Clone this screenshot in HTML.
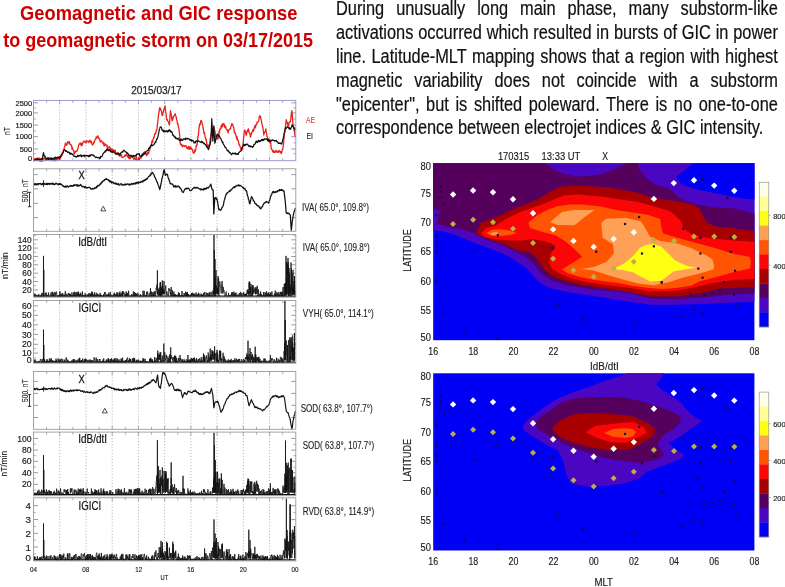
<!DOCTYPE html>
<html><head><meta charset="utf-8"><title>Geomagnetic and GIC response</title>
<style>
html,body{margin:0;padding:0;background:#fff;}
body{width:785px;height:587px;position:relative;overflow:hidden;}
.ttl{position:absolute;left:-100px;width:517px;text-align:center;font-family:"Liberation Sans",Arial,sans-serif;font-weight:bold;font-size:20.8px;color:#cc0000;white-space:nowrap;line-height:24px;}
.ttl span{display:inline-block;transform:scaleX(0.9);transform-origin:center;}
.par{position:absolute;left:335.8px;font-family:"Liberation Sans",Arial,sans-serif;font-size:19.4px;color:#111;line-height:22px;white-space:nowrap;transform-origin:0 0;-webkit-text-stroke:0.2px #111;}
.j{text-align:justify;text-align-last:justify;}
svg{position:absolute;left:0;top:0;}
</style></head><body>
<div class="ttl" style="top:0.9px"><span style="transform:scaleX(0.879)">Geomagnetic and GIC response</span></div>
<div class="ttl" style="top:27.5px"><span style="transform:scaleX(0.865)">to geomagnetic storm on 03/17/2015</span></div>
<div class="par j" style="top:-3.2px;width:523.5px;transform:scaleX(0.844)">During unusually long main phase, many substorm-like</div>
<div class="par j" style="top:21.2px;width:523.5px;transform:scaleX(0.844)">activations occurred which resulted in bursts of GIC in power</div>
<div class="par j" style="top:45.1px;width:523.5px;transform:scaleX(0.844)">line. Latitude-MLT mapping shows that a region with highest</div>
<div class="par j" style="top:68.8px;width:523.5px;transform:scaleX(0.844)">magnetic variability does not coincide with a substorm</div>
<div class="par j" style="top:92.6px;width:523.5px;transform:scaleX(0.844)">"epicenter", but is shifted poleward. There is no one-to-one</div>
<div class="par" style="top:116.1px;width:523.5px;transform:scaleX(0.844)">correspondence between electrojet indices &amp; GIC intensity.</div>
<svg width="785" height="587" viewBox="0 0 785 587">
<g font-family="Liberation Sans, Arial, sans-serif" fill="#222">
<text x="131.2" y="94.3" font-size="11.8" stroke="#222" stroke-width="0.25" textLength="50.4" lengthAdjust="spacingAndGlyphs">2015/03/17</text>
<line x1="59.7" y1="100.4" x2="59.7" y2="160.7" stroke="#8a8a8a" stroke-width="0.7" stroke-dasharray="1 2"/>
<line x1="86" y1="100.4" x2="86" y2="160.7" stroke="#8a8a8a" stroke-width="0.7" stroke-dasharray="1 2"/>
<line x1="112.2" y1="100.4" x2="112.2" y2="160.7" stroke="#8a8a8a" stroke-width="0.7" stroke-dasharray="1 2"/>
<line x1="138.4" y1="100.4" x2="138.4" y2="160.7" stroke="#8a8a8a" stroke-width="0.7" stroke-dasharray="1 2"/>
<line x1="164.7" y1="100.4" x2="164.7" y2="160.7" stroke="#8a8a8a" stroke-width="0.7" stroke-dasharray="1 2"/>
<line x1="190.9" y1="100.4" x2="190.9" y2="160.7" stroke="#8a8a8a" stroke-width="0.7" stroke-dasharray="1 2"/>
<line x1="217.1" y1="100.4" x2="217.1" y2="160.7" stroke="#8a8a8a" stroke-width="0.7" stroke-dasharray="1 2"/>
<line x1="243.3" y1="100.4" x2="243.3" y2="160.7" stroke="#8a8a8a" stroke-width="0.7" stroke-dasharray="1 2"/>
<line x1="269.6" y1="100.4" x2="269.6" y2="160.7" stroke="#8a8a8a" stroke-width="0.7" stroke-dasharray="1 2"/>
<line x1="46.6" y1="160.7" x2="46.6" y2="158.2" stroke="#777" stroke-width="0.6"/>
<line x1="46.6" y1="100.4" x2="46.6" y2="102.9" stroke="#777" stroke-width="0.6"/>
<line x1="59.7" y1="160.7" x2="59.7" y2="157.2" stroke="#777" stroke-width="0.6"/>
<line x1="59.7" y1="100.4" x2="59.7" y2="103.9" stroke="#777" stroke-width="0.6"/>
<line x1="72.8" y1="160.7" x2="72.8" y2="158.2" stroke="#777" stroke-width="0.6"/>
<line x1="72.8" y1="100.4" x2="72.8" y2="102.9" stroke="#777" stroke-width="0.6"/>
<line x1="86" y1="160.7" x2="86" y2="157.2" stroke="#777" stroke-width="0.6"/>
<line x1="86" y1="100.4" x2="86" y2="103.9" stroke="#777" stroke-width="0.6"/>
<line x1="99.1" y1="160.7" x2="99.1" y2="158.2" stroke="#777" stroke-width="0.6"/>
<line x1="99.1" y1="100.4" x2="99.1" y2="102.9" stroke="#777" stroke-width="0.6"/>
<line x1="112.2" y1="160.7" x2="112.2" y2="157.2" stroke="#777" stroke-width="0.6"/>
<line x1="112.2" y1="100.4" x2="112.2" y2="103.9" stroke="#777" stroke-width="0.6"/>
<line x1="125.3" y1="160.7" x2="125.3" y2="158.2" stroke="#777" stroke-width="0.6"/>
<line x1="125.3" y1="100.4" x2="125.3" y2="102.9" stroke="#777" stroke-width="0.6"/>
<line x1="138.4" y1="160.7" x2="138.4" y2="157.2" stroke="#777" stroke-width="0.6"/>
<line x1="138.4" y1="100.4" x2="138.4" y2="103.9" stroke="#777" stroke-width="0.6"/>
<line x1="151.5" y1="160.7" x2="151.5" y2="158.2" stroke="#777" stroke-width="0.6"/>
<line x1="151.5" y1="100.4" x2="151.5" y2="102.9" stroke="#777" stroke-width="0.6"/>
<line x1="164.7" y1="160.7" x2="164.7" y2="157.2" stroke="#777" stroke-width="0.6"/>
<line x1="164.7" y1="100.4" x2="164.7" y2="103.9" stroke="#777" stroke-width="0.6"/>
<line x1="177.8" y1="160.7" x2="177.8" y2="158.2" stroke="#777" stroke-width="0.6"/>
<line x1="177.8" y1="100.4" x2="177.8" y2="102.9" stroke="#777" stroke-width="0.6"/>
<line x1="190.9" y1="160.7" x2="190.9" y2="157.2" stroke="#777" stroke-width="0.6"/>
<line x1="190.9" y1="100.4" x2="190.9" y2="103.9" stroke="#777" stroke-width="0.6"/>
<line x1="204" y1="160.7" x2="204" y2="158.2" stroke="#777" stroke-width="0.6"/>
<line x1="204" y1="100.4" x2="204" y2="102.9" stroke="#777" stroke-width="0.6"/>
<line x1="217.1" y1="160.7" x2="217.1" y2="157.2" stroke="#777" stroke-width="0.6"/>
<line x1="217.1" y1="100.4" x2="217.1" y2="103.9" stroke="#777" stroke-width="0.6"/>
<line x1="230.2" y1="160.7" x2="230.2" y2="158.2" stroke="#777" stroke-width="0.6"/>
<line x1="230.2" y1="100.4" x2="230.2" y2="102.9" stroke="#777" stroke-width="0.6"/>
<line x1="243.3" y1="160.7" x2="243.3" y2="157.2" stroke="#777" stroke-width="0.6"/>
<line x1="243.3" y1="100.4" x2="243.3" y2="103.9" stroke="#777" stroke-width="0.6"/>
<line x1="256.5" y1="160.7" x2="256.5" y2="158.2" stroke="#777" stroke-width="0.6"/>
<line x1="256.5" y1="100.4" x2="256.5" y2="102.9" stroke="#777" stroke-width="0.6"/>
<line x1="269.6" y1="160.7" x2="269.6" y2="157.2" stroke="#777" stroke-width="0.6"/>
<line x1="269.6" y1="100.4" x2="269.6" y2="103.9" stroke="#777" stroke-width="0.6"/>
<line x1="282.7" y1="160.7" x2="282.7" y2="158.2" stroke="#777" stroke-width="0.6"/>
<line x1="282.7" y1="100.4" x2="282.7" y2="102.9" stroke="#777" stroke-width="0.6"/>
<line x1="59.7" y1="168.8" x2="59.7" y2="231.3" stroke="#8a8a8a" stroke-width="0.7" stroke-dasharray="1 2"/>
<line x1="86" y1="168.8" x2="86" y2="231.3" stroke="#8a8a8a" stroke-width="0.7" stroke-dasharray="1 2"/>
<line x1="112.2" y1="168.8" x2="112.2" y2="231.3" stroke="#8a8a8a" stroke-width="0.7" stroke-dasharray="1 2"/>
<line x1="138.4" y1="168.8" x2="138.4" y2="231.3" stroke="#8a8a8a" stroke-width="0.7" stroke-dasharray="1 2"/>
<line x1="164.7" y1="168.8" x2="164.7" y2="231.3" stroke="#8a8a8a" stroke-width="0.7" stroke-dasharray="1 2"/>
<line x1="190.9" y1="168.8" x2="190.9" y2="231.3" stroke="#8a8a8a" stroke-width="0.7" stroke-dasharray="1 2"/>
<line x1="217.1" y1="168.8" x2="217.1" y2="231.3" stroke="#8a8a8a" stroke-width="0.7" stroke-dasharray="1 2"/>
<line x1="243.3" y1="168.8" x2="243.3" y2="231.3" stroke="#8a8a8a" stroke-width="0.7" stroke-dasharray="1 2"/>
<line x1="269.6" y1="168.8" x2="269.6" y2="231.3" stroke="#8a8a8a" stroke-width="0.7" stroke-dasharray="1 2"/>
<line x1="46.6" y1="231.3" x2="46.6" y2="228.8" stroke="#777" stroke-width="0.6"/>
<line x1="46.6" y1="168.8" x2="46.6" y2="171.3" stroke="#777" stroke-width="0.6"/>
<line x1="59.7" y1="231.3" x2="59.7" y2="227.8" stroke="#777" stroke-width="0.6"/>
<line x1="59.7" y1="168.8" x2="59.7" y2="172.3" stroke="#777" stroke-width="0.6"/>
<line x1="72.8" y1="231.3" x2="72.8" y2="228.8" stroke="#777" stroke-width="0.6"/>
<line x1="72.8" y1="168.8" x2="72.8" y2="171.3" stroke="#777" stroke-width="0.6"/>
<line x1="86" y1="231.3" x2="86" y2="227.8" stroke="#777" stroke-width="0.6"/>
<line x1="86" y1="168.8" x2="86" y2="172.3" stroke="#777" stroke-width="0.6"/>
<line x1="99.1" y1="231.3" x2="99.1" y2="228.8" stroke="#777" stroke-width="0.6"/>
<line x1="99.1" y1="168.8" x2="99.1" y2="171.3" stroke="#777" stroke-width="0.6"/>
<line x1="112.2" y1="231.3" x2="112.2" y2="227.8" stroke="#777" stroke-width="0.6"/>
<line x1="112.2" y1="168.8" x2="112.2" y2="172.3" stroke="#777" stroke-width="0.6"/>
<line x1="125.3" y1="231.3" x2="125.3" y2="228.8" stroke="#777" stroke-width="0.6"/>
<line x1="125.3" y1="168.8" x2="125.3" y2="171.3" stroke="#777" stroke-width="0.6"/>
<line x1="138.4" y1="231.3" x2="138.4" y2="227.8" stroke="#777" stroke-width="0.6"/>
<line x1="138.4" y1="168.8" x2="138.4" y2="172.3" stroke="#777" stroke-width="0.6"/>
<line x1="151.5" y1="231.3" x2="151.5" y2="228.8" stroke="#777" stroke-width="0.6"/>
<line x1="151.5" y1="168.8" x2="151.5" y2="171.3" stroke="#777" stroke-width="0.6"/>
<line x1="164.7" y1="231.3" x2="164.7" y2="227.8" stroke="#777" stroke-width="0.6"/>
<line x1="164.7" y1="168.8" x2="164.7" y2="172.3" stroke="#777" stroke-width="0.6"/>
<line x1="177.8" y1="231.3" x2="177.8" y2="228.8" stroke="#777" stroke-width="0.6"/>
<line x1="177.8" y1="168.8" x2="177.8" y2="171.3" stroke="#777" stroke-width="0.6"/>
<line x1="190.9" y1="231.3" x2="190.9" y2="227.8" stroke="#777" stroke-width="0.6"/>
<line x1="190.9" y1="168.8" x2="190.9" y2="172.3" stroke="#777" stroke-width="0.6"/>
<line x1="204" y1="231.3" x2="204" y2="228.8" stroke="#777" stroke-width="0.6"/>
<line x1="204" y1="168.8" x2="204" y2="171.3" stroke="#777" stroke-width="0.6"/>
<line x1="217.1" y1="231.3" x2="217.1" y2="227.8" stroke="#777" stroke-width="0.6"/>
<line x1="217.1" y1="168.8" x2="217.1" y2="172.3" stroke="#777" stroke-width="0.6"/>
<line x1="230.2" y1="231.3" x2="230.2" y2="228.8" stroke="#777" stroke-width="0.6"/>
<line x1="230.2" y1="168.8" x2="230.2" y2="171.3" stroke="#777" stroke-width="0.6"/>
<line x1="243.3" y1="231.3" x2="243.3" y2="227.8" stroke="#777" stroke-width="0.6"/>
<line x1="243.3" y1="168.8" x2="243.3" y2="172.3" stroke="#777" stroke-width="0.6"/>
<line x1="256.5" y1="231.3" x2="256.5" y2="228.8" stroke="#777" stroke-width="0.6"/>
<line x1="256.5" y1="168.8" x2="256.5" y2="171.3" stroke="#777" stroke-width="0.6"/>
<line x1="269.6" y1="231.3" x2="269.6" y2="227.8" stroke="#777" stroke-width="0.6"/>
<line x1="269.6" y1="168.8" x2="269.6" y2="172.3" stroke="#777" stroke-width="0.6"/>
<line x1="282.7" y1="231.3" x2="282.7" y2="228.8" stroke="#777" stroke-width="0.6"/>
<line x1="282.7" y1="168.8" x2="282.7" y2="171.3" stroke="#777" stroke-width="0.6"/>
<line x1="59.7" y1="234.5" x2="59.7" y2="297.2" stroke="#8a8a8a" stroke-width="0.7" stroke-dasharray="1 2"/>
<line x1="86" y1="234.5" x2="86" y2="297.2" stroke="#8a8a8a" stroke-width="0.7" stroke-dasharray="1 2"/>
<line x1="112.2" y1="234.5" x2="112.2" y2="297.2" stroke="#8a8a8a" stroke-width="0.7" stroke-dasharray="1 2"/>
<line x1="138.4" y1="234.5" x2="138.4" y2="297.2" stroke="#8a8a8a" stroke-width="0.7" stroke-dasharray="1 2"/>
<line x1="164.7" y1="234.5" x2="164.7" y2="297.2" stroke="#8a8a8a" stroke-width="0.7" stroke-dasharray="1 2"/>
<line x1="190.9" y1="234.5" x2="190.9" y2="297.2" stroke="#8a8a8a" stroke-width="0.7" stroke-dasharray="1 2"/>
<line x1="217.1" y1="234.5" x2="217.1" y2="297.2" stroke="#8a8a8a" stroke-width="0.7" stroke-dasharray="1 2"/>
<line x1="243.3" y1="234.5" x2="243.3" y2="297.2" stroke="#8a8a8a" stroke-width="0.7" stroke-dasharray="1 2"/>
<line x1="269.6" y1="234.5" x2="269.6" y2="297.2" stroke="#8a8a8a" stroke-width="0.7" stroke-dasharray="1 2"/>
<line x1="46.6" y1="297.2" x2="46.6" y2="294.7" stroke="#777" stroke-width="0.6"/>
<line x1="46.6" y1="234.5" x2="46.6" y2="237" stroke="#777" stroke-width="0.6"/>
<line x1="59.7" y1="297.2" x2="59.7" y2="293.7" stroke="#777" stroke-width="0.6"/>
<line x1="59.7" y1="234.5" x2="59.7" y2="238" stroke="#777" stroke-width="0.6"/>
<line x1="72.8" y1="297.2" x2="72.8" y2="294.7" stroke="#777" stroke-width="0.6"/>
<line x1="72.8" y1="234.5" x2="72.8" y2="237" stroke="#777" stroke-width="0.6"/>
<line x1="86" y1="297.2" x2="86" y2="293.7" stroke="#777" stroke-width="0.6"/>
<line x1="86" y1="234.5" x2="86" y2="238" stroke="#777" stroke-width="0.6"/>
<line x1="99.1" y1="297.2" x2="99.1" y2="294.7" stroke="#777" stroke-width="0.6"/>
<line x1="99.1" y1="234.5" x2="99.1" y2="237" stroke="#777" stroke-width="0.6"/>
<line x1="112.2" y1="297.2" x2="112.2" y2="293.7" stroke="#777" stroke-width="0.6"/>
<line x1="112.2" y1="234.5" x2="112.2" y2="238" stroke="#777" stroke-width="0.6"/>
<line x1="125.3" y1="297.2" x2="125.3" y2="294.7" stroke="#777" stroke-width="0.6"/>
<line x1="125.3" y1="234.5" x2="125.3" y2="237" stroke="#777" stroke-width="0.6"/>
<line x1="138.4" y1="297.2" x2="138.4" y2="293.7" stroke="#777" stroke-width="0.6"/>
<line x1="138.4" y1="234.5" x2="138.4" y2="238" stroke="#777" stroke-width="0.6"/>
<line x1="151.5" y1="297.2" x2="151.5" y2="294.7" stroke="#777" stroke-width="0.6"/>
<line x1="151.5" y1="234.5" x2="151.5" y2="237" stroke="#777" stroke-width="0.6"/>
<line x1="164.7" y1="297.2" x2="164.7" y2="293.7" stroke="#777" stroke-width="0.6"/>
<line x1="164.7" y1="234.5" x2="164.7" y2="238" stroke="#777" stroke-width="0.6"/>
<line x1="177.8" y1="297.2" x2="177.8" y2="294.7" stroke="#777" stroke-width="0.6"/>
<line x1="177.8" y1="234.5" x2="177.8" y2="237" stroke="#777" stroke-width="0.6"/>
<line x1="190.9" y1="297.2" x2="190.9" y2="293.7" stroke="#777" stroke-width="0.6"/>
<line x1="190.9" y1="234.5" x2="190.9" y2="238" stroke="#777" stroke-width="0.6"/>
<line x1="204" y1="297.2" x2="204" y2="294.7" stroke="#777" stroke-width="0.6"/>
<line x1="204" y1="234.5" x2="204" y2="237" stroke="#777" stroke-width="0.6"/>
<line x1="217.1" y1="297.2" x2="217.1" y2="293.7" stroke="#777" stroke-width="0.6"/>
<line x1="217.1" y1="234.5" x2="217.1" y2="238" stroke="#777" stroke-width="0.6"/>
<line x1="230.2" y1="297.2" x2="230.2" y2="294.7" stroke="#777" stroke-width="0.6"/>
<line x1="230.2" y1="234.5" x2="230.2" y2="237" stroke="#777" stroke-width="0.6"/>
<line x1="243.3" y1="297.2" x2="243.3" y2="293.7" stroke="#777" stroke-width="0.6"/>
<line x1="243.3" y1="234.5" x2="243.3" y2="238" stroke="#777" stroke-width="0.6"/>
<line x1="256.5" y1="297.2" x2="256.5" y2="294.7" stroke="#777" stroke-width="0.6"/>
<line x1="256.5" y1="234.5" x2="256.5" y2="237" stroke="#777" stroke-width="0.6"/>
<line x1="269.6" y1="297.2" x2="269.6" y2="293.7" stroke="#777" stroke-width="0.6"/>
<line x1="269.6" y1="234.5" x2="269.6" y2="238" stroke="#777" stroke-width="0.6"/>
<line x1="282.7" y1="297.2" x2="282.7" y2="294.7" stroke="#777" stroke-width="0.6"/>
<line x1="282.7" y1="234.5" x2="282.7" y2="237" stroke="#777" stroke-width="0.6"/>
<line x1="59.7" y1="300.5" x2="59.7" y2="363.2" stroke="#8a8a8a" stroke-width="0.7" stroke-dasharray="1 2"/>
<line x1="86" y1="300.5" x2="86" y2="363.2" stroke="#8a8a8a" stroke-width="0.7" stroke-dasharray="1 2"/>
<line x1="112.2" y1="300.5" x2="112.2" y2="363.2" stroke="#8a8a8a" stroke-width="0.7" stroke-dasharray="1 2"/>
<line x1="138.4" y1="300.5" x2="138.4" y2="363.2" stroke="#8a8a8a" stroke-width="0.7" stroke-dasharray="1 2"/>
<line x1="164.7" y1="300.5" x2="164.7" y2="363.2" stroke="#8a8a8a" stroke-width="0.7" stroke-dasharray="1 2"/>
<line x1="190.9" y1="300.5" x2="190.9" y2="363.2" stroke="#8a8a8a" stroke-width="0.7" stroke-dasharray="1 2"/>
<line x1="217.1" y1="300.5" x2="217.1" y2="363.2" stroke="#8a8a8a" stroke-width="0.7" stroke-dasharray="1 2"/>
<line x1="243.3" y1="300.5" x2="243.3" y2="363.2" stroke="#8a8a8a" stroke-width="0.7" stroke-dasharray="1 2"/>
<line x1="269.6" y1="300.5" x2="269.6" y2="363.2" stroke="#8a8a8a" stroke-width="0.7" stroke-dasharray="1 2"/>
<line x1="46.6" y1="363.2" x2="46.6" y2="360.7" stroke="#777" stroke-width="0.6"/>
<line x1="46.6" y1="300.5" x2="46.6" y2="303" stroke="#777" stroke-width="0.6"/>
<line x1="59.7" y1="363.2" x2="59.7" y2="359.7" stroke="#777" stroke-width="0.6"/>
<line x1="59.7" y1="300.5" x2="59.7" y2="304" stroke="#777" stroke-width="0.6"/>
<line x1="72.8" y1="363.2" x2="72.8" y2="360.7" stroke="#777" stroke-width="0.6"/>
<line x1="72.8" y1="300.5" x2="72.8" y2="303" stroke="#777" stroke-width="0.6"/>
<line x1="86" y1="363.2" x2="86" y2="359.7" stroke="#777" stroke-width="0.6"/>
<line x1="86" y1="300.5" x2="86" y2="304" stroke="#777" stroke-width="0.6"/>
<line x1="99.1" y1="363.2" x2="99.1" y2="360.7" stroke="#777" stroke-width="0.6"/>
<line x1="99.1" y1="300.5" x2="99.1" y2="303" stroke="#777" stroke-width="0.6"/>
<line x1="112.2" y1="363.2" x2="112.2" y2="359.7" stroke="#777" stroke-width="0.6"/>
<line x1="112.2" y1="300.5" x2="112.2" y2="304" stroke="#777" stroke-width="0.6"/>
<line x1="125.3" y1="363.2" x2="125.3" y2="360.7" stroke="#777" stroke-width="0.6"/>
<line x1="125.3" y1="300.5" x2="125.3" y2="303" stroke="#777" stroke-width="0.6"/>
<line x1="138.4" y1="363.2" x2="138.4" y2="359.7" stroke="#777" stroke-width="0.6"/>
<line x1="138.4" y1="300.5" x2="138.4" y2="304" stroke="#777" stroke-width="0.6"/>
<line x1="151.5" y1="363.2" x2="151.5" y2="360.7" stroke="#777" stroke-width="0.6"/>
<line x1="151.5" y1="300.5" x2="151.5" y2="303" stroke="#777" stroke-width="0.6"/>
<line x1="164.7" y1="363.2" x2="164.7" y2="359.7" stroke="#777" stroke-width="0.6"/>
<line x1="164.7" y1="300.5" x2="164.7" y2="304" stroke="#777" stroke-width="0.6"/>
<line x1="177.8" y1="363.2" x2="177.8" y2="360.7" stroke="#777" stroke-width="0.6"/>
<line x1="177.8" y1="300.5" x2="177.8" y2="303" stroke="#777" stroke-width="0.6"/>
<line x1="190.9" y1="363.2" x2="190.9" y2="359.7" stroke="#777" stroke-width="0.6"/>
<line x1="190.9" y1="300.5" x2="190.9" y2="304" stroke="#777" stroke-width="0.6"/>
<line x1="204" y1="363.2" x2="204" y2="360.7" stroke="#777" stroke-width="0.6"/>
<line x1="204" y1="300.5" x2="204" y2="303" stroke="#777" stroke-width="0.6"/>
<line x1="217.1" y1="363.2" x2="217.1" y2="359.7" stroke="#777" stroke-width="0.6"/>
<line x1="217.1" y1="300.5" x2="217.1" y2="304" stroke="#777" stroke-width="0.6"/>
<line x1="230.2" y1="363.2" x2="230.2" y2="360.7" stroke="#777" stroke-width="0.6"/>
<line x1="230.2" y1="300.5" x2="230.2" y2="303" stroke="#777" stroke-width="0.6"/>
<line x1="243.3" y1="363.2" x2="243.3" y2="359.7" stroke="#777" stroke-width="0.6"/>
<line x1="243.3" y1="300.5" x2="243.3" y2="304" stroke="#777" stroke-width="0.6"/>
<line x1="256.5" y1="363.2" x2="256.5" y2="360.7" stroke="#777" stroke-width="0.6"/>
<line x1="256.5" y1="300.5" x2="256.5" y2="303" stroke="#777" stroke-width="0.6"/>
<line x1="269.6" y1="363.2" x2="269.6" y2="359.7" stroke="#777" stroke-width="0.6"/>
<line x1="269.6" y1="300.5" x2="269.6" y2="304" stroke="#777" stroke-width="0.6"/>
<line x1="282.7" y1="363.2" x2="282.7" y2="360.7" stroke="#777" stroke-width="0.6"/>
<line x1="282.7" y1="300.5" x2="282.7" y2="303" stroke="#777" stroke-width="0.6"/>
<line x1="59.7" y1="371.5" x2="59.7" y2="429.3" stroke="#8a8a8a" stroke-width="0.7" stroke-dasharray="1 2"/>
<line x1="86" y1="371.5" x2="86" y2="429.3" stroke="#8a8a8a" stroke-width="0.7" stroke-dasharray="1 2"/>
<line x1="112.2" y1="371.5" x2="112.2" y2="429.3" stroke="#8a8a8a" stroke-width="0.7" stroke-dasharray="1 2"/>
<line x1="138.4" y1="371.5" x2="138.4" y2="429.3" stroke="#8a8a8a" stroke-width="0.7" stroke-dasharray="1 2"/>
<line x1="164.7" y1="371.5" x2="164.7" y2="429.3" stroke="#8a8a8a" stroke-width="0.7" stroke-dasharray="1 2"/>
<line x1="190.9" y1="371.5" x2="190.9" y2="429.3" stroke="#8a8a8a" stroke-width="0.7" stroke-dasharray="1 2"/>
<line x1="217.1" y1="371.5" x2="217.1" y2="429.3" stroke="#8a8a8a" stroke-width="0.7" stroke-dasharray="1 2"/>
<line x1="243.3" y1="371.5" x2="243.3" y2="429.3" stroke="#8a8a8a" stroke-width="0.7" stroke-dasharray="1 2"/>
<line x1="269.6" y1="371.5" x2="269.6" y2="429.3" stroke="#8a8a8a" stroke-width="0.7" stroke-dasharray="1 2"/>
<line x1="46.6" y1="429.3" x2="46.6" y2="426.8" stroke="#777" stroke-width="0.6"/>
<line x1="46.6" y1="371.5" x2="46.6" y2="374" stroke="#777" stroke-width="0.6"/>
<line x1="59.7" y1="429.3" x2="59.7" y2="425.8" stroke="#777" stroke-width="0.6"/>
<line x1="59.7" y1="371.5" x2="59.7" y2="375" stroke="#777" stroke-width="0.6"/>
<line x1="72.8" y1="429.3" x2="72.8" y2="426.8" stroke="#777" stroke-width="0.6"/>
<line x1="72.8" y1="371.5" x2="72.8" y2="374" stroke="#777" stroke-width="0.6"/>
<line x1="86" y1="429.3" x2="86" y2="425.8" stroke="#777" stroke-width="0.6"/>
<line x1="86" y1="371.5" x2="86" y2="375" stroke="#777" stroke-width="0.6"/>
<line x1="99.1" y1="429.3" x2="99.1" y2="426.8" stroke="#777" stroke-width="0.6"/>
<line x1="99.1" y1="371.5" x2="99.1" y2="374" stroke="#777" stroke-width="0.6"/>
<line x1="112.2" y1="429.3" x2="112.2" y2="425.8" stroke="#777" stroke-width="0.6"/>
<line x1="112.2" y1="371.5" x2="112.2" y2="375" stroke="#777" stroke-width="0.6"/>
<line x1="125.3" y1="429.3" x2="125.3" y2="426.8" stroke="#777" stroke-width="0.6"/>
<line x1="125.3" y1="371.5" x2="125.3" y2="374" stroke="#777" stroke-width="0.6"/>
<line x1="138.4" y1="429.3" x2="138.4" y2="425.8" stroke="#777" stroke-width="0.6"/>
<line x1="138.4" y1="371.5" x2="138.4" y2="375" stroke="#777" stroke-width="0.6"/>
<line x1="151.5" y1="429.3" x2="151.5" y2="426.8" stroke="#777" stroke-width="0.6"/>
<line x1="151.5" y1="371.5" x2="151.5" y2="374" stroke="#777" stroke-width="0.6"/>
<line x1="164.7" y1="429.3" x2="164.7" y2="425.8" stroke="#777" stroke-width="0.6"/>
<line x1="164.7" y1="371.5" x2="164.7" y2="375" stroke="#777" stroke-width="0.6"/>
<line x1="177.8" y1="429.3" x2="177.8" y2="426.8" stroke="#777" stroke-width="0.6"/>
<line x1="177.8" y1="371.5" x2="177.8" y2="374" stroke="#777" stroke-width="0.6"/>
<line x1="190.9" y1="429.3" x2="190.9" y2="425.8" stroke="#777" stroke-width="0.6"/>
<line x1="190.9" y1="371.5" x2="190.9" y2="375" stroke="#777" stroke-width="0.6"/>
<line x1="204" y1="429.3" x2="204" y2="426.8" stroke="#777" stroke-width="0.6"/>
<line x1="204" y1="371.5" x2="204" y2="374" stroke="#777" stroke-width="0.6"/>
<line x1="217.1" y1="429.3" x2="217.1" y2="425.8" stroke="#777" stroke-width="0.6"/>
<line x1="217.1" y1="371.5" x2="217.1" y2="375" stroke="#777" stroke-width="0.6"/>
<line x1="230.2" y1="429.3" x2="230.2" y2="426.8" stroke="#777" stroke-width="0.6"/>
<line x1="230.2" y1="371.5" x2="230.2" y2="374" stroke="#777" stroke-width="0.6"/>
<line x1="243.3" y1="429.3" x2="243.3" y2="425.8" stroke="#777" stroke-width="0.6"/>
<line x1="243.3" y1="371.5" x2="243.3" y2="375" stroke="#777" stroke-width="0.6"/>
<line x1="256.5" y1="429.3" x2="256.5" y2="426.8" stroke="#777" stroke-width="0.6"/>
<line x1="256.5" y1="371.5" x2="256.5" y2="374" stroke="#777" stroke-width="0.6"/>
<line x1="269.6" y1="429.3" x2="269.6" y2="425.8" stroke="#777" stroke-width="0.6"/>
<line x1="269.6" y1="371.5" x2="269.6" y2="375" stroke="#777" stroke-width="0.6"/>
<line x1="282.7" y1="429.3" x2="282.7" y2="426.8" stroke="#777" stroke-width="0.6"/>
<line x1="282.7" y1="371.5" x2="282.7" y2="374" stroke="#777" stroke-width="0.6"/>
<line x1="59.7" y1="432.1" x2="59.7" y2="495.7" stroke="#8a8a8a" stroke-width="0.7" stroke-dasharray="1 2"/>
<line x1="86" y1="432.1" x2="86" y2="495.7" stroke="#8a8a8a" stroke-width="0.7" stroke-dasharray="1 2"/>
<line x1="112.2" y1="432.1" x2="112.2" y2="495.7" stroke="#8a8a8a" stroke-width="0.7" stroke-dasharray="1 2"/>
<line x1="138.4" y1="432.1" x2="138.4" y2="495.7" stroke="#8a8a8a" stroke-width="0.7" stroke-dasharray="1 2"/>
<line x1="164.7" y1="432.1" x2="164.7" y2="495.7" stroke="#8a8a8a" stroke-width="0.7" stroke-dasharray="1 2"/>
<line x1="190.9" y1="432.1" x2="190.9" y2="495.7" stroke="#8a8a8a" stroke-width="0.7" stroke-dasharray="1 2"/>
<line x1="217.1" y1="432.1" x2="217.1" y2="495.7" stroke="#8a8a8a" stroke-width="0.7" stroke-dasharray="1 2"/>
<line x1="243.3" y1="432.1" x2="243.3" y2="495.7" stroke="#8a8a8a" stroke-width="0.7" stroke-dasharray="1 2"/>
<line x1="269.6" y1="432.1" x2="269.6" y2="495.7" stroke="#8a8a8a" stroke-width="0.7" stroke-dasharray="1 2"/>
<line x1="46.6" y1="495.7" x2="46.6" y2="493.2" stroke="#777" stroke-width="0.6"/>
<line x1="46.6" y1="432.1" x2="46.6" y2="434.6" stroke="#777" stroke-width="0.6"/>
<line x1="59.7" y1="495.7" x2="59.7" y2="492.2" stroke="#777" stroke-width="0.6"/>
<line x1="59.7" y1="432.1" x2="59.7" y2="435.6" stroke="#777" stroke-width="0.6"/>
<line x1="72.8" y1="495.7" x2="72.8" y2="493.2" stroke="#777" stroke-width="0.6"/>
<line x1="72.8" y1="432.1" x2="72.8" y2="434.6" stroke="#777" stroke-width="0.6"/>
<line x1="86" y1="495.7" x2="86" y2="492.2" stroke="#777" stroke-width="0.6"/>
<line x1="86" y1="432.1" x2="86" y2="435.6" stroke="#777" stroke-width="0.6"/>
<line x1="99.1" y1="495.7" x2="99.1" y2="493.2" stroke="#777" stroke-width="0.6"/>
<line x1="99.1" y1="432.1" x2="99.1" y2="434.6" stroke="#777" stroke-width="0.6"/>
<line x1="112.2" y1="495.7" x2="112.2" y2="492.2" stroke="#777" stroke-width="0.6"/>
<line x1="112.2" y1="432.1" x2="112.2" y2="435.6" stroke="#777" stroke-width="0.6"/>
<line x1="125.3" y1="495.7" x2="125.3" y2="493.2" stroke="#777" stroke-width="0.6"/>
<line x1="125.3" y1="432.1" x2="125.3" y2="434.6" stroke="#777" stroke-width="0.6"/>
<line x1="138.4" y1="495.7" x2="138.4" y2="492.2" stroke="#777" stroke-width="0.6"/>
<line x1="138.4" y1="432.1" x2="138.4" y2="435.6" stroke="#777" stroke-width="0.6"/>
<line x1="151.5" y1="495.7" x2="151.5" y2="493.2" stroke="#777" stroke-width="0.6"/>
<line x1="151.5" y1="432.1" x2="151.5" y2="434.6" stroke="#777" stroke-width="0.6"/>
<line x1="164.7" y1="495.7" x2="164.7" y2="492.2" stroke="#777" stroke-width="0.6"/>
<line x1="164.7" y1="432.1" x2="164.7" y2="435.6" stroke="#777" stroke-width="0.6"/>
<line x1="177.8" y1="495.7" x2="177.8" y2="493.2" stroke="#777" stroke-width="0.6"/>
<line x1="177.8" y1="432.1" x2="177.8" y2="434.6" stroke="#777" stroke-width="0.6"/>
<line x1="190.9" y1="495.7" x2="190.9" y2="492.2" stroke="#777" stroke-width="0.6"/>
<line x1="190.9" y1="432.1" x2="190.9" y2="435.6" stroke="#777" stroke-width="0.6"/>
<line x1="204" y1="495.7" x2="204" y2="493.2" stroke="#777" stroke-width="0.6"/>
<line x1="204" y1="432.1" x2="204" y2="434.6" stroke="#777" stroke-width="0.6"/>
<line x1="217.1" y1="495.7" x2="217.1" y2="492.2" stroke="#777" stroke-width="0.6"/>
<line x1="217.1" y1="432.1" x2="217.1" y2="435.6" stroke="#777" stroke-width="0.6"/>
<line x1="230.2" y1="495.7" x2="230.2" y2="493.2" stroke="#777" stroke-width="0.6"/>
<line x1="230.2" y1="432.1" x2="230.2" y2="434.6" stroke="#777" stroke-width="0.6"/>
<line x1="243.3" y1="495.7" x2="243.3" y2="492.2" stroke="#777" stroke-width="0.6"/>
<line x1="243.3" y1="432.1" x2="243.3" y2="435.6" stroke="#777" stroke-width="0.6"/>
<line x1="256.5" y1="495.7" x2="256.5" y2="493.2" stroke="#777" stroke-width="0.6"/>
<line x1="256.5" y1="432.1" x2="256.5" y2="434.6" stroke="#777" stroke-width="0.6"/>
<line x1="269.6" y1="495.7" x2="269.6" y2="492.2" stroke="#777" stroke-width="0.6"/>
<line x1="269.6" y1="432.1" x2="269.6" y2="435.6" stroke="#777" stroke-width="0.6"/>
<line x1="282.7" y1="495.7" x2="282.7" y2="493.2" stroke="#777" stroke-width="0.6"/>
<line x1="282.7" y1="432.1" x2="282.7" y2="434.6" stroke="#777" stroke-width="0.6"/>
<line x1="59.7" y1="497.8" x2="59.7" y2="560.9" stroke="#8a8a8a" stroke-width="0.7" stroke-dasharray="1 2"/>
<line x1="86" y1="497.8" x2="86" y2="560.9" stroke="#8a8a8a" stroke-width="0.7" stroke-dasharray="1 2"/>
<line x1="112.2" y1="497.8" x2="112.2" y2="560.9" stroke="#8a8a8a" stroke-width="0.7" stroke-dasharray="1 2"/>
<line x1="138.4" y1="497.8" x2="138.4" y2="560.9" stroke="#8a8a8a" stroke-width="0.7" stroke-dasharray="1 2"/>
<line x1="164.7" y1="497.8" x2="164.7" y2="560.9" stroke="#8a8a8a" stroke-width="0.7" stroke-dasharray="1 2"/>
<line x1="190.9" y1="497.8" x2="190.9" y2="560.9" stroke="#8a8a8a" stroke-width="0.7" stroke-dasharray="1 2"/>
<line x1="217.1" y1="497.8" x2="217.1" y2="560.9" stroke="#8a8a8a" stroke-width="0.7" stroke-dasharray="1 2"/>
<line x1="243.3" y1="497.8" x2="243.3" y2="560.9" stroke="#8a8a8a" stroke-width="0.7" stroke-dasharray="1 2"/>
<line x1="269.6" y1="497.8" x2="269.6" y2="560.9" stroke="#8a8a8a" stroke-width="0.7" stroke-dasharray="1 2"/>
<line x1="46.6" y1="560.9" x2="46.6" y2="558.4" stroke="#777" stroke-width="0.6"/>
<line x1="46.6" y1="497.8" x2="46.6" y2="500.3" stroke="#777" stroke-width="0.6"/>
<line x1="59.7" y1="560.9" x2="59.7" y2="557.4" stroke="#777" stroke-width="0.6"/>
<line x1="59.7" y1="497.8" x2="59.7" y2="501.3" stroke="#777" stroke-width="0.6"/>
<line x1="72.8" y1="560.9" x2="72.8" y2="558.4" stroke="#777" stroke-width="0.6"/>
<line x1="72.8" y1="497.8" x2="72.8" y2="500.3" stroke="#777" stroke-width="0.6"/>
<line x1="86" y1="560.9" x2="86" y2="557.4" stroke="#777" stroke-width="0.6"/>
<line x1="86" y1="497.8" x2="86" y2="501.3" stroke="#777" stroke-width="0.6"/>
<line x1="99.1" y1="560.9" x2="99.1" y2="558.4" stroke="#777" stroke-width="0.6"/>
<line x1="99.1" y1="497.8" x2="99.1" y2="500.3" stroke="#777" stroke-width="0.6"/>
<line x1="112.2" y1="560.9" x2="112.2" y2="557.4" stroke="#777" stroke-width="0.6"/>
<line x1="112.2" y1="497.8" x2="112.2" y2="501.3" stroke="#777" stroke-width="0.6"/>
<line x1="125.3" y1="560.9" x2="125.3" y2="558.4" stroke="#777" stroke-width="0.6"/>
<line x1="125.3" y1="497.8" x2="125.3" y2="500.3" stroke="#777" stroke-width="0.6"/>
<line x1="138.4" y1="560.9" x2="138.4" y2="557.4" stroke="#777" stroke-width="0.6"/>
<line x1="138.4" y1="497.8" x2="138.4" y2="501.3" stroke="#777" stroke-width="0.6"/>
<line x1="151.5" y1="560.9" x2="151.5" y2="558.4" stroke="#777" stroke-width="0.6"/>
<line x1="151.5" y1="497.8" x2="151.5" y2="500.3" stroke="#777" stroke-width="0.6"/>
<line x1="164.7" y1="560.9" x2="164.7" y2="557.4" stroke="#777" stroke-width="0.6"/>
<line x1="164.7" y1="497.8" x2="164.7" y2="501.3" stroke="#777" stroke-width="0.6"/>
<line x1="177.8" y1="560.9" x2="177.8" y2="558.4" stroke="#777" stroke-width="0.6"/>
<line x1="177.8" y1="497.8" x2="177.8" y2="500.3" stroke="#777" stroke-width="0.6"/>
<line x1="190.9" y1="560.9" x2="190.9" y2="557.4" stroke="#777" stroke-width="0.6"/>
<line x1="190.9" y1="497.8" x2="190.9" y2="501.3" stroke="#777" stroke-width="0.6"/>
<line x1="204" y1="560.9" x2="204" y2="558.4" stroke="#777" stroke-width="0.6"/>
<line x1="204" y1="497.8" x2="204" y2="500.3" stroke="#777" stroke-width="0.6"/>
<line x1="217.1" y1="560.9" x2="217.1" y2="557.4" stroke="#777" stroke-width="0.6"/>
<line x1="217.1" y1="497.8" x2="217.1" y2="501.3" stroke="#777" stroke-width="0.6"/>
<line x1="230.2" y1="560.9" x2="230.2" y2="558.4" stroke="#777" stroke-width="0.6"/>
<line x1="230.2" y1="497.8" x2="230.2" y2="500.3" stroke="#777" stroke-width="0.6"/>
<line x1="243.3" y1="560.9" x2="243.3" y2="557.4" stroke="#777" stroke-width="0.6"/>
<line x1="243.3" y1="497.8" x2="243.3" y2="501.3" stroke="#777" stroke-width="0.6"/>
<line x1="256.5" y1="560.9" x2="256.5" y2="558.4" stroke="#777" stroke-width="0.6"/>
<line x1="256.5" y1="497.8" x2="256.5" y2="500.3" stroke="#777" stroke-width="0.6"/>
<line x1="269.6" y1="560.9" x2="269.6" y2="557.4" stroke="#777" stroke-width="0.6"/>
<line x1="269.6" y1="497.8" x2="269.6" y2="501.3" stroke="#777" stroke-width="0.6"/>
<line x1="282.7" y1="560.9" x2="282.7" y2="558.4" stroke="#777" stroke-width="0.6"/>
<line x1="282.7" y1="497.8" x2="282.7" y2="500.3" stroke="#777" stroke-width="0.6"/>
</g>
<line x1="33.5" y1="102.8" x2="38.0" y2="102.8" stroke="#555" stroke-width="0.6"/>
<line x1="295.8" y1="102.8" x2="291.3" y2="102.8" stroke="#555" stroke-width="0.6"/>
<line x1="33.5" y1="112.9" x2="38.0" y2="112.9" stroke="#555" stroke-width="0.6"/>
<line x1="295.8" y1="112.9" x2="291.3" y2="112.9" stroke="#555" stroke-width="0.6"/>
<line x1="33.5" y1="125.1" x2="38.0" y2="125.1" stroke="#555" stroke-width="0.6"/>
<line x1="295.8" y1="125.1" x2="291.3" y2="125.1" stroke="#555" stroke-width="0.6"/>
<line x1="33.5" y1="136.7" x2="38.0" y2="136.7" stroke="#555" stroke-width="0.6"/>
<line x1="295.8" y1="136.7" x2="291.3" y2="136.7" stroke="#555" stroke-width="0.6"/>
<line x1="33.5" y1="149" x2="38.0" y2="149" stroke="#555" stroke-width="0.6"/>
<line x1="295.8" y1="149" x2="291.3" y2="149" stroke="#555" stroke-width="0.6"/>
<line x1="33.5" y1="107.9" x2="36.0" y2="107.9" stroke="#777" stroke-width="0.6"/>
<line x1="295.8" y1="107.9" x2="293.3" y2="107.9" stroke="#777" stroke-width="0.6"/>
<line x1="33.5" y1="119" x2="36.0" y2="119" stroke="#777" stroke-width="0.6"/>
<line x1="295.8" y1="119" x2="293.3" y2="119" stroke="#777" stroke-width="0.6"/>
<line x1="33.5" y1="130.9" x2="36.0" y2="130.9" stroke="#777" stroke-width="0.6"/>
<line x1="295.8" y1="130.9" x2="293.3" y2="130.9" stroke="#777" stroke-width="0.6"/>
<line x1="33.5" y1="142.9" x2="36.0" y2="142.9" stroke="#777" stroke-width="0.6"/>
<line x1="295.8" y1="142.9" x2="293.3" y2="142.9" stroke="#777" stroke-width="0.6"/>
<line x1="33.5" y1="153.7" x2="36.0" y2="153.7" stroke="#777" stroke-width="0.6"/>
<line x1="295.8" y1="153.7" x2="293.3" y2="153.7" stroke="#777" stroke-width="0.6"/>
<polyline points="33.6,160.3 34,159.6 34.4,158.9 34.8,160.7 35.2,158.5 35.6,160.2 36,159.5 36.4,158.3 36.8,160 37.2,158.2 37.6,159.6 38,158.2 38.4,158.2 38.8,159.5 39.2,161 39.6,158.2 40,158.6 40.4,160.1 40.8,161.3 41.2,159.8 41.6,159.1 42,161.2 42.4,157.7 42.8,160.7 43.2,159.3 43.6,158.5 44.1,158 44.5,157.9 44.9,158.6 45.3,160.6 45.8,158.2 46.2,159.7 46.6,159.9 47,158.9 47.5,159.6 47.9,157.8 48.3,157.8 48.7,158.3 49.1,160.2 49.6,159.2 50,159.5 50.4,158.8 50.8,159.8 51.2,159.2 51.7,158.6 52.1,160.5 52.5,160.1 52.9,158.4 53.3,159.6 53.8,159.4 54.2,160.7 54.6,160.1 55,159.2 55.4,158.3 55.8,160.9 56.2,157.5 56.7,158.6 57.1,159.8 57.5,157.4 57.9,158.6 58.3,156.8 58.8,159.2 59.2,159.5 59.6,158.7 60,158.3 60.4,158.8 60.8,155.7 61.2,156.2 61.6,154.9 62,153.9 62.4,152.4 62.8,152.9 63.2,150.7 63.7,151 64.2,147.8 64.6,147 65.1,145 65.5,142.9 65.9,144.9 66.3,144.3 66.8,145.2 67.2,144.2 67.6,141.7 68,142.1 68.5,142.1 69,143.7 69.4,141.7 69.9,144 70.3,144.7 70.7,144.4 71.1,145 71.6,145.6 72,149.1 72.4,147.5 72.8,149.7 73.3,149.7 73.8,151.2 74.2,154 74.7,153.6 75.2,151.3 75.7,152 76.1,151.6 76.6,150.7 77.1,151 77.5,149.5 78,148.5 78.5,145.9 79,144.3 79.5,144.1 79.9,143.2 80.4,143 80.9,145 81.3,145.7 81.8,143.2 82.3,145 82.8,142.8 83.2,142.1 83.7,141.1 84.2,141.2 84.7,141.6 85.2,142.4 85.6,141.6 86.1,143 86.6,140.7 87,141.8 87.5,141.2 88,141.2 88.4,141.3 88.8,142.5 89.2,141.3 89.6,140.5 90,140.2 90.5,141.6 91,142.8 91.4,141.4 91.9,144 92.4,145 92.8,144.1 93.3,144 93.8,142.1 94.3,142.5 94.8,140.2 95.2,139.5 95.7,139.2 96.2,137 96.7,138.2 97.2,137 97.7,135.8 98.1,136.2 98.6,138.3 99.1,138.1 99.5,138.9 100,140.5 100.5,142.1 101,140.7 101.4,140.8 101.9,141.7 102.4,141.9 102.8,143.2 103.3,144 103.7,142.5 104.1,146 104.5,145.2 105,143.8 105.4,144.4 105.8,145 106.2,145.9 106.6,145.7 107,145 107.4,148 107.9,148.9 108.3,147.1 108.7,147.5 109.1,147.8 109.5,146.6 109.9,147.1 110.3,148.4 110.8,148.6 111.2,151.1 111.6,149 112,150.7 112.5,149.1 112.9,152.7 113.4,151.3 113.9,150 114.3,151.7 114.8,151.7 115.2,150.2 115.6,152.3 116,154.3 116.5,154.2 116.9,153.8 117.3,152.4 117.7,153.6 118.2,153.4 118.6,153 119.1,155.6 119.6,155 120,156.2 120.5,155.5 120.9,154.9 121.4,154.6 121.8,156.9 122.2,157.6 122.7,157.2 123.1,157.1 123.5,157.2 124,156.9 124.4,156.1 124.8,155.1 125.2,156.2 125.7,155.7 126.1,154.4 126.5,154.5 126.9,155.5 127.4,155.4 127.8,157.1 128.2,156.4 128.6,158.2 129,156.4 129.5,158.4 129.9,158.7 130.3,158.7 130.7,156.6 131.2,156.1 131.6,156.3 132,157.4 132.4,156.3 132.8,156.5 133.3,158.2 133.7,159.3 134.1,159.2 134.5,157.9 135,158.7 135.4,159.3 135.8,158.3 136.2,156.8 136.7,159 137.1,160 137.5,159.6 138,159.5 138.4,158.5 138.8,157.4 139.3,159.8 139.7,158.7 140.2,157.3 140.6,158.2 141.1,158.1 141.6,155.5 142.1,154.4 142.6,153.7 143,155 143.5,152.6 144,153.7 144.4,151.8 144.9,151.9 145.4,153.6 145.9,152.5 146.4,155.6 146.8,155.4 147.3,154.5 147.8,152.2 148.2,153.8 148.7,153.5 149.2,150.7 149.7,150.1 150.1,147.7 150.6,147.3 151.1,145.9 151.6,142.8 152.1,140.7 152.5,142.7 153,139.2 153.4,138.6 153.8,137 154.2,137.4 154.6,134.4 155,133.5 155.5,134 155.9,132.8 156.4,129.6 156.9,129.7 157.4,124.7 157.9,120.8 158.3,116.5 158.8,113.4 159.2,110.9 159.7,107.7 160.1,107.8 160.6,109.3 161,110.6 161.5,110.8 162.1,115.4 162.6,115.4 163.1,112.6 163.6,110.8 164.1,108.7 164.6,107.6 165.1,105.8 165.5,111.2 166,113.2 166.4,117.3 166.9,120.1 167.4,119.7 167.8,120.9 168.3,122 168.9,123.6 169.5,125 170,116 170.5,110.6 171,113.8 171.5,116.2 172,120.8 172.4,117.9 172.8,119.9 173.3,116.5 173.7,116.6 174.1,115.7 174.6,115.5 175.1,113.6 175.5,115.3 175.9,115.8 176.3,118 176.7,119.6 177.1,120.8 177.5,123.9 177.9,123.4 178.4,127.1 178.8,128 179.2,131 179.7,136.3 180.2,143.2 180.6,144.6 181,144 181.4,144.6 181.8,145.8 182.2,145.2 182.6,146.9 183,145.2 183.4,145.9 183.8,145.6 184.2,145.7 184.7,146.5 185.1,145.7 185.5,146.1 185.9,146 186.3,146.2 186.7,148.1 187.1,147.4 187.5,148.3 187.9,148.7 188.4,146.3 188.8,147.7 189.2,149.4 189.6,149.2 190,146.7 190.4,148.3 190.8,147.4 191.3,149.3 191.7,148.4 192.1,149.7 192.5,149.6 193,152.5 193.4,152.4 193.8,153.1 194.2,153.1 194.7,149.8 195.1,151.5 195.5,150.3 195.9,149.1 196.3,145.3 196.7,146.2 197.1,144.7 197.5,141.1 197.9,136.6 198.3,135.9 198.8,130.3 199.2,127.2 199.6,123.8 200,125.1 200.4,123.9 200.8,120.7 201.2,121.1 201.6,120.8 202,122.9 202.4,124.3 202.8,125.8 203.2,128.3 203.6,131 204,133.5 204.4,132.4 204.9,136.1 205.3,137.3 205.7,139.1 206.1,138.9 206.5,141.7 206.9,144.5 207.3,145.7 207.7,147.3 208.1,144.8 208.5,147.5 208.9,145.9 209.3,145.8 209.7,143.2 210.1,139.3 210.5,137.4 211,134.1 211.4,134.5 211.8,131 212.2,129.3 212.6,128 213,128.2 213.4,129.3 213.8,126.9 214.2,130.2 214.6,130.1 215.1,131.7 215.5,136.7 215.9,137.1 216.3,137.8 216.7,138.7 217.1,136.7 217.5,137 217.9,139.1 218.3,137.8 218.7,134.7 219.1,131.4 219.5,132.6 219.9,128.9 220.3,128.8 220.7,128.8 221.2,125.5 221.6,127.9 222,125.9 222.4,123.8 222.8,126.4 223.2,124.5 223.6,123.6 224,123.8 224.4,125 224.8,127.5 225.3,126 225.7,126.5 226.1,128.9 226.5,129.8 226.9,129.5 227.3,129.9 227.7,130.9 228.1,133 228.5,130.5 228.9,130.2 229.3,129.8 229.7,129 230.1,128.9 230.5,128.9 230.9,126.1 231.4,125.8 231.8,123.6 232.2,123.8 232.6,124.7 233,124.8 233.4,127.2 233.8,127.7 234.2,131 234.6,132.9 235,133.2 235.4,132.9 235.8,135 236.2,136.1 236.6,138.8 237,136.6 237.5,140.3 237.9,139.8 238.3,141.1 238.7,142.3 239.1,144.9 239.5,144.4 239.9,146.1 240.3,147.3 240.7,148.4 241.1,149.9 241.6,147.9 242,150.2 242.4,149.3 242.8,146.4 243.2,142.5 243.6,138 244,134.1 244.4,131 244.8,130.1 245.2,131.2 245.6,131.8 246,135.1 246.4,135 246.8,132.9 247.2,131.3 247.7,129.8 248.1,131.4 248.5,128.9 248.9,131.9 249.3,132.8 249.7,133 250.1,134.5 250.5,137.1 250.9,135.1 251.3,134.5 251.8,132.1 252.2,132 252.6,131 253,129.3 253.4,131.1 253.8,130.3 254.2,127.9 254.6,126.9 255,125.5 255.4,127.8 255.8,124.9 256.2,124.7 256.6,124.8 257,122.1 257.4,122.8 257.9,122.3 258.3,121.6 258.7,120.8 259.2,117.1 259.7,115.7 260.1,117.1 260.5,116.7 260.9,119.1 261.3,119.8 261.7,122.8 262.1,124.9 262.5,125.9 263,128.3 263.4,131.8 263.8,135 264.2,132.8 264.6,132.9 265,131.5 265.4,131.1 265.8,128.9 266.2,131.5 266.6,133.8 267,136.5 267.4,136.6 267.8,139.1 268.2,138.8 268.6,141.7 269.1,139 269.5,141.6 269.9,141.1 270.3,143.3 270.7,142.6 271.1,147.3 271.5,149.1 271.9,149.3 272.3,150.4 272.7,151.4 273.2,152.3 273.6,150.4 274,152.4 274.4,152.1 274.8,151.6 275.2,152.4 275.6,151.9 276,150.3 276.4,151.7 276.8,151 277.2,152.4 277.6,151.8 278,151.3 278.4,152.3 278.9,150.9 279.3,150.4 279.8,151.1 280.2,152.3 280.7,151.6 281.1,153.4 281.5,153.5 281.9,151.2 282.3,150.2 282.7,149 283.1,147.3 283.5,144.1 283.9,139.5 284.4,133.8 284.8,132.9 285.2,127.9 285.7,124.7 286.2,119.7 286.6,121 287,122.3 287.4,124 287.8,123 288.2,125.9 288.6,126 289,123.3 289.5,121.8 289.9,121.7 290.3,121.8 290.8,118.9 291.4,113.2 291.9,110.6 292.4,116.6 292.8,122.6 293.3,125.9 293.7,128.1 294.1,129.9 294.6,132.5 295,135.6 295.4,137.1" fill="none" stroke="#e8231c" stroke-width="1.3" stroke-linejoin="round"/>
<polyline points="33.6,160.3 34,160.8 34.4,160.4 34.8,160.4 35.2,159.3 35.6,159.4 36.1,159.5 36.5,160.5 36.9,159.5 37.3,160 37.7,158.8 38.1,158.9 38.5,159.3 38.9,160 39.3,160 39.7,159.9 40.2,159.1 40.6,159.5 41,159.4 41.4,159.3 41.8,158.6 42.2,159.3 42.6,157.9 43.1,154.2 43.5,152.6 43.9,154.8 44.3,156 44.7,156.4 45.1,156.1 45.6,157.6 46,158.3 46.4,159 46.8,159.3 47.3,158.3 47.7,158 48.1,157.9 48.5,159.5 49,158 49.4,158.8 49.8,158.7 50.2,157.9 50.7,158.7 51.1,159.5 51.5,157.8 52,159.1 52.4,158.5 52.8,159.2 53.3,158.8 53.7,158.3 54.1,157.7 54.5,159 55,158.2 55.4,157.2 55.8,157.1 56.2,158.1 56.7,158 57.1,157.6 57.5,158 57.9,157.2 58.3,157.5 58.8,157.3 59.2,158.3 59.6,156.5 60,157.4 60.5,157.1 60.9,156.6 61.4,154.4 61.8,155.2 62.3,153.6 62.8,153.1 63.2,152.5 63.7,150.3 64.2,149.7 64.7,149.7 65.2,150 65.6,151.4 66.1,150.7 66.6,151.4 67,151.4 67.5,152 68,152.6 68.4,152.3 68.8,152 69.2,152.2 69.7,153.8 70.1,152.9 70.5,154.3 70.9,153.6 71.4,153.4 71.8,153.8 72.3,154.6 72.8,154.2 73.2,154.9 73.7,155.5 74.1,156.5 74.5,156.5 74.9,156.5 75.4,156.3 75.8,157 76.2,157.2 76.6,156.4 77,156.4 77.4,156.6 77.8,155.1 78.3,156.4 78.7,155.7 79.1,156.1 79.5,155.5 80,155.9 80.4,155.3 80.9,154.9 81.4,156.8 81.8,155.3 82.3,156.1 82.7,156 83.1,155.6 83.5,155.4 84,156.2 84.4,156.6 84.8,155.1 85.2,155.5 85.6,155.9 86,155.4 86.4,156 86.9,155.8 87.3,155.5 87.7,155.6 88.1,156.4 88.5,155.6 88.9,156.8 89.3,155.8 89.7,155 90.1,156.1 90.5,156.1 90.9,154.9 91.3,155 91.7,154.5 92.1,154.8 92.6,154.8 93,155.4 93.4,155.1 93.8,156.1 94.2,155.8 94.6,156 95,156.8 95.5,157.6 95.9,157.5 96.3,157 96.7,157.4 97.2,157.4 97.6,157.7 98.1,157.6 98.6,157.7 99,157.3 99.5,158.3 99.9,157.5 100.3,158.4 100.7,156.4 101.2,156.7 101.6,156.6 102,156.6 102.4,155.5 102.8,154.2 103.2,153.7 103.6,152.9 104.1,152.6 104.5,152 104.9,152.3 105.3,150.7 105.8,151.2 106.2,151.1 106.7,149.2 107.2,149.1 107.6,150.3 108.1,149.7 108.5,150.7 108.9,150 109.3,150.5 109.8,149.5 110.2,150.5 110.6,151.8 111,151.1 111.4,151.9 111.8,152.1 112.2,152.5 112.7,151.2 113.1,151.1 113.5,151.4 113.9,152.2 114.4,152.5 114.8,153 115.3,153.8 115.8,153.6 116.2,153.7 116.7,153.6 117.1,154.3 117.5,153.8 117.9,154.1 118.4,153.2 118.8,154.8 119.2,153.8 119.6,154.5 120,154.9 120.4,154 120.8,152.9 121.3,152.2 121.7,152 122.1,152.4 122.5,151.7 123,151.8 123.5,150.4 123.9,150.1 124.4,150.7 124.9,151.2 125.3,151.8 125.8,151.9 126.3,152.1 126.7,153.3 127.2,153.6 127.6,152.9 128,153.7 128.4,154.3 128.9,155.6 129.3,155.2 129.7,156 130.1,155.5 130.5,155.6 130.9,155.2 131.3,155.4 131.8,156.9 132.2,156.6 132.6,155.9 133,156.4 133.4,155.3 133.8,156.1 134.2,156.4 134.6,155.7 135,155.3 135.4,156 135.8,155.5 136.2,156.1 136.6,154.4 137,153.8 137.5,154.1 137.9,154 138.3,154.2 138.7,153.6 139.2,153.7 139.6,155.6 140.1,156.2 140.6,156.4 141,156.1 141.4,155.3 141.8,156.5 142.3,154.9 142.7,155.7 143.1,154.2 143.5,154.5 143.9,153.5 144.3,154.2 144.8,152.8 145.2,153.7 145.6,152.4 146,151.3 146.5,151 146.9,151 147.3,150.7 147.7,150.5 148.1,150.5 148.6,148.4 149,148.4 149.4,147.5 149.8,148.4 150.3,146.3 150.7,145.5 151.1,145.9 151.5,144.7 152,145 152.4,145.7 152.8,145.4 153.3,144.8 153.7,145 154.1,144.5 154.6,143 155,143 155.4,141.6 155.8,142.2 156.2,141 156.6,138.8 157,139.3 157.4,137.9 157.8,137.3 158.3,134.9 158.8,132.7 159.2,130.2 159.7,128.7 160.1,127.1 160.6,127 161,126.8 161.5,127.8 162.1,130.2 162.6,130.6 163,130 163.4,131.8 163.9,130.3 164.3,130.8 164.7,131.8 165.1,131.9 165.6,131.2 166,130.6 166.4,131.6 166.8,131.4 167.2,131.1 167.7,132 168.1,130.4 168.5,130.6 168.9,131.5 169.4,129.6 169.8,130.3 170.2,130.3 170.6,131.6 171,132.2 171.4,131.4 171.9,132.1 172.3,132.8 172.7,135.2 173.1,135 173.5,135 174,136.4 174.4,137.1 174.8,136.4 175.2,136.8 175.7,138.6 176.1,138.1 176.5,138.5 176.9,138 177.3,139.1 177.7,138.5 178.1,138.7 178.6,138.3 179,140 179.4,140.5 179.8,140.2 180.2,140.1 180.6,140.9 181,138.9 181.4,139.3 181.8,139.7 182.2,140.5 182.7,140.4 183.1,139.2 183.5,138.8 183.9,139.1 184.3,139.1 184.7,138.9 185.2,139.7 185.6,138 186,139.1 186.4,138.9 186.9,138.9 187.3,138.1 187.7,138.9 188.2,138.9 188.6,138.6 189.1,138.9 189.5,139.3 190,140.4 190.4,140.1 190.8,139.5 191.2,139.9 191.6,141.2 192,140.4 192.4,140.3 192.9,140.4 193.3,141.7 193.7,141.4 194.1,143 194.5,142.2 194.9,142.9 195.3,143 195.7,141.4 196.1,140.9 196.5,140.8 196.9,141.5 197.3,141.8 197.7,141.2 198.1,140.7 198.5,141.1 198.9,141 199.3,141.6 199.7,141.8 200.1,142 200.6,142.3 201,142.1 201.4,141.1 201.8,142.7 202.2,141.7 202.6,142.2 203,142.8 203.5,142.8 203.9,144 204.4,143.3 204.8,143.8 205.3,144.3 205.7,145.2 206.1,145.1 206.6,147.1 207,147.1 207.4,147.2 207.8,147.9 208.3,149.7 208.7,149.3 209.1,147.7 209.5,145.5 210,145 210.4,143 210.8,141.1 211.3,130.9 211.8,118.7 212.3,129.1 212.8,141.1 213.3,133.4 213.8,125.9 214.3,135.2 214.8,143.2 215.2,142.2 215.6,140.7 216.1,137.4 216.5,136.2 216.9,135 217.3,134.2 217.7,134.4 218.1,135.9 218.5,135.2 218.9,135 219.3,136.7 219.8,136.5 220.2,138.3 220.7,138.4 221.1,138.9 221.6,140.8 222,141.1 222.4,142.9 222.9,142.1 223.3,143.9 223.7,144.9 224.1,145 224.6,146.2 225,147.3 225.4,147.2 225.9,147.9 226.3,148.5 226.8,149.8 227.2,150.5 227.7,150.1 228.1,151.3 228.5,150.8 229,151.8 229.4,153 229.9,152.4 230.3,153.1 230.8,153.4 231.2,154.4 231.6,154.8 232.1,154.2 232.5,153.1 232.9,153 233.3,153.5 233.8,153.6 234.2,153.4 234.6,153.8 235.1,152.9 235.5,153.2 236,154.4 236.4,153.9 236.9,153.8 237.3,154.4 237.7,153.6 238.2,154.4 238.6,152.7 239,152.8 239.4,151.9 239.9,151.6 240.3,151.3 240.7,151.2 241.2,150.6 241.6,148.4 242.1,147.2 242.5,147.4 243,145.5 243.4,145.2 243.8,144.1 244.3,145.7 244.7,144.6 245.1,145.3 245.5,144.3 246,145.1 246.4,144.2 246.8,144.4 247.3,144.1 247.7,144.1 248.2,145.4 248.6,145.9 249.1,146.7 249.5,146.2 249.9,145.5 250.4,146.8 250.8,146.4 251.3,146.8 251.7,146.3 252.2,146.7 252.6,147.3 253,146.6 253.5,146.7 253.9,144.3 254.3,144.4 254.7,144.3 255.2,143.9 255.6,142.2 256,141.4 256.5,141.1 256.9,142.6 257.4,142.5 257.8,141.4 258.3,140.4 258.7,141.1 259.1,141.8 259.6,140.6 260,141.5 260.4,140.8 260.8,141 261.3,139.6 261.7,140.1 262.1,140.6 262.5,139.3 262.9,139.6 263.3,140.4 263.8,140.3 264.2,138.9 264.6,138.8 265,139.1 265.4,139.2 265.8,139.1 266.2,139.1 266.6,138.7 267,139.2 267.4,140.3 267.9,140.9 268.3,139.4 268.7,140.6 269.1,141.2 269.5,140 269.9,141.1 270.3,141.6 270.8,140 271.2,140.9 271.6,140.6 272,140.6 272.5,139.9 272.9,140.1 273.3,140.1 273.8,140.6 274.2,140.4 274.7,141 275.1,140.7 275.6,140.8 276,141.1 276.4,140.4 276.9,141.9 277.3,142 277.7,141.8 278.1,143.1 278.6,143.5 279,143.2 279.4,143.3 279.9,142.9 280.4,143.6 280.8,143.1 281.2,143.3 281.7,144.2 282.2,142.4 282.6,140 283.1,139.1 283.5,136.9 283.9,135 284.4,132.1 284.8,131.2 285.2,128.9 285.6,127.7 286,128.6 286.4,128.3 286.8,127.3 287.2,126.9 287.6,126.3 288.1,127.5 288.5,127.5 289,128.9 289.4,127.6 289.9,129.3 290.3,128.9 290.7,129.1 291.1,127.7 291.5,127.1 291.9,125 292.3,124.8 292.7,126.5 293.2,126.3 293.6,127.9 294.1,128.6 294.5,127.8 295,129.8 295.4,130" fill="none" stroke="#111" stroke-width="1.2" stroke-linejoin="round"/>
<line x1="33.5" y1="174.6" x2="38.0" y2="174.6" stroke="#555" stroke-width="0.6"/>
<line x1="295.8" y1="174.6" x2="291.3" y2="174.6" stroke="#555" stroke-width="0.6"/>
<line x1="33.5" y1="188.8" x2="38.0" y2="188.8" stroke="#555" stroke-width="0.6"/>
<line x1="295.8" y1="188.8" x2="291.3" y2="188.8" stroke="#555" stroke-width="0.6"/>
<line x1="33.5" y1="203.3" x2="38.0" y2="203.3" stroke="#555" stroke-width="0.6"/>
<line x1="295.8" y1="203.3" x2="291.3" y2="203.3" stroke="#555" stroke-width="0.6"/>
<line x1="33.5" y1="217.6" x2="38.0" y2="217.6" stroke="#555" stroke-width="0.6"/>
<line x1="295.8" y1="217.6" x2="291.3" y2="217.6" stroke="#555" stroke-width="0.6"/>
<polyline points="33.6,184.3 34,185 34.4,183.6 34.8,184 35.2,184.6 35.6,183.7 36,184.8 36.4,183.8 36.8,184.7 37.2,183.6 37.6,184.1 38,184.8 38.4,183.6 38.8,183.7 39.2,184.1 39.6,183.8 40,183.3 40.4,183.5 40.8,183.5 41.2,184.7 41.6,184.3 42,184.6 42.4,183.4 42.8,184.4 43.2,183.9 43.6,183.3 44,183.9 44.4,184.1 44.9,183.6 45.3,184.4 45.7,183.9 46.1,183.9 46.5,184.4 46.9,183.2 47.3,184.6 47.7,184 48.1,183.6 48.6,184.2 49,183.3 49.4,184.5 49.8,183.7 50.2,183.8 50.6,183.5 51,184.2 51.4,183.7 51.8,183.3 52.2,184.2 52.7,183.1 53.1,184.4 53.5,183.5 53.9,184.2 54.3,184.7 54.7,184.1 55.1,184.3 55.5,183.7 55.9,183.2 56.3,183.3 56.7,183.5 57.1,184.3 57.5,184 58,184.2 58.4,184.8 58.8,183.6 59.2,183.8 59.6,184.5 60,183.5 60.4,184.3 60.8,183.8 61.2,184.6 61.7,184.5 62.1,185.2 62.5,185.2 62.9,186.1 63.4,186.4 63.8,186 64.2,186.8 64.6,187 65.1,186.7 65.5,186.1 65.9,187.4 66.4,186.2 66.8,186 67.3,185.9 67.7,186.7 68.1,187.1 68.6,186.9 69,186.4 69.4,186.2 69.8,185.9 70.2,185.4 70.6,186.3 71,186.1 71.4,185.6 71.8,186 72.3,185.6 72.7,186.3 73.1,185.9 73.5,185.1 73.9,186 74.3,184.6 74.7,185.2 75.1,185.3 75.6,185.2 76,184.9 76.4,184.7 76.9,185.9 77.3,184.7 77.8,185.7 78.2,186.3 78.6,185.1 79.1,185.3 79.5,185.8 79.9,185.5 80.4,184.9 80.8,184.5 81.3,185.5 81.8,186.5 82.3,186.8 82.7,186.3 83.1,186.6 83.5,186.7 84,186.3 84.4,187.7 84.8,187.6 85.2,187.6 85.6,186.5 86,187.9 86.4,187.8 86.9,187.5 87.3,188 87.7,187.6 88.1,187.7 88.5,187.4 89,187.3 89.4,187.6 89.8,187.4 90.2,188 90.7,188.8 91.1,188.8 91.5,189.2 91.9,189.1 92.4,188.5 92.8,189 93.2,188.9 93.6,188.5 94,188.9 94.5,188.3 94.9,187.7 95.3,188.1 95.7,187.7 96.1,188.1 96.5,186.6 97,187.3 97.4,185.6 97.8,185.7 98.2,185.3 98.7,185.8 99.1,185.8 99.5,184.8 99.9,184.7 100.3,183.6 100.8,184 101.2,182.7 101.6,182 102,182.7 102.5,181.7 102.9,181.4 103.3,180.6 103.7,180.6 104.1,180.8 104.5,179.7 105,179.9 105.4,179.4 105.8,179.4 106.2,178.5 106.6,178.8 107,179.6 107.4,179.7 107.9,179.6 108.3,179.8 108.7,180.8 109.1,181 109.5,180.5 109.9,182.1 110.4,181.1 110.8,181.1 111.2,181.4 111.6,183 112.1,182.2 112.5,182.1 112.9,182.9 113.3,182.2 113.7,182.4 114.1,183.5 114.5,183.5 114.9,183.7 115.3,183.9 115.8,182.9 116.2,183.8 116.6,183.6 117,184.4 117.4,184.5 117.8,184.7 118.2,183.5 118.6,184.3 119,184.9 119.4,185 119.8,185.1 120.3,183.8 120.7,184 121.1,183.9 121.5,183.8 121.9,185.1 122.3,185.1 122.7,184.9 123.2,185.2 123.6,184.9 124,184.4 124.4,184.8 124.8,184.1 125.2,184.1 125.6,185.1 126,184.2 126.4,184.3 126.8,184.5 127.2,183.8 127.7,184.1 128.1,184.1 128.5,184.8 128.9,184.2 129.3,184.1 129.7,185.1 130.1,184.3 130.5,184.2 130.9,184.7 131.3,184.3 131.7,183.3 132.1,183.8 132.5,183.8 132.9,184.3 133.3,183.5 133.7,184 134.1,183.7 134.5,183.1 134.9,183.5 135.3,184 135.8,182.7 136.2,183.7 136.6,182.6 137.1,182.2 137.5,182.5 138,183.3 138.4,183.5 138.8,181.9 139.3,182.6 139.7,182.5 140.1,182.3 140.5,182.6 140.9,181.5 141.3,181.8 141.7,181.4 142.1,182 142.6,180.9 143,181.8 143.4,180.6 143.8,180.3 144.2,180.9 144.6,180.4 145,179.6 145.4,180.1 145.8,179.9 146.2,178.6 146.7,179.3 147.1,178.7 147.5,178.4 147.9,177.7 148.4,176.8 148.8,176.5 149.2,176.2 149.6,175.6 150.1,175.9 150.5,174.1 150.9,174.9 151.4,173.1 151.8,172.9 152.3,172.5 152.7,172.4 153.2,174 153.6,174.3 154.1,175.1 154.5,176.9 155,177.2 155.4,177.7 155.8,178.9 156.2,179.9 156.6,181.1 157,182 157.4,182.5 157.9,184.2 158.3,185.1 158.8,186.5 159.2,187.6 159.7,189.6 160.2,188 160.6,185.6 161.1,183.5 161.6,181 162,178.6 162.4,177.1 162.8,175.7 163.3,173.5 163.7,170.9 164.1,169.6 164.6,171.4 165,174 165.5,175.3 166,174.6 166.4,174.3 166.9,174.2 167.4,174.3 167.8,176.2 168.3,178 168.7,179.1 169.2,180.1 169.7,181.7 170.2,183.9 170.6,183.5 171.1,183.7 171.6,184.1 172,184.1 172.4,184 172.8,184.8 173.3,185 173.7,186.8 174.1,186.5 174.5,186.8 174.9,185.8 175.3,187.1 175.7,185.7 176.1,186.1 176.6,187 177,186.7 177.4,186.6 177.8,186 178.2,186.1 178.6,186.1 179.1,187.3 179.5,187 179.9,187.6 180.3,188.4 180.8,188.4 181.2,189.6 181.6,190 182,191.3 182.4,191.7 182.8,192 183.2,192.6 183.6,192 184,190.9 184.5,189.6 184.9,189.5 185.3,188.5 185.7,188.3 186.2,188.8 186.6,189 187,188.2 187.4,188.3 187.9,188.6 188.3,188.1 188.7,188.5 189.1,188.7 189.6,190 190,190.7 190.4,190.6 190.8,190.7 191.3,190.2 191.7,190.1 192.1,189.5 192.5,189 193,188.4 193.4,188.1 193.8,187.7 194.3,188.1 194.7,187.2 195.2,187.6 195.6,188.1 196.1,187.9 196.5,187.5 196.9,187.9 197.4,187.5 197.8,188 198.3,188.2 198.7,188.7 199.2,188.6 199.6,188.9 200,189.3 200.5,189.8 200.9,188.7 201.3,189.5 201.7,189.8 202.2,189.3 202.6,189.6 203,189.4 203.5,190 203.9,188.4 204.4,189 204.8,188.3 205.3,189.1 205.7,188.5 206.1,189.1 206.6,188.2 207,187.4 207.4,188 207.8,187.9 208.3,188 208.7,187.5 209.1,186.8 209.5,186.4 210,186 210.4,184.8 210.8,184.1 211.3,186.2 211.8,188.5 212.3,189.9 212.7,189.4 213.2,190.6 213.8,214 214.3,206.1 214.8,197.7 215.2,197.7 215.6,198.5 216.1,197.7 216.5,199.3 216.9,198.7 217.3,200.7 217.7,202.5 218.1,205.1 218.5,207.5 218.9,209.9 219.3,209.1 219.7,209.8 220.2,209.8 220.6,210.2 221,209.9 221.4,208.9 221.8,207.9 222.2,207.1 222.6,207.1 223,205.9 223.4,205 223.8,202.7 224.2,200.5 224.6,199.8 225,197.7 225.4,196.5 225.8,195.2 226.3,194 226.7,194.1 227.1,192.6 227.5,192.9 227.9,192.4 228.3,192 228.7,191.9 229.1,191.6 229.5,190.7 230,191.5 230.4,190 230.9,190.1 231.3,189.9 231.8,189.4 232.2,188.5 232.6,188.2 233.1,187.6 233.5,187.7 233.9,186.8 234.3,187.6 234.8,186.6 235.2,186.5 235.6,186.9 236.1,185.8 236.5,185.9 237,185.5 237.4,185.7 237.9,185.1 238.3,185.5 238.7,184.8 239.2,186 239.6,185.4 240,185.4 240.4,185.6 240.9,186 241.3,186.1 241.7,186.3 242.2,187 242.6,187.4 243.1,187.3 243.5,188.5 244,188.7 244.4,188.5 244.8,188.2 245.2,189.9 245.6,190.4 246,190.6 246.4,190.6 246.8,191.8 247.2,194.8 247.7,196.3 248.1,197.1 248.5,199.7 249,200.3 249.4,203.2 249.9,203.8 250.4,201.7 251,198.7 251.5,196.7 251.9,196.9 252.3,197.8 252.8,198.7 253.2,200.4 253.6,200.8 254,201.2 254.4,201.4 254.8,203.2 255.2,203.7 255.6,203.8 256,203.6 256.5,205 256.9,204.9 257.4,205.5 257.8,205.6 258.3,206.2 258.7,205.9 259.1,207 259.5,207.6 259.9,207.2 260.3,208.6 260.7,208.9 261.1,208.2 261.6,207.8 262,206.6 262.5,206.6 262.9,205.3 263.4,204.2 263.8,203.8 264.2,203.1 264.7,202.7 265.1,202.9 265.5,202 265.9,202.3 266.4,201.5 266.8,201.8 267.2,202 267.6,202.2 268.1,202.5 268.5,203.2 268.9,202.8 269.3,200.6 269.7,200.5 270.1,198.5 270.5,197.2 270.9,195.7 271.3,195.1 271.7,194.6 272.1,193 272.5,192.3 272.9,191.6 273.3,192.5 273.7,191.3 274.2,192.4 274.6,192.6 275,192.6 275.4,191.6 275.9,192.2 276.3,192 276.7,192.1 277.1,190.9 277.6,191.7 278,190.6 278.4,190.5 278.8,190.4 279.2,190.9 279.6,189.5 280.1,190.4 280.5,190.2 280.9,189.6 281.3,190.4 281.7,189.5 282.1,189.6 282.5,190 282.9,190.4 283.3,191.2 283.7,190.7 284.1,191.6 284.6,196.1 285.2,200.8 285.7,206.8 286.2,213 286.6,213.1 287,213.5 287.4,212.7 287.8,213.5 288.2,213 288.6,213.2 289,213.8 289.5,213.8 289.9,214.6 290.3,215 290.8,223.4 291.3,230.3 291.8,225.9 292.3,221.1 292.8,218.5 293.3,215 293.7,213.3 294.1,211.9 294.6,210.4 295,209.5 295.4,207.9" fill="none" stroke="#111" stroke-width="1.25" stroke-linejoin="round"/>
<line x1="43.6" y1="180.2" x2="43.6" y2="187" stroke="#111" stroke-width="0.9"/>
<line x1="33.5" y1="381.4" x2="38.0" y2="381.4" stroke="#555" stroke-width="0.6"/>
<line x1="295.8" y1="381.4" x2="291.3" y2="381.4" stroke="#555" stroke-width="0.6"/>
<line x1="33.5" y1="393.4" x2="38.0" y2="393.4" stroke="#555" stroke-width="0.6"/>
<line x1="295.8" y1="393.4" x2="291.3" y2="393.4" stroke="#555" stroke-width="0.6"/>
<line x1="33.5" y1="405.3" x2="38.0" y2="405.3" stroke="#555" stroke-width="0.6"/>
<line x1="295.8" y1="405.3" x2="291.3" y2="405.3" stroke="#555" stroke-width="0.6"/>
<line x1="33.5" y1="417.5" x2="38.0" y2="417.5" stroke="#555" stroke-width="0.6"/>
<line x1="295.8" y1="417.5" x2="291.3" y2="417.5" stroke="#555" stroke-width="0.6"/>
<polyline points="33.4,389.1 33.8,389.3 34.2,389.6 34.6,388.4 35,389.5 35.4,389.7 35.8,389.2 36.2,388.4 36.6,388.8 37,388.3 37.4,388.6 37.8,389.8 38.2,389.3 38.7,389.4 39.1,389.6 39.5,389.8 39.9,389.3 40.3,389.3 40.7,389.3 41.1,389.4 41.5,389.3 41.9,389.4 42.3,388.6 42.7,389.4 43.1,389 43.5,389.1 43.9,389.5 44.3,388.4 44.7,388.5 45.1,388.3 45.5,389.4 45.9,389.6 46.3,389.2 46.7,388.7 47.1,389.4 47.5,389.4 47.9,389 48.3,388.5 48.7,388.5 49.1,388.7 49.5,388.5 49.9,388.7 50.3,389 50.8,389.4 51.2,388 51.6,388.8 52,388 52.4,388.1 52.8,389.1 53.2,388.8 53.6,389.3 54,388.5 54.4,387.8 54.8,388.4 55.2,388.7 55.6,389.2 56,389.3 56.4,388.4 56.8,388.3 57.2,387.8 57.6,388.7 58,388.4 58.4,388.1 58.8,388.2 59.2,388.2 59.6,388.3 60.1,389.6 60.5,388.9 60.9,390.4 61.3,389.2 61.7,390.6 62.1,389.6 62.5,389.6 62.9,390.9 63.4,390.3 63.8,391.3 64.2,390.6 64.6,391.3 65,390.5 65.4,391.7 65.8,391.5 66.2,391.7 66.6,391.5 67.1,390.4 67.5,391.3 67.9,391.4 68.3,391 68.7,391.7 69.1,390.6 69.5,391.7 69.9,391.2 70.3,390.1 70.7,390 71.1,391 71.6,391.3 72,390.1 72.4,390.4 72.8,391 73.2,390.1 73.6,390.6 74,391.1 74.4,390.5 74.9,389.8 75.3,390.2 75.7,390.5 76.1,390.2 76.6,390.6 77,389.7 77.4,390.7 77.8,389.9 78.3,390.3 78.7,390.3 79.1,390 79.5,390 79.9,390.1 80.4,390.9 80.8,391.4 81.2,391.3 81.7,391.1 82.1,390.8 82.5,391.3 82.9,390.7 83.3,392.2 83.8,391.8 84.2,392 84.6,391.3 85,391.8 85.4,392.5 85.8,392.3 86.3,392 86.7,391.6 87.1,391.8 87.5,392.6 87.9,391.8 88.4,392.4 88.8,392.3 89.2,392.2 89.6,392.9 90.1,392.8 90.5,392.1 91,391.7 91.4,392.2 91.8,392.5 92.3,392.8 92.7,393.3 93.2,393.4 93.6,392.9 94,392 94.4,393.1 94.8,393 95.2,392.9 95.6,392.3 96.1,391.7 96.5,392.4 96.9,392.2 97.3,391.9 97.7,392.1 98.1,391.3 98.5,390.8 98.9,390.1 99.3,390.6 99.7,390.7 100.1,389.5 100.5,390.2 100.9,390.2 101.3,388.8 101.7,389.2 102.1,389 102.5,388.4 102.9,387.7 103.3,387.6 103.7,387.7 104.1,387.8 104.5,387.5 104.9,386.7 105.4,385.8 105.8,386.6 106.2,386.2 106.6,385.5 107,385.3 107.4,386.1 107.8,386.9 108.2,387.1 108.7,386.8 109.1,386.9 109.5,387.4 109.9,387 110.3,387.7 110.7,387.3 111.1,387.4 111.5,388.4 111.9,388 112.3,388.4 112.7,388.3 113.1,388.6 113.5,388.2 113.9,388.1 114.3,389.8 114.7,388.9 115.1,388.6 115.5,389.6 115.9,389.5 116.3,390 116.7,389 117.1,389.8 117.5,389.4 117.9,389.7 118.3,388.9 118.7,389 119.1,390.5 119.5,390.4 119.9,389.8 120.3,390 120.8,389.5 121.2,390.4 121.6,389.8 122,390.7 122.4,390.4 122.8,390.6 123.2,390.8 123.6,389.7 124,389.4 124.4,389.7 124.8,390.2 125.2,389.6 125.6,389.4 126,389.3 126.4,390.1 126.8,390.5 127.2,389.8 127.6,390.6 128,390.5 128.4,389.1 128.8,389.9 129.2,389.5 129.7,389 130.1,390.3 130.5,389.1 130.9,389.6 131.3,389.6 131.7,390.1 132.1,389.6 132.5,389.1 132.9,389.1 133.3,388.6 133.7,389.1 134.1,389.8 134.5,389.7 134.9,388.4 135.3,388 135.7,388.3 136.2,388.4 136.6,389.2 137,389.1 137.4,388.9 137.8,387.6 138.2,388.7 138.6,388.5 139,388.3 139.4,388.7 139.8,387.2 140.2,387.2 140.7,388.1 141.1,388.3 141.5,387.8 141.9,387.1 142.3,387.5 142.7,387.3 143.1,387.4 143.5,386.1 144,386.2 144.4,385.8 144.8,385.3 145.2,385.6 145.6,384.8 146.1,384.6 146.5,384.2 146.9,384.8 147.3,383.4 147.7,384.3 148.1,383.2 148.6,382.6 149,383.8 149.4,382.8 149.8,382 150.2,382.8 150.6,382.4 151,382.1 151.4,380.6 151.8,380.7 152.2,379.8 152.6,380.8 153,380.4 153.4,379.5 153.8,380.3 154.3,380.5 154.7,380.9 155.1,382.2 155.6,382.2 156,382.8 156.5,380.4 157.1,377 157.6,375 158.1,380.2 158.7,386.2 159.1,386 159.6,387.6 160.1,387.9 160.5,388.4 160.9,384.7 161.4,382.8 161.8,378.7 162.3,375.8 162.7,372.8 163.2,372.5 163.6,372.9 164.1,374 164.5,373.4 165,373.9 165.4,374.7 165.9,376.6 166.3,377.6 166.8,379.9 167.2,380.6 167.6,381.1 168.1,383.6 168.5,383.3 169,385.7 169.4,386.2 169.8,385.9 170.3,384.6 170.7,384.4 171.2,383.5 171.6,383.3 172.1,383.9 172.6,384.9 173.1,386.4 173.5,387 173.9,388.8 174.3,389.7 174.7,390.4 175.1,390.5 175.5,389.7 176,389.9 176.4,390.7 176.9,389.2 177.3,390.1 177.8,389.3 178.2,389.5 178.6,390.6 179.1,389.3 179.5,390.8 179.9,390.4 180.3,390.4 180.8,390.4 181.2,391.5 181.7,394.1 182.1,395.6 182.6,397.6 183,395.8 183.4,394.9 183.9,394.4 184.3,392.5 184.7,392.5 185.1,393.5 185.5,393.2 185.9,393.7 186.3,394.6 186.7,394.4 187.1,393.7 187.5,392.3 187.9,391.4 188.3,391.5 188.7,391 189.2,392 189.6,391.9 190.1,391.7 190.5,391.7 191,392.5 191.4,392.5 191.8,392.6 192.2,392.6 192.6,392 193,391.2 193.4,390.8 193.9,391.7 194.3,391 194.7,391.3 195.1,390 195.5,390.5 195.9,391.4 196.4,391.1 196.8,392.3 197.2,392.8 197.6,392.6 198.1,392.3 198.5,393.5 198.9,394.3 199.3,393.7 199.7,394.4 200.1,393.6 200.6,393.5 201,394.7 201.4,394.1 201.8,393.8 202.2,394.3 202.6,394.6 203,394.4 203.4,393.2 203.8,393.7 204.2,393.3 204.6,393.1 205.1,392.1 205.5,392.8 205.9,392.6 206.3,392.4 206.7,391.5 207.1,391.5 207.6,392.4 208,392.2 208.4,393 208.8,392.2 209.3,393.8 209.7,393.5 210.1,393 210.6,390.9 211,389.7 211.4,388.4 211.9,390.5 212.3,392.6 212.8,394.6 213.3,400.4 213.8,407.8 214.3,406 214.8,402.7 215.2,402.1 215.7,401.9 216.1,401.6 216.6,401.7 217,402.5 217.5,401.1 217.9,401.7 218.3,402.6 218.8,405 219.2,405.8 219.7,407 220.1,409.4 220.6,410.9 221,412.3 221.4,411.6 221.8,411.2 222.2,409.6 222.6,410.1 223,408.8 223.4,408 223.9,405.8 224.3,404.7 224.8,404.2 225.2,403 225.7,401.5 226.1,400.7 226.5,399.5 226.9,399.3 227.3,398.3 227.7,398.4 228.1,398.2 228.5,396.5 228.9,396.5 229.3,396.2 229.7,394.7 230.1,394.6 230.5,395 231,395 231.4,394 231.9,393.8 232.3,394.4 232.8,393.7 233.2,393.5 233.6,393.1 234,393.8 234.4,393.3 234.8,392.4 235.2,392.1 235.7,392 236.1,392 236.5,392.7 236.9,392.2 237.3,391.5 237.7,392 238.2,391.7 238.6,391.6 239,390.2 239.4,390.8 239.9,391.4 240.3,390.5 240.7,391.5 241.1,390.7 241.5,391.3 241.9,391.9 242.4,391.8 242.8,392.3 243.2,391.9 243.6,392.8 244,393.2 244.4,393.5 244.8,393.1 245.3,393.6 245.7,395.3 246.1,395.3 246.6,395.9 247,395.6 247.4,397.9 247.8,400.2 248.3,402.3 248.7,404.4 249.1,405.8 249.5,404 249.9,404 250.3,402.4 250.7,402 251.1,400.4 251.5,399.7 251.9,400.8 252.4,402.4 252.8,402.9 253.3,403.4 253.7,404.8 254.2,405.7 254.6,406.8 255,407.7 255.5,406.7 255.9,406.9 256.3,407.6 256.7,406.9 257.2,407.8 257.6,407.8 258,408.8 258.5,408.3 258.9,408.2 259.3,408.8 259.7,409.1 260.1,408.8 260.6,409 261,409.3 261.4,409.8 261.9,410.2 262.3,410.3 262.7,410.9 263.1,410 263.6,409.4 264,409.6 264.5,409.7 264.9,408.9 265.4,408.4 265.8,407.8 266.2,407.6 266.7,406.4 267.1,406.8 267.6,406 268,405.7 268.5,405.3 268.9,404.7 269.3,403.4 269.7,402 270.1,400.6 270.5,399.4 270.9,398.6 271.3,398.2 271.7,397.6 272.1,397.5 272.5,396.2 272.9,396.6 273.3,396.2 273.8,396.9 274.2,395.8 274.7,396.1 275.1,395.9 275.6,395.4 276,395.6 276.4,396.7 276.9,395.8 277.3,396.9 277.7,396.2 278.1,396.3 278.6,397.9 279,397.6 279.4,397.3 279.8,396.5 280.2,396.8 280.6,396.7 281.1,397 281.5,395.8 281.9,395.8 282.3,396.7 282.7,396.2 283.1,395.6 283.6,396 284.1,397.3 284.6,398.6 285.1,402.5 285.7,407.1 286.2,410.9 286.6,411.5 287,412.3 287.4,412.6 287.8,412.5 288.2,412.9 288.6,414.7 289,416.1 289.5,417.6 289.9,418.5 290.3,420 290.8,423.5 291.4,426.3 291.9,429 292.4,426.7 292.8,422.4 293.3,420 293.7,418.8 294.1,415.6 294.6,415 295,412.9 295.4,410.9" fill="none" stroke="#111" stroke-width="1.15" stroke-linejoin="round"/>
<line x1="43.6" y1="386.6" x2="43.6" y2="391.6" stroke="#111" stroke-width="0.9"/>
<line x1="33.5" y1="239.8" x2="38.0" y2="239.8" stroke="#555" stroke-width="0.6"/>
<line x1="295.8" y1="239.8" x2="291.3" y2="239.8" stroke="#555" stroke-width="0.6"/>
<line x1="33.5" y1="248.1" x2="38.0" y2="248.1" stroke="#555" stroke-width="0.6"/>
<line x1="295.8" y1="248.1" x2="291.3" y2="248.1" stroke="#555" stroke-width="0.6"/>
<line x1="33.5" y1="256.5" x2="38.0" y2="256.5" stroke="#555" stroke-width="0.6"/>
<line x1="295.8" y1="256.5" x2="291.3" y2="256.5" stroke="#555" stroke-width="0.6"/>
<line x1="33.5" y1="264.8" x2="38.0" y2="264.8" stroke="#555" stroke-width="0.6"/>
<line x1="295.8" y1="264.8" x2="291.3" y2="264.8" stroke="#555" stroke-width="0.6"/>
<line x1="33.5" y1="273.2" x2="38.0" y2="273.2" stroke="#555" stroke-width="0.6"/>
<line x1="295.8" y1="273.2" x2="291.3" y2="273.2" stroke="#555" stroke-width="0.6"/>
<line x1="33.5" y1="281.5" x2="38.0" y2="281.5" stroke="#555" stroke-width="0.6"/>
<line x1="295.8" y1="281.5" x2="291.3" y2="281.5" stroke="#555" stroke-width="0.6"/>
<line x1="33.5" y1="289.9" x2="38.0" y2="289.9" stroke="#555" stroke-width="0.6"/>
<line x1="295.8" y1="289.9" x2="291.3" y2="289.9" stroke="#555" stroke-width="0.6"/>
<line x1="33.5" y1="235.7" x2="36.0" y2="235.7" stroke="#777" stroke-width="0.6"/>
<line x1="295.8" y1="235.7" x2="293.3" y2="235.7" stroke="#777" stroke-width="0.6"/>
<line x1="33.5" y1="244" x2="36.0" y2="244" stroke="#777" stroke-width="0.6"/>
<line x1="295.8" y1="244" x2="293.3" y2="244" stroke="#777" stroke-width="0.6"/>
<line x1="33.5" y1="252.3" x2="36.0" y2="252.3" stroke="#777" stroke-width="0.6"/>
<line x1="295.8" y1="252.3" x2="293.3" y2="252.3" stroke="#777" stroke-width="0.6"/>
<line x1="33.5" y1="260.7" x2="36.0" y2="260.7" stroke="#777" stroke-width="0.6"/>
<line x1="295.8" y1="260.7" x2="293.3" y2="260.7" stroke="#777" stroke-width="0.6"/>
<line x1="33.5" y1="269" x2="36.0" y2="269" stroke="#777" stroke-width="0.6"/>
<line x1="295.8" y1="269" x2="293.3" y2="269" stroke="#777" stroke-width="0.6"/>
<line x1="33.5" y1="277.4" x2="36.0" y2="277.4" stroke="#777" stroke-width="0.6"/>
<line x1="295.8" y1="277.4" x2="293.3" y2="277.4" stroke="#777" stroke-width="0.6"/>
<line x1="33.5" y1="285.7" x2="36.0" y2="285.7" stroke="#777" stroke-width="0.6"/>
<line x1="295.8" y1="285.7" x2="293.3" y2="285.7" stroke="#777" stroke-width="0.6"/>
<line x1="33.5" y1="294" x2="36.0" y2="294" stroke="#777" stroke-width="0.6"/>
<line x1="295.8" y1="294" x2="293.3" y2="294" stroke="#777" stroke-width="0.6"/>
<polyline points="33.8,295.9 34.1,293.5 34.4,295.7 34.7,296.1 35,294.7 35.3,294.1 35.6,295.5 35.9,296.1 36.2,296 36.5,296 36.8,294.9 37.1,296.3 37.4,296.1 37.7,295.6 38,296.1 38.3,296.2 38.6,294.5 38.9,294.1 39.2,295.8 39.5,296 39.8,296.4 40.1,296.2 40.4,296.4 40.7,295.5 41,295.5 41.3,296.4 41.6,293.4 41.9,296.2 42.2,293.9 42.5,294 42.8,292.9 43.1,296.3 43.4,296 43.4,294.4 43.5,255.9 43.6,293.4 43.7,293.3 43.6,294.4 43.8,270 43.9,293.4 44,296.4 44.3,296.4 44.6,295.5 44.9,295.7 45.2,293.1 45.5,294.3 45.8,295.6 46.1,292.3 46.4,295.6 46.7,295.6 47,294.8 47.3,296 47.6,296.1 47.9,295.3 48.2,296.1 48.5,292.6 48.8,294.8 49.1,295.6 49.4,296.4 49.7,296.1 50,296 50.3,295.4 50.6,295.3 50.9,293.2 51.2,292.3 51.5,295.7 51.8,295.9 52.1,295 52.4,291.8 52.7,296.1 53,295.5 53.3,293.6 53.6,296.4 53.9,296.2 54.2,291.9 54.5,293.5 54.8,295.5 55.1,296.4 55.4,292.7 55.7,294.5 56,293.5 56.3,291.6 56.6,292.7 56.9,295.9 57.2,296.4 57.5,296.2 57.8,295.5 58.1,295.5 58.4,296.3 58.7,296.3 59,294.8 59.3,295 59.6,296.1 59.9,291.2 60.2,294.8 60.5,296.4 60.8,295.9 61.1,293.6 61.4,296.2 61.7,294.4 62,296.4 62.3,296.2 62.6,293 62.9,295.1 63.2,294.6 63.5,296.3 63.8,295.5 64.1,295.3 64.4,296.2 64.7,294.7 65,295.4 65.3,291.2 65.6,295.2 65.9,295.9 66.2,296.4 66.5,296.4 66.8,293.8 67.1,296.4 67.4,296.4 67.7,296.3 68,295.4 68.3,293.2 68.6,294.9 68.9,293.4 69.2,296.4 69.5,296.4 69.8,293.7 70.1,296.1 70.4,294.2 70.7,296 71,296.3 71.3,296.2 71.6,296.4 71.9,292.4 72.2,295.1 72.5,296.1 72.8,295.7 73.1,296 73.4,296.4 73.7,292.5 74,295.1 74.3,291.7 74.6,295.8 74.9,294.9 75.2,296.3 75.5,296.4 75.8,292 76.1,292.9 76.4,296.1 76.7,292.4 77,293.3 77.3,296.2 77.6,295 77.9,291.7 78.2,295.6 78.5,291.8 78.8,296.3 79.1,295.9 79.4,294.2 79.7,296.3 80,296.2 80.3,292.7 80.6,295.6 80.9,293.5 81.2,296.3 81.5,296.3 81.8,296 82.1,296.3 82.4,291.5 82.7,296.2 83,295.2 83.3,296.4 83.6,295.4 83.9,296 84.2,295.9 84.5,296.4 84.8,296.4 85.1,293.2 85.4,296.1 85.7,296.3 86,296.3 86.3,296.2 86.6,296.3 86.9,296.4 87.2,294.6 87.5,296.1 87.8,296.4 88.1,294.3 88.4,296.4 88.7,296.2 89,293.1 89.3,296.4 89.6,295.8 89.9,293.1 90.2,293.4 90.5,296.4 90.8,296 91.1,294.1 91.4,296 91.7,291.7 92,296.3 92.3,291.8 92.6,295.5 92.9,296.3 93.2,295.7 93.5,296.4 93.8,294.3 94.1,296.2 94.4,292.4 94.7,295.1 95,296 95.3,296.3 95.6,295 95.9,296.3 96.2,292.7 96.5,296.4 96.8,295.5 97.1,295.3 97.4,296.2 97.7,293.7 98,296 98.3,294.6 98.6,295.2 98.9,296.1 99.2,295.9 99.5,296.4 99.8,296.3 100.1,292.9 100.4,296.1 100.7,294.6 101,296.4 101.3,295.2 101.6,296 101.9,295.5 102.2,296.2 102.5,296.4 102.8,296.1 103.1,296.3 103.4,296.4 103.7,294.1 104,296.2 104.3,295.9 104.6,292.1 104.9,293.6 105.2,292.4 105.5,292.7 105.8,296.4 106.1,296.2 106.4,296.4 106.7,294.4 107,294.5 107.3,296 107.6,295.8 107.9,294.5 108.2,294.2 108.5,296.2 108.8,292.7 109.1,296 109.4,294.7 109.7,296.3 110,296.4 110.3,291.9 110.6,293.8 110.9,294 111.2,296.4 111.5,296.4 111.8,296.3 112.1,296.3 112.4,296.1 112.7,295.9 113,296.4 113.3,296.1 113.6,294.6 113.9,296.3 114.2,292.6 114.5,295 114.8,293.9 115.1,296.2 115.4,295.7 115.7,294.1 116,296 116.3,296.4 116.6,292.6 116.9,293.2 117.2,296.2 117.5,296.4 117.8,292.3 118.1,294.7 118.4,296.4 118.7,296.2 119,296.4 119.3,293 119.6,296.3 119.9,291.5 120.2,293.4 120.5,296.4 120.8,294 121.1,295.8 121.4,293.5 121.7,292.6 122,296.2 122.3,296.4 122.6,291 122.9,295.7 123.2,291.3 123.5,294 123.8,293.6 124.1,292.6 124.4,294.6 124.7,295.6 125,296.4 125.3,294 125.6,295.7 125.9,295.3 126.2,291.4 126.5,296.4 126.8,293.4 127.1,296.4 127.4,294 127.7,292.9 128,296.2 128.3,295.1 128.6,290.8 128.9,294.5 129.2,295.2 129.5,296.2 129.8,296.4 130.1,296 130.4,295.8 130.7,296.3 131,296.1 131.3,296.4 131.6,294 131.9,294.3 132.2,296.3 132.5,296.3 132.8,295.3 133.1,295.7 133.4,291.4 133.7,296 134,296.1 134.3,292.1 134.6,296.4 134.9,295.1 135.2,296.1 135.5,292.9 135.8,295.2 136.1,293.5 136.4,296.3 136.7,294.3 137,294.8 137.3,295.6 137.6,293.5 137.9,292.8 138.2,296.4 138.5,296.2 138.8,296 139.1,296.3 139.4,296.4 139.7,296.2 140,296.3 140.3,294.1 140.6,295.7 140.9,296.4 141.2,296.1 141.5,295.6 141.8,296 142.1,296.3 142.4,296.4 142.7,296.4 143,290.7 143.3,293.7 143.6,296.4 143.9,294 144.2,290.9 144.5,295.1 144.8,296.4 145.1,295.5 145.4,295.7 145.7,296.3 146,295.2 146.3,296.4 146.6,291.8 146.9,294.6 147.2,294.7 147.5,291.6 147.8,294.5 148.1,296.2 148.4,296.3 148.7,296.4 149,296.4 149.3,293.5 149.6,292.8 149.9,296.2 150.2,296.3 150.5,294.6 150.3,294.4 150.5,288 150.7,293.4 150.8,292.4 151.1,291.2 151.4,296.3 151.7,292.8 152,292.2 152.3,293.1 152.6,296 152.9,296.3 153.2,291.8 153.5,296 153.8,295.8 154.1,294.7 154.4,295.8 154.7,291.1 155,296.2 155.3,296.4 155.6,291.9 155.9,290.9 156.2,287.9 156.5,289.1 156.8,285.5 157.1,284.3 157.2,294.4 157.4,270.4 157.6,293.4 157.4,291.3 157.7,291 158,295.3 158.3,293.6 158.6,289.5 158.9,296 159.2,287.7 159.5,295.2 159.8,291.8 160.1,282.7 160.4,295.9 160.3,294.4 160.5,282 160.7,293.4 160.7,296.2 161,292 161.3,295 161.6,287.6 161.9,296.4 162.2,285.7 162.2,294.4 162.3,280.4 162.5,293.4 162.5,285.5 162.8,286.7 163.1,292.3 163.4,294.1 163.7,289 163.8,294.4 164,281 164.2,293.4 164,291.2 164.3,292.5 164.6,293.6 164.9,292.3 165.2,289.2 165.5,286.7 165.8,285.5 166.1,295.4 166.4,294.2 166.7,292.7 167,291.4 167.3,293.9 167.6,295.3 167.9,296.1 168.2,295.9 168.5,295.2 168.8,288.1 169.1,289.7 169.4,290.7 169.7,289 170,289.6 170.3,294.3 170.6,292.1 170.9,296.4 171,294.4 171.2,287 171.3,293.4 171.2,293.8 171.5,294.4 171.8,296.1 172.1,294.8 172.4,290.3 172.7,295.4 173,294.2 173.3,296.1 173.6,296 173.9,291.6 174.2,296.4 174.5,296.3 174.8,294.1 175.1,295.6 175.4,296.4 175.7,294.3 176,295.9 176.3,295 176.6,295.8 176.9,295.3 177.2,295.1 177.5,295.9 177.8,296.4 178.1,296.3 178.4,292.4 178.7,295.3 179,296.4 179.3,292.9 179.6,296.3 179.9,296.4 180.2,295.4 180.5,296.3 180.8,295.6 181.1,295.3 181.4,296.3 181.7,295.2 181.8,294.4 182,291 182.2,293.4 182,296.4 182.3,295.5 182.6,295.2 182.9,296.4 183.2,295.9 183.5,296.4 183.8,295.8 184.1,293.1 184.4,295.4 184.7,294.4 185,294.1 185.3,296.4 185.6,291.7 185.9,294.3 186.2,296.4 186.5,293.4 186.8,296 186.8,294.4 187,292 187.2,293.4 187.1,296.4 187.4,292.1 187.7,295.3 188,294 188.3,296.4 188.6,294 188.9,296.4 189.2,296.3 189.5,296 189.8,296.4 190.1,295.2 190.4,296.3 190.7,296.2 191,294.5 191.3,295.9 191.6,293 191.9,295.1 192.2,293.2 192.5,295.4 192.8,292.7 193.1,293.2 193.4,296.4 193.7,294.3 194,296.1 194.3,294.1 194.6,294.7 194.9,293.6 195.2,296.4 195.5,296.1 195.8,294.4 196.1,292.5 196.4,294.5 196.7,296.4 197,295.2 197.3,296.4 197.6,295.5 197.9,293.9 198.2,296.4 198.5,292.8 198.8,294.8 199.1,296.3 199.4,296.3 199.7,295.9 200,293.6 200.3,295.3 200.6,296.4 200.9,296.4 201.2,296.4 201.5,293.8 201.8,296.3 202.1,295.4 202.4,296.2 202.7,294.6 203,296 203.3,296.4 203.6,292.9 203.9,295.4 204.2,294.5 204.5,293.5 204.8,291.9 205.1,296.4 205.4,296.1 205.7,296.4 206,295.5 206.3,292.6 206.6,293.4 206.9,296.4 207.2,296.3 207.5,293.1 207.8,294.4 208.1,295.9 208.4,295.6 208.7,296.4 209,292.7 209.3,295.9 209.6,292.3 209.9,294.8 210.2,296.4 210.5,296.1 210.8,296.3 211.1,291.8 211.4,294.8 211.7,296.4 212,296.3 212.3,295.8 212.6,292.8 212.9,290.6 213.2,292.5 213.5,292.5 213.8,296.4 213.8,294.4 214,235 214.2,293.4 214.1,287.1 214.2,294.4 214.4,250 214.6,293.4 214.4,292.1 214.7,296.3 214.8,294.4 215,259 215.2,293.4 215,289.8 215.3,277.2 215.6,296.1 215.9,295.1 215.8,294.4 216,270 216.2,293.4 216.2,285.4 216.5,293.3 216.8,293.3 217.1,289.2 217.4,293.5 217.7,287.8 217.8,294.4 218,276 218.2,293.4 218,288.7 218.3,278.9 218.6,278 218.9,296.2 219.2,288.2 219.5,283.7 219.8,281.4 220.1,283.8 220.4,286.9 220.7,286.9 221,292.1 221.3,293.4 221.6,283.6 221.9,281.9 222.2,281 222.5,287.1 222.8,293.6 223.1,286.8 223.4,287.8 223.7,291.7 224,290.4 224.3,294 224.6,294.4 224.9,295.6 225.2,296.4 225.5,296 225.8,296.1 226.1,291.5 226.4,295.7 226.7,296 227,296.3 227.3,296.3 227.6,296.1 227.9,296.4 228.2,296.4 228.5,292.9 228.8,295.8 229.1,295.8 229.4,295.2 229.7,296.2 230,296.4 230.3,296.4 230.6,296.2 230.9,296.2 231.2,294.2 231.5,295.3 231.8,292.2 232.1,296.1 232.4,292.4 232.7,295.2 233,296.4 233.3,296.3 233.6,295.2 233.9,291.6 234.2,296.1 234.5,293.8 234.8,295.8 235.1,292.9 235.4,296.4 235.7,295.6 236,292.6 236.3,296.2 236.6,296.3 236.9,296.4 237.2,296.4 237.5,296.2 237.8,294.4 238.1,296.3 238.4,295.9 238.7,296.3 239,295.1 239.3,293 239.6,294.8 239.9,296.3 240.2,294.2 240.5,291.9 240.8,295.1 241.1,296.4 241.4,293.5 241.7,292.9 242,296.1 242.3,296.4 242.6,296.3 242.9,295.4 243.2,292.9 243.5,294.8 243.8,292.3 244.1,296.3 244.4,296.1 244.7,294 245,294.8 245.3,295.8 245.6,293.8 245.9,295.9 246.2,296.4 246.5,293.5 246.8,296.3 247.1,290.2 247.4,293.6 247.7,291.2 248,289.1 248.3,294.2 248.6,291.3 248.9,296.4 249,294.4 249.2,281.5 249.3,293.4 249.2,283.1 249.5,289.8 249.8,281.9 250.1,296.1 250.4,289 250.7,287.1 250.8,294.4 251,284 251.2,293.4 251,293.3 251.3,295.9 251.6,295.3 251.9,295.5 252.2,286.5 252.5,295.9 252.8,285.7 252.8,294.4 253,285 253.2,293.4 253.1,292.1 253.4,290.4 253.7,289.7 254,290.2 254.3,288.6 254.6,289.5 254.9,293.4 255.2,287.3 255.5,294.3 255.8,287.8 256.1,287.1 256.4,287.4 256.7,294 257,288.3 257.3,285.8 257.6,293 257.9,296.1 258.2,294.7 258.5,289.3 258.8,296.4 259.1,296.4 259.4,295.5 259.7,294.5 260,293.8 260.3,296 260.6,291.5 260.9,296.3 261.2,293.9 261.5,296.4 261.8,296.4 262.1,296.4 262.4,296.4 262.7,295.5 263,295.3 263.3,296.3 263.6,292 263.9,296 264.2,296.4 264.5,296.3 264.8,294 265.1,292.1 265.4,296.4 265.7,296.4 266,293.6 266.3,296.3 266.6,291.3 266.9,295.5 267.2,294.7 267.5,296.1 267.8,293.3 268.1,295.7 268.4,296.1 268.7,292.2 269,296.4 269.3,293.9 269.6,296.4 269.9,294.6 270.2,295.9 270.5,292.6 270.8,296.4 271.1,295.1 271.4,295.8 271.7,291.9 272,291.5 272.3,294.7 272.6,296.3 272.9,296.2 273.2,296.2 273.5,295.7 273.8,296.3 274.1,296.3 274.4,293.6 274.7,294.6 275,296.1 275.3,290.6 275.6,296.3 275.9,295 276.2,296.4 276.5,292.4 276.8,292.3 277.1,296.2 277.4,293.6 277.7,292.8 278,296.2 278.3,296.1 278.6,295.5 278.9,291.9 279.2,296.3 279.5,294.1 279.8,294.8 280.1,295.6 280.4,294.9 280.7,291.9 281,296.3 281.3,291.9 281.6,296 281.9,293.1 282.2,291.7 282.5,296.3 282.8,290.5 283.1,287.1 283.4,294.5 283.7,296.3 284,295.8 284.3,283.9 284.6,296.4 284.9,283.5 285.2,295.2 285.5,283 285.8,295.5 285.9,294.4 286,255.9 286.1,293.4 286.1,294.1 286.4,278.4 286.5,294.4 286.6,262 286.8,293.4 286.7,295.2 287,288.1 287.3,263.6 287.6,273.6 287.9,266.5 287.9,294.4 288,258 288.1,293.4 288.2,262.3 288.5,296.1 288.8,291.9 288.9,294.4 289,268 289.1,293.4 289.1,272.4 289.4,277 289.7,296.1 290,284.3 290.3,292.4 290.6,287.1 290.9,295.1 290.9,294.4 291,262.5 291.1,293.4 291.2,296.3 291.5,268.3 291.8,290.8 292.1,273.6 292.4,295 292.7,286.7 292.9,294.4 293,270 293.1,293.4 293,294.8 293.3,288.5 293.6,294.1 293.9,281.7 294.2,294.7 294.4,294.4 294.5,276 294.6,293.4 294.5,280.6 294.8,287.4 295.1,295.3 295.4,291" fill="none" stroke="#111" stroke-width="0.8"/>
<line x1="33.5" y1="305.9" x2="38.0" y2="305.9" stroke="#555" stroke-width="0.6"/>
<line x1="295.8" y1="305.9" x2="291.3" y2="305.9" stroke="#555" stroke-width="0.6"/>
<line x1="33.5" y1="315.3" x2="38.0" y2="315.3" stroke="#555" stroke-width="0.6"/>
<line x1="295.8" y1="315.3" x2="291.3" y2="315.3" stroke="#555" stroke-width="0.6"/>
<line x1="33.5" y1="324.9" x2="38.0" y2="324.9" stroke="#555" stroke-width="0.6"/>
<line x1="295.8" y1="324.9" x2="291.3" y2="324.9" stroke="#555" stroke-width="0.6"/>
<line x1="33.5" y1="334.4" x2="38.0" y2="334.4" stroke="#555" stroke-width="0.6"/>
<line x1="295.8" y1="334.4" x2="291.3" y2="334.4" stroke="#555" stroke-width="0.6"/>
<line x1="33.5" y1="344.3" x2="38.0" y2="344.3" stroke="#555" stroke-width="0.6"/>
<line x1="295.8" y1="344.3" x2="291.3" y2="344.3" stroke="#555" stroke-width="0.6"/>
<line x1="33.5" y1="353.1" x2="38.0" y2="353.1" stroke="#555" stroke-width="0.6"/>
<line x1="295.8" y1="353.1" x2="291.3" y2="353.1" stroke="#555" stroke-width="0.6"/>
<line x1="33.5" y1="310.6" x2="36.0" y2="310.6" stroke="#777" stroke-width="0.6"/>
<line x1="295.8" y1="310.6" x2="293.3" y2="310.6" stroke="#777" stroke-width="0.6"/>
<line x1="33.5" y1="320.1" x2="36.0" y2="320.1" stroke="#777" stroke-width="0.6"/>
<line x1="295.8" y1="320.1" x2="293.3" y2="320.1" stroke="#777" stroke-width="0.6"/>
<line x1="33.5" y1="329.6" x2="36.0" y2="329.6" stroke="#777" stroke-width="0.6"/>
<line x1="295.8" y1="329.6" x2="293.3" y2="329.6" stroke="#777" stroke-width="0.6"/>
<line x1="33.5" y1="339.3" x2="36.0" y2="339.3" stroke="#777" stroke-width="0.6"/>
<line x1="295.8" y1="339.3" x2="293.3" y2="339.3" stroke="#777" stroke-width="0.6"/>
<line x1="33.5" y1="348.7" x2="36.0" y2="348.7" stroke="#777" stroke-width="0.6"/>
<line x1="295.8" y1="348.7" x2="293.3" y2="348.7" stroke="#777" stroke-width="0.6"/>
<line x1="33.5" y1="358" x2="36.0" y2="358" stroke="#777" stroke-width="0.6"/>
<line x1="295.8" y1="358" x2="293.3" y2="358" stroke="#777" stroke-width="0.6"/>
<polyline points="33.8,361.9 34.1,359.9 34.4,362.2 34.7,362.3 35,359.4 35.3,360 35.6,360.9 35.9,362.3 36.2,362.4 36.5,362.3 36.8,362.4 37.1,362.4 37.4,361.8 37.7,362.1 38,361.6 38.3,362.2 38.6,362.4 38.9,361.1 39.2,361.2 39.5,361.7 39.8,361.6 40.1,361 40.4,359 40.7,359.8 41,360.9 41.3,362.1 41.6,362.2 41.9,362 42.2,358.9 42.5,362.1 42.8,362.1 43.1,362 43.4,362.4 43.4,360.4 43.5,329.6 43.6,359.4 43.7,358.6 43.6,360.4 43.8,345 43.9,359.4 44,362.4 44.3,361.3 44.6,359.2 44.9,362.3 45.2,361.3 45.5,362.1 45.8,362.3 46.1,362.3 46.4,362.4 46.7,359.8 47,360.2 47.3,359.2 47.6,362.4 47.9,360.8 48.2,362.2 48.5,361.1 48.8,361.5 49.1,362.2 49.4,358.5 49.7,362.4 50,360.4 50.3,359.5 50.6,361.6 50.9,361.3 51.2,358.1 51.5,362.3 51.8,361.1 52.1,360.3 52.4,362 52.7,360.5 53,362 53.3,361.5 53.6,361.1 53.9,360.7 54.2,362.2 54.5,361 54.8,361.5 55.1,362.3 55.4,361.1 55.7,362.3 56,358.7 56.3,361.7 56.6,360.4 56.9,361.5 57.2,361.7 57.5,362.3 57.8,362.4 58.1,358.4 58.4,361.5 58.7,361.5 59,361.5 59.3,359.5 59.6,362.3 59.9,362.3 60.2,359.4 60.5,361.7 60.8,360.8 61.1,359.3 61.4,358.7 61.7,358.9 62,362.4 62.3,362 62.6,359.3 62.9,359.4 63.2,362.4 63.5,362.4 63.8,362.3 64.1,362.4 64.4,362.1 64.7,359.6 65,361.5 65.3,361.8 65.6,362.4 65.9,362 66.2,357.4 66.5,360.5 66.8,361.8 67.1,361.7 67.4,359.6 67.7,360 68,362.4 68.3,360.6 68.6,362 68.9,361.5 69.2,362.3 69.5,362 69.8,362.1 70.1,362 70.4,362.4 70.7,362.3 71,361.2 71.3,362.4 71.6,362.3 71.9,360.3 72.2,362.2 72.5,362.1 72.8,362.3 73.1,359.3 73.4,362.4 73.7,360.9 74,359 74.3,362.3 74.6,361.9 74.9,359.7 75.2,361 75.5,362 75.8,362.4 76.1,361.8 76.4,362 76.7,360.3 77,362.2 77.3,361.9 77.6,360.8 77.9,359.5 78.2,362.1 78.5,362 78.8,361.2 79.1,358.3 79.4,362.3 79.7,357.8 80,360.3 80.3,362 80.6,360.7 80.9,362.1 81.2,362.4 81.5,360 81.8,362 82.1,361.5 82.4,361.6 82.7,358.6 83,360 83.3,362.4 83.6,361.1 83.9,361.7 84.2,361.7 84.5,359.2 84.8,361.9 85.1,361.7 85.4,358.7 85.7,361.8 86,361.6 86.3,361.5 86.6,359.4 86.9,360.6 87.2,360.1 87.5,361.9 87.8,362.4 88.1,360.6 88.4,361.3 88.7,359.9 89,359.9 89.3,362.4 89.6,362.3 89.9,362.4 90.2,359.4 90.5,362.4 90.8,362.4 91.1,360 91.4,361.3 91.7,362.4 92,360.6 92.3,360.3 92.6,361.6 92.9,362.4 93.2,360.5 93.5,361.9 93.8,361.2 94.1,357.4 94.4,359.4 94.7,358.9 95,362.4 95.3,362.1 95.6,361.5 95.9,362.4 96.2,357.5 96.5,362.2 96.8,362.2 97.1,362.2 97.4,362.3 97.7,359 98,361.3 98.3,361.5 98.6,361.9 98.9,362.4 99.2,362.2 99.5,359 99.8,359.6 100.1,359.1 100.4,362.3 100.7,362.3 101,362.4 101.3,361.4 101.6,362 101.9,361.7 102.2,361.6 102.5,361.2 102.8,362 103.1,359.6 103.4,362.3 103.7,358.4 104,361.3 104.3,362.4 104.6,362.2 104.9,361.4 105.2,361.9 105.5,361.3 105.8,362.1 106.1,362.2 106.4,359.6 106.7,362.2 107,360.3 107.3,359.6 107.6,361.1 107.9,361.8 108.2,358.2 108.5,361.8 108.8,358.8 109.1,362.4 109.4,361.8 109.7,360.8 110,362.4 110.3,359 110.6,362.4 110.9,361.1 111.2,362.3 111.5,358.3 111.8,361.3 112.1,359.6 112.4,361.6 112.7,360.6 113,360.6 113.3,362.2 113.6,362.3 113.9,359.2 114.2,362.4 114.5,358.4 114.8,362.3 115.1,362.4 115.4,362.4 115.7,359.7 116,358 116.3,361.9 116.6,360.7 116.9,362.3 117.2,358.5 117.5,360.5 117.8,362.4 118.1,362.4 118.4,360.5 118.7,362.4 119,359.3 119.3,362.2 119.6,362.3 119.9,361.2 120.2,362.1 120.5,361.3 120.8,362.4 121.1,358.5 121.4,362.1 121.7,359.2 122,362.4 122.3,359.6 122.6,357.7 122.9,362 123.2,362.4 123.5,362 123.8,360.8 124.1,362.3 124.4,361.4 124.7,362.4 125,361.7 125.3,360.2 125.6,361.8 125.9,360.6 126.2,362.4 126.5,359.3 126.8,362.4 127.1,358.3 127.4,357.5 127.7,358.1 128,361.5 128.3,362.2 128.6,362.1 128.9,360 129.2,361.6 129.5,358.3 129.8,362.4 130.1,361.6 130.4,359 130.7,361.1 131,361.4 131.3,362.4 131.6,362.4 131.9,362.2 132.2,358.7 132.5,359.2 132.8,362.3 133.1,358.3 133.4,362.4 133.7,361.1 134,357.8 134.3,362.1 134.6,358.1 134.9,360.7 135.2,362.4 135.5,362.1 135.8,361.8 136.1,362.3 136.4,360.1 136.7,362.3 137,359.7 137.3,362.2 137.6,362.4 137.9,361.3 138.2,362.4 138.5,361.3 138.8,359.7 139.1,361.1 139.4,361.7 139.7,362.4 140,361.5 140.3,362.4 140.6,360.8 140.9,362.4 141.2,361.2 141.5,362.1 141.8,362 142.1,360.7 142.4,362.4 142.7,362.4 143,358.1 143.3,362.1 143.6,359.2 143.9,358.9 144.2,361.7 144.5,362.4 144.8,362.4 145.1,358.8 145.4,362.4 145.7,361.6 146,361.4 146.3,362.4 146.6,361.7 146.9,362.4 147.2,361.4 147.5,361.5 147.8,362 148.1,362.3 148.4,361.9 148.7,362.3 149,362.4 149.3,362.3 149.6,358.9 149.9,361.6 150.2,358.6 150.5,362.4 150.8,357.8 151.1,361.5 151.4,359.3 151.7,361 152,360.1 152.3,362.3 152.6,359.4 152.9,362.4 153.2,362.2 153.5,362.4 153.8,361.8 154.1,361.1 154.4,362.1 154.7,357 155,362.4 155.3,360.5 155.6,362.2 155.9,360.3 156.2,357.9 156.5,358.8 156.8,362.4 157.1,362.2 157.4,359.9 157.7,353.3 157.7,360.4 157.8,350.7 158,359.4 158,362.4 158.3,359.5 158.6,356.3 158.9,354.6 159.2,360 159.5,354.3 159.8,358.6 160.1,352.4 160.4,362.4 160.7,352.2 161,359.2 161.3,359.3 161.6,362 161.9,360.9 162.2,355.5 162.5,356.2 162.8,361.7 163.1,360 163.4,361.7 163.7,361.3 163.7,360.4 163.8,343.6 164,359.4 164,361.2 164.3,360.2 164.6,352.6 164.9,352.4 165.2,357 165.5,360.9 165.8,360.8 166.1,357.3 166.4,354.9 166.7,357.8 167,359.5 167.3,362.3 167.6,359.6 167.9,356.4 168.2,357.5 168.5,362.4 168.8,358.6 169.1,361.8 169.4,362.3 169.7,354.3 170,359.3 170.3,358.4 170.6,362.4 170.5,360.4 170.7,347.4 170.8,359.4 170.9,357.2 171.2,355.3 171.5,355.9 171.8,358.5 172.1,357.3 172.4,357.8 172.7,360.3 173,361.5 173.3,357.6 173.6,358.2 173.9,357 174.2,362.1 174.5,355.5 174.8,360.9 175.1,356 175.4,362.4 175.7,355.8 176,358.6 176.3,362.2 176.6,358.2 176.9,362.3 177.2,362.3 177.5,361.6 177.8,362.3 178.1,361.5 178.4,357.9 178.7,360.3 179,360.1 179.3,361.9 179.6,359.6 179.9,359.6 179.8,360.4 180,355 180.2,359.4 180.2,360.5 180.5,358.1 180.8,359.4 181.1,361.9 181.4,362.4 181.7,360.8 182,359.3 182.3,362.1 182.6,361.1 182.9,359.3 183.2,359.7 183.5,362.4 183.8,361.6 184.1,362.4 184.4,362.4 184.7,359.5 185,361.9 185.3,361 185.6,361.7 185.9,362.1 186.2,362.3 186.5,362.1 186.8,359.2 187.1,361 187.4,362.2 187.7,362.4 187.8,360.4 187.9,355 188.1,359.4 188,362.2 188.3,360.4 188.6,361.8 188.9,360.7 189.2,359.5 189.5,362.4 189.8,360.5 190.1,362.4 190.4,359.4 190.7,362.3 191,362.2 191.3,357.9 191.6,362 191.9,362.3 192.2,358.7 192.5,361 192.8,358.7 193.1,362 193.4,361.6 193.7,358 194,361.5 194.3,357.5 194.6,362.3 194.9,359.3 195.2,362.4 195.5,361.5 195.8,362.4 196.1,362.3 196.4,358.1 196.7,361.8 197,359.5 197.3,362.3 197.6,362.1 197.9,362.4 198.2,361.3 198.5,359 198.8,361.5 199.1,362 199.4,358.3 199.7,358.7 200,360.7 200.3,362.4 200.6,360.8 200.9,361.7 201.2,357.2 201.5,362 201.8,360.3 202.1,360.4 202.4,361.9 202.7,361.1 203,359.8 203.3,356.7 203.3,360.4 203.5,353.4 203.7,359.4 203.6,361.2 203.9,361.8 204.2,355 204.5,362.4 204.8,357.2 205.1,359.2 205.4,360.5 205.7,361.3 206,358 206.3,355.5 206.6,358.2 206.9,357.8 207.2,362.3 207.5,360.3 207.8,361.8 208.1,352.5 208.4,353.2 208.7,361.7 209,357.1 209.3,357.2 209.6,362.2 209.9,359.3 210,360.4 210.2,348.5 210.3,359.4 210.2,354.8 210.5,356.3 210.8,360.5 211.1,354.6 211.4,360.4 211.7,357.5 211.8,360.4 212,350 212.2,359.4 212,359 212.3,351.2 212.6,356.1 212.9,353.8 213.2,355.7 213.5,359.4 213.8,351.3 214.1,355.1 214.4,355.4 214.4,360.4 214.6,346.3 214.8,359.4 214.7,360.4 215,361.5 215.3,356.9 215.6,353.3 215.9,353.8 216.2,359.7 216.5,361.6 216.8,357.6 216.8,360.4 217,350 217.2,359.4 217.1,352.4 217.4,361.5 217.7,354.5 218,361.4 218.3,360 218.6,362.2 218.9,360.2 219.2,359.2 219.5,350.7 219.8,350.8 220.1,361.2 220,360.4 220.2,350.7 220.3,359.4 220.4,360 220.7,351 221,361.1 221.3,359.9 221.6,358.5 221.9,361.8 222.2,360.6 222.5,359.3 222.8,359.6 223.1,352.8 223.4,362.1 223.7,362.3 224,356.1 224.3,361.5 224.6,358.1 224.9,360.5 225.2,359.5 225.5,362.2 225.8,362.4 226.1,360.6 226.4,361.9 226.7,361.6 227,361 227.3,360.6 227.6,362.3 227.9,362.1 228.2,359.3 228.5,361.7 228.8,362.2 229.1,361.2 229.4,362.3 229.7,360.4 230,362.4 230.3,359.9 230.6,361.5 230.9,362.1 231.2,358.9 231.5,362.3 231.8,362.3 232.1,362.4 232.4,361.5 232.7,360.4 233,360.9 233.3,362 233.6,360 233.9,362.4 234.2,362.2 234.5,361 234.8,358.4 235.1,361.1 235.4,360.7 235.7,360.1 236,362 236.3,358.6 236.6,360.3 236.9,362.1 237.2,362 237.5,359.8 237.8,362.1 238.1,362.3 238.4,359.2 238.7,361.5 239,361.6 239.3,360.8 239.6,358.9 239.9,362.4 240.2,362.1 240.5,362.4 240.8,361.9 241.1,361.6 241.4,359.3 241.7,360.7 242,361.2 242.3,361.9 242.6,361.3 242.9,362.2 243.2,359.3 243.5,359.8 243.8,359.3 244.1,362.4 244.4,360.6 244.7,360 245,361.6 245.3,357.9 245.6,357.2 245.9,358.8 246.2,357.2 246.5,359.3 246.8,353.5 247.1,361.7 247.4,355.5 247.7,355.6 247.8,360.4 248,340.7 248.2,359.4 248,356.8 248.3,360.6 248.6,362.1 248.9,357 249.2,354 249.5,360.6 249.8,361.1 249.8,360.4 250,348 250.2,359.4 250.1,361.1 250.4,362 250.7,356.1 251,352 251.3,354.5 251.6,359.8 251.9,355.9 252.2,362.1 252.5,354.1 252.8,360.2 253.1,362.4 253.4,356.9 253.7,361.7 254,360.7 254.3,362.2 254.6,359 254.9,357.9 255,360.4 255.2,346.7 255.3,359.4 255.2,354.8 255.5,362.3 255.8,354.5 256.1,361.9 256.4,361.1 256.7,357.1 257,360.2 257.3,360.3 257.6,357.8 257.9,361.2 258.2,357.1 258.5,362.2 258.8,356.8 259.1,357.6 259.4,360.8 259.7,362.4 260,358.8 260.3,362.4 260.6,361.4 260.9,361.8 261.2,362.4 261.5,361 261.8,360.6 262.1,361.5 262.4,362.1 262.7,361.7 263,361.4 263.3,362.3 263.6,359.7 263.9,358.6 264.2,360.2 264.5,358.9 264.8,362.2 265.1,358.6 265.4,362.4 265.7,361.8 266,362.4 266.3,361.9 266.6,360.9 266.9,360.7 267.2,361.9 267.5,362.1 267.8,362.3 268.1,362 268.4,362.2 268.7,362.3 269,360.5 269.3,361.6 269.6,361.9 269.9,362.3 270.2,360.7 270.2,360.4 270.4,355 270.5,359.4 270.5,362.3 270.8,362.3 271.1,361.4 271.4,360.7 271.7,358.3 272,360.3 272.3,358.5 272.6,358.8 272.9,360.5 273.2,360.5 273.5,362.4 273.8,362.3 274.1,362.4 274.4,359.3 274.7,360.4 275,361 275.3,362.3 275.6,362.1 275.9,362.4 276.2,361 276.5,357.7 276.8,362.2 277.1,362.4 277.4,362.3 277.7,362.1 278,358.7 278.3,359.6 278.6,361.8 278.9,362.4 279.2,362.4 279.5,362.4 279.8,359.8 280.1,361.7 280.4,356.8 280.7,357.4 281,358.6 281.3,361.3 281.6,357.6 281.9,362.4 282.2,362.4 282.5,360.2 282.8,358.4 283.1,361.2 283.4,360.7 283.7,362.3 284,351.5 284.3,353.3 284.6,346.7 284.8,360.4 284.9,301 285,359.4 284.9,343.7 285.2,355.7 285.2,360.4 285.3,320 285.4,359.4 285.5,347 285.8,355.6 286.1,341.8 286.4,340.6 286.7,360.7 287,362.3 287.3,359.1 287.4,360.4 287.5,345 287.6,359.4 287.6,349 287.9,355.1 288.2,362.4 288.5,340.2 288.8,341.8 289.1,352.5 289.4,362 289.7,337.5 290,350.1 290.3,361.7 290.6,356.3 290.8,360.4 290.9,338.5 291,359.4 290.9,346.9 291.2,337 291.5,351.4 291.8,346.1 292.1,359.1 292.4,358.2 292.4,360.4 292.5,342 292.6,359.4 292.7,335.5 293,354.3 293.3,361.1 293.6,347.4 293.9,360.7 294.2,359.1 294.4,360.4 294.5,332.9 294.6,359.4 294.5,351.8 294.8,347.3 295.1,345.4 295.4,342.6" fill="none" stroke="#111" stroke-width="0.8"/>
<line x1="33.5" y1="438.4" x2="38.0" y2="438.4" stroke="#555" stroke-width="0.6"/>
<line x1="295.8" y1="438.4" x2="291.3" y2="438.4" stroke="#555" stroke-width="0.6"/>
<line x1="33.5" y1="450.1" x2="38.0" y2="450.1" stroke="#555" stroke-width="0.6"/>
<line x1="295.8" y1="450.1" x2="291.3" y2="450.1" stroke="#555" stroke-width="0.6"/>
<line x1="33.5" y1="461.3" x2="38.0" y2="461.3" stroke="#555" stroke-width="0.6"/>
<line x1="295.8" y1="461.3" x2="291.3" y2="461.3" stroke="#555" stroke-width="0.6"/>
<line x1="33.5" y1="472.7" x2="38.0" y2="472.7" stroke="#555" stroke-width="0.6"/>
<line x1="295.8" y1="472.7" x2="291.3" y2="472.7" stroke="#555" stroke-width="0.6"/>
<line x1="33.5" y1="484.3" x2="38.0" y2="484.3" stroke="#555" stroke-width="0.6"/>
<line x1="295.8" y1="484.3" x2="291.3" y2="484.3" stroke="#555" stroke-width="0.6"/>
<line x1="33.5" y1="444.3" x2="36.0" y2="444.3" stroke="#777" stroke-width="0.6"/>
<line x1="295.8" y1="444.3" x2="293.3" y2="444.3" stroke="#777" stroke-width="0.6"/>
<line x1="33.5" y1="455.7" x2="36.0" y2="455.7" stroke="#777" stroke-width="0.6"/>
<line x1="295.8" y1="455.7" x2="293.3" y2="455.7" stroke="#777" stroke-width="0.6"/>
<line x1="33.5" y1="467" x2="36.0" y2="467" stroke="#777" stroke-width="0.6"/>
<line x1="295.8" y1="467" x2="293.3" y2="467" stroke="#777" stroke-width="0.6"/>
<line x1="33.5" y1="478.5" x2="36.0" y2="478.5" stroke="#777" stroke-width="0.6"/>
<line x1="295.8" y1="478.5" x2="293.3" y2="478.5" stroke="#777" stroke-width="0.6"/>
<line x1="33.5" y1="490" x2="36.0" y2="490" stroke="#777" stroke-width="0.6"/>
<line x1="295.8" y1="490" x2="293.3" y2="490" stroke="#777" stroke-width="0.6"/>
<polyline points="33.8,494.3 34.1,494.9 34.4,492.7 34.7,494.9 35,494.2 35.3,494.4 35.6,493.1 35.9,492.7 36.2,494.8 36.5,493.2 36.8,492.9 37.1,494.2 37.4,494.9 37.7,490.8 38,493.5 38.3,494.9 38.6,494.8 38.9,489.7 39.2,494.8 39.5,494.4 39.8,492 40.1,491.6 40.4,493.2 40.7,492.4 41,494.9 41.3,494.9 41.6,489.7 41.9,491.7 42.2,494.9 42.5,494.9 42.8,494.8 43.1,490.2 43.4,494.8 43.4,492.9 43.5,455.1 43.6,491.9 43.7,492.9 43.6,492.9 43.8,470 43.9,491.9 44,490.1 44.3,493.1 44.6,490.3 44.9,494.7 45.2,494.9 45.5,494.9 45.8,492.1 46.1,494.9 46.4,489.4 46.7,492.5 47,494.8 47.3,491.5 47.6,494.8 47.9,493.8 48.2,494.9 48.5,491.6 48.8,490.4 49.1,490 49.4,494.9 49.7,490.9 50,493.6 50.3,491.2 50.6,493.9 50.9,493.1 51.2,493.3 51.5,491.4 51.8,494.9 52.1,494.9 52.4,493.6 52.7,494.6 53,494.3 53.3,494.9 53.6,491.9 53.9,494.9 54.2,490.9 54.5,491.1 54.8,494 55.1,494.9 55.4,492.8 55.7,494.8 56,494.2 56.3,494.9 56.6,488.7 56.9,493.5 57.2,494.5 57.5,494.9 57.8,491.9 58.1,490.5 58.4,490.5 58.7,494.9 59,494.4 59.3,494.6 59.6,491.5 59.9,494.9 60.2,493 60.5,488.4 60.8,491.4 61.1,494.9 61.4,494.9 61.7,494.9 62,492.3 62.3,493.1 62.6,493.6 62.9,494 63.2,494.2 63.5,493 63.8,492.7 64.1,489.4 64.4,491.8 64.7,491.1 65,489.5 65.3,490.6 65.6,492 65.9,494.9 66.2,492.4 66.5,490.4 66.8,494.1 67.1,490 67.4,494.8 67.7,489 68,494.1 68.3,492.1 68.6,494.7 68.9,494.6 69.2,494.5 69.5,494.5 69.8,494.9 70.1,494.1 70.4,488.4 70.7,492.6 71,489.2 71.3,491.5 71.6,490.6 71.9,488.1 72.2,491.6 72.5,494.7 72.8,494.7 73.1,494.2 73.4,494.9 73.7,494.7 74,489.9 74.3,489.4 74.6,494.5 74.9,491.4 75.2,491.4 75.5,489.8 75.8,491.1 76.1,493.6 76.4,494.9 76.7,490.7 77,494.6 77.3,492.9 77.6,494.4 77.9,493.5 78.2,488.6 78.5,494.8 78.8,493.6 79.1,492.7 79.4,493.5 79.7,489.1 80,494.2 80.3,489.5 80.6,492.3 80.9,488.6 81.2,494.9 81.5,494.8 81.8,494.6 82.1,489.6 82.4,494.9 82.7,494.7 83,492 83.3,488.2 83.6,494.8 83.9,494.1 84.2,492.3 84.5,492.3 84.8,491.7 85.1,491.6 85.4,494.7 85.7,494.7 86,494.9 86.3,492.3 86.6,494.8 86.9,494.7 87.2,488.6 87.5,492.7 87.8,493.1 88.1,492.6 88.4,493.1 88.7,492.2 89,494.6 89.3,494.9 89.6,494.9 89.9,494.9 90.2,494.4 90.5,494.9 90.8,494.9 91.1,493.8 91.4,488.6 91.7,492.3 92,494.7 92.3,491.4 92.6,494.8 92.9,494.9 93.2,494.6 93.5,494.2 93.8,492.3 94.1,494.1 94.4,491.9 94.7,494.9 95,489.2 95.3,494.5 95.6,490.6 95.9,494.9 96.2,490.7 96.5,494.8 96.8,490.3 97.1,491 97.4,492.5 97.7,494.7 98,494.9 98.3,494.8 98.6,489.6 98.9,494.8 99.2,492.6 99.5,493.2 99.8,492.6 100.1,494.8 100.4,494.9 100.7,494.9 101,488.3 101.3,494.3 101.6,492.6 101.9,493.3 102.2,494.8 102.5,494.9 102.8,494.9 103.1,490.4 103.4,494.9 103.7,488.7 104,494.4 104.3,491.9 104.6,494.9 104.9,491.2 105.2,494.7 105.5,494.4 105.8,493.6 106.1,494.9 106.4,494.7 106.7,491.1 107,494.6 107.3,494.3 107.6,491.5 107.9,494.8 108.2,494.8 108.5,494.8 108.8,494.3 109.1,494.4 109.4,492.7 109.7,493.9 110,490.1 110.3,494.9 110.6,492.5 110.9,490.6 111.2,494.7 111.5,494.9 111.8,494.1 112.1,494.9 112.4,494 112.7,492.1 113,494.9 113.3,494.9 113.6,493.9 113.9,494.8 114.2,494.7 114.5,494.1 114.8,494.9 115.1,494.9 115.4,494.4 115.7,493.9 116,489.1 116.3,493.4 116.6,494.9 116.9,494.8 117.2,491.7 117.5,493.4 117.8,490.1 118.1,488.7 118.4,490.3 118.7,494.9 119,489 119.3,493.6 119.6,494.7 119.9,494.8 120.2,490.2 120.5,494.8 120.8,494.9 121.1,494.7 121.4,489.3 121.7,494 122,491.9 122.3,494.9 122.6,494 122.9,494.6 123.2,494.8 123.5,492.5 123.8,494.4 124.1,494.9 124.4,488.3 124.7,493.9 125,494.8 125.3,494.9 125.6,492.6 125.9,493.7 126.2,494.9 126.5,493.9 126.8,491.8 127.1,493.5 127.4,494.7 127.7,493.8 128,493 128.3,492.6 128.6,494.9 128.9,491 129.2,489 129.5,491.8 129.8,490.3 130.1,494.4 130.4,489.6 130.7,494.8 131,494.8 131.3,493.1 131.6,489.6 131.9,494.9 132.2,494.8 132.5,494.9 132.8,494.1 133.1,494.9 133.4,494.8 133.7,491.7 134,493.2 134.3,489.1 134.6,494.3 134.9,492.4 135.2,494.9 135.5,488.9 135.8,494.7 136.1,493.9 136.4,493.7 136.7,488.9 137,493.8 137.3,488.2 137.6,492.9 137.9,494.8 138.2,490.6 138.5,494.8 138.8,488 139.1,494 139.4,494.8 139.7,488.7 140,494.5 140.3,494.2 140.6,494.5 140.9,492.5 141.2,494.9 141.5,494.4 141.8,494.8 142.1,490.7 142.4,494.9 142.7,493 143,494.7 143.3,494 143.6,493.4 143.9,492.1 144.2,494.9 144.5,494.7 144.8,494.9 145.1,488.7 145.4,494.9 145.7,494.9 146,493.6 146.3,493.2 146.6,489.9 146.9,494.9 147.2,494.7 147.5,494.8 147.8,493.2 148.1,494 148.4,494.2 148.7,489.8 149,492.6 149.3,490.3 149.6,488.8 149.9,494.7 150.2,488.9 150.5,494.2 150.8,494.9 151.1,488.9 151.4,494.9 151.7,494.9 152,494.6 152.3,494.6 152.6,487.1 152.9,488.8 153.2,494 153.5,493.2 153.8,488.9 154.1,489.5 154.4,491.7 154.7,493.2 155,494.4 155.3,493.3 155.6,487.4 155.9,487.7 156.2,482.4 156.5,478.8 156.8,475.5 157.1,492.7 157.2,492.9 157.4,440.2 157.6,491.9 157.4,494.2 157.7,472.8 158,482.4 158.2,492.9 158.3,466 158.5,491.9 158.3,492.4 158.6,478.6 158.9,490.9 159.2,491.3 159.5,488.3 159.8,484 159.8,492.9 160,470 160.2,491.9 160.1,479.3 160.4,494.2 160.7,477.4 161,481.2 161.3,485.7 161.6,479.8 161.9,475.7 162.2,494.9 162.2,492.9 162.3,467.4 162.5,491.9 162.5,485.7 162.8,479.8 163.1,478.9 163.4,480.9 163.7,492.6 164,470.8 164.3,476.7 164.6,491.6 164.9,487.1 165.2,471.1 165.5,492.1 165.4,492.9 165.6,474 165.8,491.9 165.8,487.7 166.1,471.4 166.4,473.8 166.7,491.8 167,479.5 167.3,489.3 167.6,482 167.9,479.3 167.8,492.9 168,478 168.2,491.9 168.2,493.7 168.5,492.2 168.8,492.4 169.1,491.6 169.4,494.7 169.7,493.7 170,489.2 170.3,489.1 170.6,494.4 170.9,486 171,492.9 171.2,462.4 171.3,491.9 171.2,477.9 171.5,486.5 171.8,490.7 172.1,484.3 172.4,489.7 172.7,493.5 173,489.5 173.3,494.9 173.6,487.1 173.9,493.9 174.2,491.9 174.5,484.2 174.8,487.7 175.1,488.8 175.4,492.1 175.7,492.4 176,491.9 176.3,488.1 176.6,494.8 176.9,491.2 177.2,494.6 177.5,494.7 177.8,490.5 178.1,493 178.4,490.2 178.7,489.8 179,493.1 179.3,494.8 179.6,494.9 179.9,493.5 180.2,491.8 180.5,494.7 180.8,494.9 181.1,494.9 181.4,494.8 181.7,492.2 182,494.9 182.3,494.8 182.6,494.7 182.9,492.1 182.8,492.9 183,475.8 183.2,491.9 183.2,488.4 183.5,494.9 183.8,494.9 184.1,489.3 184.4,488.8 184.7,494.9 185,494.5 185.3,493.7 185.6,494.6 185.9,494.2 186.2,494 186.5,494.7 186.8,494.9 187.1,494.9 187.4,494.8 187.7,494.9 187.8,492.9 187.9,488.5 188.1,491.9 188,493.1 188.3,492.5 188.6,494.7 188.9,491.5 189.2,492.2 189.5,494.5 189.8,493.9 190.1,494.8 190.4,489.9 190.7,493.6 191,494.9 191.3,494.9 191.6,492.6 191.9,494.4 192.2,492.5 192.5,494.8 192.8,491.7 193.1,491.7 193.4,494.9 193.7,493.5 194,494.8 194.3,492.6 194.6,491.7 194.9,491.9 195.2,494.8 195.5,494.9 195.8,493 196.1,493.7 196.4,494.9 196.7,494.8 197,493.6 197.3,494.9 197.6,493.3 197.9,494.8 198.2,494.7 198.5,494.3 198.8,493.9 199.1,492.7 199.4,494.9 199.7,492.7 200,494.8 200.3,494.7 200.6,493.3 200.9,492.9 201.2,493.4 201.5,490.8 201.8,494.8 202.1,494.6 202.4,493 202.7,494.7 203,494.9 203.3,494.8 203.3,492.9 203.5,489.2 203.7,491.9 203.6,492 203.9,491.4 204.2,492.4 204.5,489.6 204.8,491.6 205.1,494.6 205.4,494.6 205.7,492.3 206,494.9 206.3,493.2 206.6,494.9 206.9,494.9 207.2,493.7 207.5,494.9 207.8,489.4 208.1,490.1 208.4,494 208.7,494.8 209,494.9 209.3,493.7 209.6,493.6 209.9,494.4 210.2,491.9 210.5,493.5 210.8,491.2 211.1,494.9 211.4,494.9 211.7,494.3 212,493.8 212.3,493.4 212.6,487.6 212.9,493 213.2,491.3 213.5,487.6 213.8,480.4 213.8,492.9 214,432.8 214.2,491.9 214.1,477.6 214.4,488.7 214.3,492.9 214.5,445 214.7,491.9 214.7,486.9 215,472.7 215.2,492.9 215.3,460 215.5,491.9 215.3,472.6 215.6,482.4 215.9,493.9 216.2,486.8 216.5,482 216.8,490.9 216.8,492.9 217,472 217.2,491.9 217.1,494.7 217.4,471.6 217.7,474 218,493.6 218.3,486.8 218.6,482.9 218.9,490.6 218.8,492.9 219,478.5 219.2,491.9 219.2,494.4 219.5,479.3 219.8,478.8 220.1,487.6 220.4,494.2 220.7,488.7 221,494.1 221.2,492.9 221.3,478 221.5,491.9 221.3,473.3 221.6,494.5 221.9,491 222.2,479.9 222.5,493.7 222.8,494.1 223.1,494.5 223.4,493.6 223.7,488.5 224,483.8 224.3,493.8 224.6,493.9 224.9,487.5 225.2,493.9 225.5,494.4 225.8,494.9 226.1,494.7 226.4,489.1 226.7,494.9 227,494.7 227.3,492 227.6,490.3 227.9,490.1 228.2,494 228.5,489.3 228.8,493.2 229.1,494.7 229.4,494 229.7,492.3 230,492.1 230.3,494.9 230.6,494.8 230.9,489.3 231.2,494.9 231.5,491.2 231.8,494.5 232.1,494.7 232.4,494.7 232.7,494 233,488.8 233.3,494.9 233.6,490.7 233.9,494.6 234.2,494.8 234.5,492 234.8,494.5 235.1,494.8 235.4,494.3 235.7,491.1 236,490.6 236.3,493.4 236.6,494.9 236.9,491.8 237.2,493.2 237.5,490.2 237.8,489.4 238.1,494.6 238.4,490.8 238.7,491.2 239,494.7 239.3,494.4 239.6,494.4 239.9,494.5 240.2,494.4 240.5,494.9 240.8,494.8 241.1,490 241.4,494.3 241.7,493 242,490.3 242.3,491.9 242.6,494.7 242.9,489.9 243.2,491.4 243.5,488.8 243.8,492.2 244.1,491.9 244.4,491.3 244.7,494.7 245,492.8 245.3,494.3 245.6,489.5 245.9,494.8 246.2,490.4 246.5,492.3 246.8,485 247.1,491.7 247.4,482.9 247.7,481.9 247.8,492.9 248,478.5 248.2,491.9 248,480.3 248.3,493.8 248.6,479 248.9,483.5 249.2,485 249.5,485.5 249.8,494.7 250.1,481 250.4,487.7 250.7,489.3 250.8,492.9 251,482 251.2,491.9 251,491.2 251.3,483.1 251.6,483.2 251.9,481.4 252.2,493 252.5,491.3 252.8,492.6 253.1,494.3 253.4,491.6 253.7,494.8 254,483.4 254.3,492.9 254.6,494.5 254.7,492.9 254.8,481.8 255,491.9 254.9,494.5 255.2,484.7 255.5,493.3 255.8,489.7 256.1,490.6 256.4,483.8 256.7,480.8 257,492 257.3,487.5 257.6,483.6 257.9,490.6 258.2,485 258.5,488 258.8,494.4 259.1,488.6 259.4,493 259.7,494.9 260,493.3 260.3,491 260.6,493.8 260.9,493.9 261.2,494.3 261.5,490.4 261.8,492.7 262.1,494.8 262.4,494.4 262.7,494.4 263,489.1 263.3,492.4 263.6,494.9 263.9,489.8 264.2,494.9 264.5,493.2 264.8,494.2 265.1,492.1 265.4,494.2 265.7,494.9 266,493.7 266.3,491 266.6,491.3 266.9,494.4 267.2,494.8 267.5,491.8 267.8,491.1 268.1,494.8 268.4,490 268.7,488.3 269,494.1 269.3,494.4 269.6,492.1 269.9,489.3 270.2,494.8 270.2,492.9 270.4,483.4 270.5,491.9 270.5,494.6 270.8,494.5 271.1,491.8 271.4,494.8 271.7,493.5 272,493.8 272.3,492.5 272.6,494.9 272.9,488.7 273.2,487.9 273.5,493.3 273.8,491 274.1,494.8 274.4,489.4 274.7,493.4 275,491.4 275.3,490 275.6,494.4 275.9,489.1 276.2,494.8 276.5,494.9 276.8,493.7 277.1,489.4 277.4,489.4 277.7,488.5 278,493.6 278.3,488.8 278.6,493.3 278.9,494.9 279.2,492.7 279.5,490.7 279.8,494.1 280.1,492.9 280.4,494.7 280.7,494.6 281,494.1 281.3,493.6 281.6,493.9 281.9,494.9 282.2,494.9 282.5,492.6 282.8,487.3 283.1,485.6 283.4,492.8 283.7,492.3 284,487.3 284.3,493.1 284.6,483.7 284.9,473.7 285.2,492.2 285.4,492.9 285.5,440.6 285.6,491.9 285.5,482.3 285.8,477.5 286.1,475.9 286.2,492.9 286.4,462.9 286.5,491.9 286.4,476.6 286.7,476.1 287,489.8 287.3,469.8 287.6,465.2 287.9,494.3 287.9,492.9 288,470 288.1,491.9 288.2,462.6 288.5,483.4 288.8,493.7 289.1,494 289.4,467.8 289.7,473.4 290,492.5 290.3,482.6 290.6,475.5 290.9,458.9 291,492.9 291.1,458.4 291.2,491.9 291.2,487.1 291.5,470.3 291.8,489.9 292.1,491.2 292.4,492.2 292.4,492.9 292.5,470 292.6,491.9 292.7,484.9 293,477.2 293.3,488.4 293.6,492.2 293.9,490.9 294.2,493.8 294.5,491.5 294.8,488.3 294.8,492.9 294.9,476.3 295,491.9 295.1,482.2 295.4,491.8" fill="none" stroke="#111" stroke-width="0.8"/>
<line x1="33.5" y1="505.7" x2="38.0" y2="505.7" stroke="#555" stroke-width="0.6"/>
<line x1="295.8" y1="505.7" x2="291.3" y2="505.7" stroke="#555" stroke-width="0.6"/>
<line x1="33.5" y1="519.5" x2="38.0" y2="519.5" stroke="#555" stroke-width="0.6"/>
<line x1="295.8" y1="519.5" x2="291.3" y2="519.5" stroke="#555" stroke-width="0.6"/>
<line x1="33.5" y1="533.3" x2="38.0" y2="533.3" stroke="#555" stroke-width="0.6"/>
<line x1="295.8" y1="533.3" x2="291.3" y2="533.3" stroke="#555" stroke-width="0.6"/>
<line x1="33.5" y1="547" x2="38.0" y2="547" stroke="#555" stroke-width="0.6"/>
<line x1="295.8" y1="547" x2="291.3" y2="547" stroke="#555" stroke-width="0.6"/>
<line x1="33.5" y1="512.6" x2="36.0" y2="512.6" stroke="#777" stroke-width="0.6"/>
<line x1="295.8" y1="512.6" x2="293.3" y2="512.6" stroke="#777" stroke-width="0.6"/>
<line x1="33.5" y1="526.4" x2="36.0" y2="526.4" stroke="#777" stroke-width="0.6"/>
<line x1="295.8" y1="526.4" x2="293.3" y2="526.4" stroke="#777" stroke-width="0.6"/>
<line x1="33.5" y1="540.2" x2="36.0" y2="540.2" stroke="#777" stroke-width="0.6"/>
<line x1="295.8" y1="540.2" x2="293.3" y2="540.2" stroke="#777" stroke-width="0.6"/>
<line x1="33.5" y1="553.9" x2="36.0" y2="553.9" stroke="#777" stroke-width="0.6"/>
<line x1="295.8" y1="553.9" x2="293.3" y2="553.9" stroke="#777" stroke-width="0.6"/>
<polyline points="33.8,559.5 34.1,559.6 34.4,556.5 34.7,559.5 35,556.7 35.3,559.5 35.6,560 35.9,559.1 36.2,560.1 36.5,560.1 36.8,560.1 37.1,558.4 37.4,556.2 37.7,559.7 38,559.8 38.3,559.6 38.6,559.8 38.9,558.4 39.2,559.7 39.5,560.1 39.8,557 40.1,559 40.4,560.1 40.7,557.1 41,558.1 41.3,559.8 41.6,558.7 41.9,556.3 42.2,559.7 42.5,559.6 42.8,559.9 43.1,559 43.4,558.4 43.4,558.1 43.5,523.4 43.6,557.1 43.7,557.9 43.6,558.1 43.8,540 43.9,557.1 44,555.7 44.3,560.1 44.6,559.7 44.9,556.7 45.2,557.3 45.5,558.8 45.8,558.2 46.1,559.8 46.4,555.6 46.7,559 47,559.6 47.3,560 47.6,560.1 47.9,556 48.2,557 48.5,560.1 48.8,559.8 49.1,559.3 49.4,559.2 49.7,559.7 50,555.8 50.3,559.7 50.6,559 50.9,555.3 51.2,558.3 51.5,559.2 51.8,559.8 52.1,559.6 52.4,558.5 52.7,556.9 53,559.9 53.3,559.6 53.6,559.6 53.9,559.7 54.2,555.2 54.5,558.9 54.8,559.9 55.1,559.7 55.4,556.3 55.7,560 56,557.7 56.3,560.1 56.6,560 56.9,560.1 57.2,556.4 57.5,560.1 57.8,560 58.1,560.1 58.4,559.9 58.7,557.1 59,557.2 59.3,554.8 59.6,554.2 59.9,558.6 60.2,554.5 60.5,560.1 60.8,554.5 61.1,559.3 61.4,560 61.7,556.9 62,555.5 62.3,559.5 62.6,560.1 62.9,555.2 63.2,556.8 63.5,558.3 63.8,553.6 64.1,560.1 64.4,560.1 64.7,560.1 65,560.1 65.3,557.3 65.6,558 65.9,560.1 66.2,560 66.5,560 66.8,558.2 67.1,557.6 67.4,553.6 67.7,559.6 68,553.5 68.3,559.3 68.6,559.5 68.9,559.9 69.2,559.9 69.5,553.5 69.8,553.2 70.1,557.3 70.4,560 70.7,560 71,560 71.3,559.6 71.6,556.9 71.9,560.1 72.2,558.7 72.5,557.5 72.8,560.1 73.1,559.3 73.4,556.3 73.7,558.4 74,559.2 74.3,555 74.6,558.2 74.9,559.7 75.2,559.5 75.5,554 75.8,555.3 76.1,554.4 76.4,558.5 76.7,560.1 77,560 77.3,559.5 77.6,557.4 77.9,560.1 78.2,556.1 78.5,556.3 78.8,558.8 79.1,560.1 79.4,556.1 79.7,559.4 80,557.6 80.3,558.4 80.6,556.9 80.9,559.4 81.2,553.6 81.5,553.7 81.8,554.1 82.1,558.1 82.4,559.7 82.7,559.5 83,559.9 83.3,554.5 83.6,556.1 83.9,556.2 84.2,555.8 84.5,553 84.8,557.4 85.1,559.7 85.4,556.6 85.7,559.9 86,558.1 86.3,560 86.6,555.2 86.9,559 87.2,559.8 87.5,554.2 87.8,560.1 88.1,554 88.4,556.6 88.7,560 89,556.5 89.3,558.4 89.6,554.4 89.9,558.3 90.2,559.3 90.5,554 90.8,560.1 91.1,556.3 91.4,560.1 91.7,559.8 92,560.1 92.3,554.9 92.6,559.2 92.9,556.9 93.2,559.9 93.5,556.8 93.8,557.7 94.1,560.1 94.4,558.9 94.7,556.9 95,560 95.3,557.6 95.6,559.8 95.9,559.5 96.2,554.1 96.5,553.7 96.8,552.7 97.1,559.3 97.4,558.4 97.7,555.8 98,556.5 98.3,559.1 98.6,555 98.9,559.4 99.2,553.5 99.5,559 99.8,560.1 100.1,556.6 100.4,560.1 100.7,557.4 101,560.1 101.3,552.9 101.6,558.6 101.9,556.7 102.2,560.1 102.5,557.8 102.8,559.5 103.1,559.9 103.4,555.8 103.7,560.1 104,559 104.3,560.1 104.6,555.3 104.9,554.7 105.2,560.1 105.5,559.1 105.8,559.1 106.1,557 106.4,556.9 106.7,559.7 107,554.1 107.3,560 107.6,560.1 107.9,555.9 108.2,560.1 108.5,560 108.8,558.9 109.1,559.7 109.4,560 109.7,554.2 110,559.1 110.3,556.3 110.6,559.9 110.9,554.5 111.2,560 111.5,554.7 111.8,558.1 112.1,553.6 112.4,556.5 112.7,558 113,558.7 113.3,555.5 113.6,559.3 113.9,560.1 114.2,554.6 114.5,556.2 114.8,557.6 115.1,556.9 115.4,559.9 115.7,559.2 116,556 116.3,553.9 116.6,554.6 116.9,560 117.2,557.6 117.5,558.6 117.8,559.5 118.1,560 118.4,560.1 118.7,559.2 119,559 119.3,559.9 119.6,559.6 119.9,558.7 120.2,556.8 120.5,558.4 120.8,560 121.1,555.3 121.4,559.6 121.7,554.2 122,553.8 122.3,560.1 122.6,558.5 122.9,554.1 123.2,559.6 123.5,558.7 123.8,559.8 124.1,560.1 124.4,560 124.7,560.1 125,559.9 125.3,558.2 125.6,558.7 125.9,554.5 126.2,557.7 126.5,559.6 126.8,554.5 127.1,558.2 127.4,558.8 127.7,555.8 128,557.9 128.3,559.7 128.6,558.4 128.9,559.8 129.2,554.3 129.5,559.9 129.8,554.3 130.1,560.1 130.4,560.1 130.7,558.8 131,560 131.3,559 131.6,560.1 131.9,556.2 132.2,557.9 132.5,557.8 132.8,555 133.1,554 133.4,557.8 133.7,557.5 134,560.1 134.3,560.1 134.6,559.4 134.9,554.3 135.2,559.8 135.5,558.7 135.8,560.1 136.1,559.5 136.4,555.3 136.7,558.5 137,556.3 137.3,560.1 137.6,560 137.9,560 138.2,556.2 138.5,560.1 138.8,554.9 139.1,559.9 139.4,555.6 139.7,559 140,559.8 140.3,554.4 140.6,559.5 140.9,557.7 141.2,560.1 141.5,556.2 141.8,554.2 142.1,560.1 142.4,557.2 142.7,559.9 143,560.1 143.3,559.6 143.6,558 143.9,554.6 144.2,553.9 144.5,554 144.8,558.3 145.1,558 145.4,560 145.7,557.4 146,558.8 146.3,559.7 146.6,555.3 146.9,559.9 147.2,560.1 147.5,560 147.8,560.1 148.1,558.5 148.4,556.6 148.7,560 149,559.1 149.3,558.6 149.6,558.7 149.9,559.5 150.2,558.8 150.5,560.1 150.8,560.1 151.1,559.3 151.4,559.9 151.7,556.5 152,559.9 152.3,555.3 152.6,559.9 152.9,560.1 153.2,558.8 153.5,559.3 153.8,559.6 154.1,555.5 154.4,559.9 154.7,556.6 155,552.3 155.3,556.7 155.6,556 155.9,550.3 156.2,554.6 156.5,559.1 156.8,559.8 157.1,559.7 157.4,557.5 157.7,559.7 158,553 158.3,556.1 158.6,557.5 158.9,554.7 159.2,547.1 159.5,558.1 159.8,559 160.1,557.3 160.4,557 160.7,547.1 160.8,558.1 161,540.8 161.2,557.1 161,551 161.3,555.6 161.6,558.9 161.9,559.9 162.2,559.3 162.2,558.1 162.3,542 162.5,557.1 162.5,548.7 162.8,552.3 163.1,559 163.4,552.8 163.7,559.8 164,554.7 164.3,557.1 164.6,559.5 164.9,551 165.2,551.5 165.5,554.8 165.8,559 166.1,552.4 166.4,555.9 166.5,558.1 166.7,541.7 166.8,557.1 166.7,552.6 167,559.6 167.3,548.7 167.2,558.1 167.4,543 167.6,557.1 167.6,560.1 167.9,558.5 168.2,556.5 168.5,558.8 168.8,559.7 169.1,552.6 169.4,547.6 169.7,557.4 170,558.1 170.3,553 170.6,558.6 170.9,556.7 171.2,552.9 171.5,556.4 171.8,559.2 172.1,559.8 172.4,555 172.7,548.4 172.7,558.1 172.8,541.7 173,557.1 173,549.6 173,558.1 173.2,544 173.3,557.1 173.3,559.6 173.6,555.7 173.9,555.9 174.2,558.9 174.5,553.6 174.8,555.9 175.1,551.8 175.4,558.2 175.7,550.7 176,554.2 176.3,558.7 176.6,560 176.9,558.8 177.2,560.1 177.5,557.1 177.8,557.1 178.1,558.3 178.4,553.5 178.7,560.1 179,557.5 179.3,556.8 179.6,560.1 179.9,559.8 180.2,560.1 180.5,558.9 180.8,557.9 181.1,559.8 181.4,558.2 181.7,559.7 182,558 182.3,559.9 182.6,555.4 182.9,559.5 183.2,560.1 183.5,560.1 183.8,557.9 184.1,556.7 184.4,558.6 184.7,560.1 185,556.6 185.3,558 185.6,560.1 185.9,559.7 186.2,558.3 186.5,560.1 186.8,560.1 187.1,559.8 187.4,556.6 187.7,555.1 188,559.8 188.3,556.2 188.6,557.4 188.9,556.7 189.2,558.8 189.5,555.5 189.8,558.5 190.1,555.8 190.4,559 190.7,560 191,559.2 191.3,559.3 191.6,559.8 191.9,559.7 192.2,559.2 192.5,558.8 192.8,560 193.1,559.9 193.4,559.3 193.7,559.3 194,559.6 194.3,558.4 194.6,560 194.9,559.1 195.2,559.9 195.5,557.6 195.8,558.1 196.1,557.5 196.4,559.2 196.7,560 197,556 197.3,559.2 197.6,559.7 197.9,559.9 198.2,559.6 198.5,558.1 198.8,557.1 199.1,559.3 199.4,557.9 199.7,560 200,559.5 200.3,559.7 200.6,559.9 200.9,559.7 201.2,557.5 201.5,557.6 201.8,560 202.1,560 202.4,556.9 202.7,558.1 203,557.8 203.3,558.1 203.6,557.6 203.9,559.9 204.2,560.1 204.5,559.6 204.4,558.1 204.6,548.4 204.8,557.1 204.8,560.1 205.1,553.7 205.4,558.7 205.7,557.5 206,553.2 206.3,555.8 206.6,559.9 206.9,559.6 207.2,560.1 207.5,555.6 207.8,556.4 208.1,558.8 208.4,559.5 208.7,559.8 209,558.8 209.3,556.4 209.6,553.3 209.9,554.1 210.2,553.7 210.5,559 210.8,559.1 211.1,559.6 211.4,551 211.7,560 212,559.3 212.3,558.1 212.6,547.8 212.9,547.6 213.2,556.4 213.5,544.6 213.8,542 213.8,558.1 214,519.4 214.2,557.1 214.1,553.3 214.4,557.9 214.7,544.7 215,554.5 214.9,558.1 215.1,533.5 215.2,557.1 215.3,559 215.6,541.4 215.9,553.3 216.2,554.3 216.3,558.1 216.5,538 216.7,557.1 216.5,549.9 216.8,557 217.1,560 217.4,554.6 217.7,554.8 217.8,558.1 218,542 218.2,557.1 218,560.1 218.3,555.1 218.6,546.5 218.9,555.9 219.2,548.7 219.5,550 219.8,558.2 220.1,560 220.4,549.2 220.7,550.7 221,556.8 221.3,558.2 221.6,545.4 221.9,544.2 222.2,557.8 222.2,558.1 222.4,543.5 222.6,557.1 222.5,551.7 222.8,552 223.1,556.6 223.4,559.9 223.7,556.7 224,551.5 224.3,552.5 224.6,554.3 224.9,559.3 225.2,558.5 225.5,557.5 225.8,556.3 226.1,557.1 226.4,549.7 226.7,559.5 227,549.2 227.3,558.7 227.6,552 227.9,559.9 228.2,557.8 228.5,559.4 228.8,560.1 228.9,558.1 229.1,549 229.2,557.1 229.1,555.8 229.4,555.9 229.7,559.9 230,556.9 230.3,559.2 230.6,554.1 230.9,560.1 231.2,559.6 231.5,560 231.8,558.3 232.1,556.8 232.4,556.1 232.7,558.8 233,559.6 233.3,556.6 233.6,560.1 233.9,559.9 234.2,557.1 234.5,559.4 234.8,554 235.1,560.1 235.4,559.3 235.7,560 236,560.1 236.3,560.1 236.6,560.1 236.9,559.6 237.2,559.4 237.5,559 237.8,559.9 238.1,557.6 238.4,559 238.7,554.1 239,560 239.3,559 239.6,559.1 239.9,559.6 240.2,555.9 240.5,560 240.8,555.6 241.1,559.7 241.4,559.7 241.7,558.3 242,558.7 242.3,559.9 242.6,560.1 242.9,554.6 243.2,559.6 243.5,560.1 243.8,558 244.1,558.9 244.4,559.8 244.7,559.8 245,556.1 245.3,559.7 245.6,559.3 245.9,552 246.2,557.7 246.5,557 246.8,559.2 247.1,553.1 247.4,553.1 247.7,556.1 248,556.6 248.3,558.5 248.6,551.3 248.7,558.1 248.8,529.7 249,557.1 248.9,556 249.2,550.7 249.5,557 249.8,552.2 249.8,558.1 250,540 250.2,557.1 250.1,560 250.4,558.7 250.7,548.7 251,553.1 251.3,553.2 251.6,555.6 251.9,555.9 252.2,558.9 252.5,559.1 252.8,553.7 253.1,553.1 253.4,558.3 253.7,553.8 254,559.4 254.3,554.3 254.6,559.1 254.7,558.1 254.8,546.8 255,557.1 254.9,555.6 255.2,557.8 255.5,555.1 255.8,559.4 256.1,556 256.4,554.3 256.7,559.4 257,557.9 257.3,553.9 257.6,558 257.9,557.4 258.2,555.5 258.5,558.2 258.8,559.9 259.1,559.3 259.4,556.2 259.7,558.8 260,557.7 260.3,559.7 260.6,559.5 260.9,555.4 261.2,557.1 261.5,558.4 261.8,560.1 262.1,558.7 262.4,560.1 262.7,555.8 263,555.3 263.3,557.8 263.6,559.9 263.9,556.7 264.2,560 264.5,556.9 264.8,559.1 265.1,560.1 265.4,556.2 265.7,559.5 266,556.8 266.3,558.1 266.6,559.1 266.9,556.4 267.2,560 267.5,556 267.8,559.8 268.1,560.1 268.4,559.8 268.7,560.1 269,560.1 269.3,558.5 269.6,560.1 269.9,560.1 270.2,559.9 270.5,559.9 270.8,555.6 271.1,555.8 271.4,556.2 271.7,554.6 272,559.4 272.3,557 272.6,559.9 272.9,555.4 273.2,556.8 273.5,557.5 273.8,560 274.1,560.1 274.4,555.3 274.7,558.9 275,558.5 275.3,556.1 275.6,560.1 275.9,557.8 276.2,559.3 276.5,556.9 276.8,559.3 277.1,560 277.4,554.8 277.7,559.9 278,557.3 278.3,556.4 278.6,559.9 278.9,557.7 279.2,559.6 279.5,560 279.8,560 280.1,554.7 280.4,559.6 280.7,559 281,559.1 281.3,560.1 281.6,557.1 281.9,557.2 282.2,554.8 282.5,559.5 282.8,558.8 283.1,557.1 283.4,550.4 283.7,550.7 284,554.8 284.3,551.7 284.6,558.5 284.9,538.5 285.2,551.1 285.5,549.7 285.8,540.1 286.1,557.1 286.2,558.1 286.4,498.6 286.5,557.1 286.4,540.9 286.7,552.8 287,535.8 287,558.1 287.1,530 287.2,557.1 287.3,558.9 287.6,554.4 287.9,541.1 288.2,546.8 288.5,550.4 288.8,541.9 289.1,555.4 289.4,547.6 289.7,560.1 289.9,558.1 290,504.5 290.1,557.1 290,531.4 290.1,558.1 290.2,556 290.3,557.1 290.3,554.4 290.6,530.1 290.9,543.3 291.2,541.2 291.5,540.3 291.8,558 292.1,533.5 292.4,553.4 292.7,529.7 293,533.6 293.3,538.7 293.6,532.5 293.9,548.7 294.2,539.2 294.5,526.4 294.8,556.6 294.8,558.1 294.9,535.7 295,557.1 295.1,558.7 295.4,549.9" fill="none" stroke="#111" stroke-width="0.8"/>
<polyline points="290,504.5 290.4,504.5 290.4,557" fill="none" stroke="#111" stroke-width="0.8"/>
<line x1="33.5" y1="296.2" x2="295.8" y2="296.2" stroke="#111" stroke-width="1.3"/>
<line x1="33.5" y1="362.2" x2="295.8" y2="362.2" stroke="#111" stroke-width="1.3"/>
<line x1="33.5" y1="494.7" x2="295.8" y2="494.7" stroke="#111" stroke-width="1.3"/>
<line x1="33.5" y1="559.9" x2="295.8" y2="559.9" stroke="#111" stroke-width="1.3"/>
<rect x="33.5" y="100.4" width="262.3" height="60.3" fill="none" stroke="#8c92c8" stroke-width="0.9"/>
<rect x="33.5" y="168.8" width="262.3" height="62.5" fill="none" stroke="#9a9a9a" stroke-width="0.9"/>
<rect x="33.5" y="234.5" width="262.3" height="62.7" fill="none" stroke="#9a9a9a" stroke-width="0.9"/>
<rect x="33.5" y="300.5" width="262.3" height="62.7" fill="none" stroke="#9a9a9a" stroke-width="0.9"/>
<rect x="33.5" y="371.5" width="262.3" height="57.8" fill="none" stroke="#9a9a9a" stroke-width="0.9"/>
<rect x="33.5" y="432.1" width="262.3" height="63.6" fill="none" stroke="#9a9a9a" stroke-width="0.9"/>
<rect x="33.5" y="497.8" width="262.3" height="63.1" fill="none" stroke="#9a9a9a" stroke-width="0.9"/>
<g font-family="Liberation Sans, Arial, sans-serif" fill="#1a1a1a" stroke="#1a1a1a" stroke-width="0.18" text-anchor="end">
<text x="32.2" y="105.5" font-size="7.5">2500</text>
<text x="32.2" y="115.6" font-size="7.5">2000</text>
<text x="32.2" y="127.8" font-size="7.5">1500</text>
<text x="32.2" y="139.4" font-size="7.5">1000</text>
<text x="32.2" y="151.7" font-size="7.5">500</text>
<text x="32.2" y="161.1" font-size="7.5">0</text>
<text x="31.6" y="242.8" font-size="8.3">140</text>
<text x="31.6" y="251.1" font-size="8.3">120</text>
<text x="31.6" y="259.5" font-size="8.3">100</text>
<text x="31.6" y="267.8" font-size="8.3">80</text>
<text x="31.6" y="276.2" font-size="8.3">60</text>
<text x="31.6" y="284.5" font-size="8.3">40</text>
<text x="31.6" y="292.9" font-size="8.3">20</text>
<text x="31.6" y="309" font-size="8.7">60</text>
<text x="31.6" y="318.4" font-size="8.7">50</text>
<text x="31.6" y="328" font-size="8.7">40</text>
<text x="31.6" y="337.5" font-size="8.7">30</text>
<text x="31.6" y="347.4" font-size="8.7">20</text>
<text x="31.6" y="356.2" font-size="8.7">10</text>
<text x="31.6" y="362.9" font-size="8.7">0</text>
<text x="31.6" y="441.5" font-size="8.6">100</text>
<text x="31.6" y="453.2" font-size="8.6">80</text>
<text x="31.6" y="464.4" font-size="8.6">60</text>
<text x="31.6" y="475.8" font-size="8.6">40</text>
<text x="31.6" y="487.4" font-size="8.6">20</text>
<text x="31.0" y="509.2" font-size="9.8">4</text>
<text x="31.0" y="523" font-size="9.8">3</text>
<text x="31.0" y="536.8" font-size="9.8">2</text>
<text x="31.0" y="550.5" font-size="9.8">1</text>
<text x="31.0" y="561.3" font-size="9.8">0</text>
</g>
<g font-family="Liberation Sans, Arial, sans-serif" fill="#1a1a1a" stroke="#1a1a1a" stroke-width="0.15" font-size="7.8">
<text x="29.9" y="571.7" textLength="7" lengthAdjust="spacingAndGlyphs">04</text>
<text x="82.3" y="571.7" textLength="7" lengthAdjust="spacingAndGlyphs">08</text>
<text x="135.2" y="571.7" textLength="7" lengthAdjust="spacingAndGlyphs">12</text>
<text x="187.3" y="571.7" textLength="7" lengthAdjust="spacingAndGlyphs">16</text>
<text x="239.7" y="571.7" textLength="7" lengthAdjust="spacingAndGlyphs">20</text>
<text x="291.4" y="571.7" textLength="7" lengthAdjust="spacingAndGlyphs">00</text>
<text x="160.6" y="580.4" textLength="7.6" lengthAdjust="spacingAndGlyphs">UT</text>
</g>
<g font-family="Liberation Sans, Arial, sans-serif" fill="#1a1a1a" stroke="#1a1a1a" stroke-width="0.12" font-size="8.8" text-anchor="middle">
<text transform="translate(9.6,131.1) rotate(-90)" textLength="7.8" lengthAdjust="spacingAndGlyphs">nT</text>
<text transform="translate(8.0,265.7) rotate(-90)" textLength="26.8" lengthAdjust="spacingAndGlyphs">nT/min</text>
<text transform="translate(7.3,463.7) rotate(-90)" textLength="25.6" lengthAdjust="spacingAndGlyphs">nT/min</text>
</g>
<line x1="29.5" y1="192.3" x2="29.5" y2="206.7" stroke="#222" stroke-width="0.9"/>
<line x1="27.8" y1="192.3" x2="31.2" y2="192.3" stroke="#222" stroke-width="0.9"/>
<line x1="27.8" y1="206.7" x2="31.2" y2="206.7" stroke="#222" stroke-width="0.9"/>
<text transform="translate(27.9,190.6) rotate(-90)" font-family="Liberation Sans, Arial, sans-serif" font-size="8.6" fill="#222" stroke="#222" stroke-width="0.12" text-anchor="middle" textLength="22.6" lengthAdjust="spacingAndGlyphs">500. nT</text>
<line x1="29.5" y1="394.6" x2="29.5" y2="406.4" stroke="#222" stroke-width="0.9"/>
<line x1="27.8" y1="394.6" x2="31.2" y2="394.6" stroke="#222" stroke-width="0.9"/>
<line x1="27.8" y1="406.4" x2="31.2" y2="406.4" stroke="#222" stroke-width="0.9"/>
<text transform="translate(27.9,390.7) rotate(-90)" font-family="Liberation Sans, Arial, sans-serif" font-size="8.6" fill="#222" stroke="#222" stroke-width="0.12" text-anchor="middle" textLength="22.6" lengthAdjust="spacingAndGlyphs">500. nT</text>
<g font-family="Liberation Sans, Arial, sans-serif" fill="#111" stroke="#111" stroke-width="0.2">
<text x="78.6" y="179.2" font-size="11.4" stroke-width="0.3" textLength="6.2" lengthAdjust="spacingAndGlyphs">X</text>
<text x="78.4" y="382.7" font-size="11.4" stroke-width="0.3" textLength="6.2" lengthAdjust="spacingAndGlyphs">X</text>
</g>
<polygon points="103.3,206.3 105.8,210.9 100.8,210.9" fill="none" stroke="#222" stroke-width="0.8"/>
<polygon points="104.8,408.3 107.3,412.9 102.3,412.9" fill="none" stroke="#222" stroke-width="0.8"/>
<g font-family="Liberation Sans, Arial, sans-serif" fill="#111" stroke="#111" stroke-width="0.2">
<text x="78.3" y="245.6" font-size="12.8" textLength="28.7" lengthAdjust="spacingAndGlyphs">IdB/dtI</text>
<text x="78.3" y="442.9" font-size="12.8" textLength="28.7" lengthAdjust="spacingAndGlyphs">IdB/dtI</text>
<text x="78.6" y="311.8" font-size="12.8" textLength="22.6" lengthAdjust="spacingAndGlyphs">IGICI</text>
<text x="78.6" y="510.2" font-size="12.8" textLength="22.6" lengthAdjust="spacingAndGlyphs">IGICI</text>
</g>
<g font-family="Liberation Sans, Arial, sans-serif" fill="#222" font-size="10.2" stroke="#222" stroke-width="0.12">
<text x="302.1" y="210.5" textLength="66.9" lengthAdjust="spacingAndGlyphs">IVA( 65.0°, 109.8°)</text>
<text x="302.8" y="251" textLength="66.9" lengthAdjust="spacingAndGlyphs">IVA( 65.0°, 109.8°)</text>
<text x="302.8" y="317.4" textLength="70.9" lengthAdjust="spacingAndGlyphs">VYH( 65.0°, 114.1°)</text>
<text x="300.7" y="411.5" textLength="72" lengthAdjust="spacingAndGlyphs">SOD( 63.8°, 107.7°)</text>
<text x="302.7" y="449.1" textLength="71.5" lengthAdjust="spacingAndGlyphs">SOD( 63.8°, 107.7°)</text>
<text x="302.7" y="514.8" textLength="71.5" lengthAdjust="spacingAndGlyphs">RVD( 63.8°, 114.9°)</text>
<text x="306.1" y="123.1" fill="#e63a30" stroke="#e63a30" stroke-width="0.1" font-size="8.3" textLength="9" lengthAdjust="spacingAndGlyphs">AE</text>
<text x="306.5" y="139.2" font-size="8.3" textLength="6.5" lengthAdjust="spacingAndGlyphs">EI</text>
</g>
<rect x="433.2" y="163.3" width="321.2" height="176.9" fill="#0000f4"/>
<polygon points="433.2,230.6 443.2,231.4 454.8,234.7 466.4,239.7 479.7,244.7 491.3,249.2 501.2,252.8 511.2,257.8 519.4,263.5 526.1,268 531,273 534,277 540.2,283 549.1,288 568.2,292.3 587.3,295.3 600,297 633.3,302.4 650,304.7 678,304.7 706,304 734.1,302.6 754.4,301.9 754.4,163.3 433.2,163.3" fill="#4a06c0"/>
<polygon points="676.2,176.7 685.8,169.5 693,163.3 754.4,163.3 754.4,199.4 740.7,198.2 721.6,194.6 697.7,189.8 681,183.9" fill="#0000f4"/>
<polygon points="433.2,163.3 433.2,208.2 440,210.7 438.3,218.2 436.6,223.2 446.6,226.5 459.8,229 473.1,233.1 484.7,238.9 496.2,243 507.8,248 517.8,253 526.1,257 532,262 537,268 541.5,273.4 550.4,280 568.2,285.5 593.7,289.5 630,293 650,298.5 678,299 706,297 734.1,294.1 754.4,293.4 754.4,213 749.8,212.7 733.2,208.3 711,207.2 696,204 685.8,201 678.6,197 670,189 655.9,184.8 646,178.2 639.4,169.9 637.7,163.3 626.1,163.3 622.8,165 614.5,169.1 602.9,174.1 589.2,175.9 576.4,176.4 563.7,173.8 554.8,170 545,163.3" fill="#56005e"/>
<polygon points="476.4,233.1 481.3,222.3 489.6,219.8 499.6,215.7 509.5,210.7 519.4,206.6 525.5,204.4 538.2,199.3 551,191 559.9,187 570,185.8 582.8,185.8 600,186.8 606.2,187.2 622.8,190 639.4,193 650,197 664,199.5 680.7,202 692.9,204.5 699,208.2 703.1,216.4 707.2,222.5 715,226.6 733.2,228.2 749.8,230.4 754.4,231 754.4,287.1 720.1,288.5 699,293.4 678,296.2 650,296.5 630,292 600,287.4 581,284.9 561.8,279.8 550.4,274.7 542.7,267 536.4,258.1 530,252 516.1,249.7 506.2,244.7 496.2,241.4 486.3,238.1 478,234.7" fill="#a80000"/>
<polygon points="481.3,233.1 486.3,228.1 496.2,225.6 500,222.5 508,218 519,212.5 532,208 545,203.3 555,199 564,195.5 576.4,194.5 589.7,195.6 606.2,197.3 622.8,199.7 639.4,202.2 655.9,207 670.4,211.2 680.7,220.4 683.7,228.6 690.9,233.7 701.1,236.8 715,238.8 733.2,240.4 749.8,241.5 754.4,242 754.4,279 734.1,280 713,283 692,288 676.4,290.7 650,291.5 630,288 606.4,285 587.3,282.3 572,278.5 559.3,273.4 551.7,268.3 549.1,261.9 550.4,254.3 555.5,246.7 551.7,243.5 540.2,240.3 530,239.2 522.7,240.5 510,240.4 499.6,239.6 490,238.3 484,236.2" fill="#fb0606"/>
<polygon points="528.5,222.5 538.2,214.6 548.4,209.5 557.3,206.3 570,204.4 582.8,204.4 601.3,206.4 614.5,209.7 631.1,212.2 647.7,214.7 660.2,219 661.2,226 663,233.5 680.7,238.8 696,242.9 715,248 733.2,253.7 749.8,257 751,262 750,268.5 734.1,272 720,276 699,281.5 691.7,285.5 676,288 661.1,289 645,287.5 630.6,285.4 619.2,283 606.4,281.5 593.7,279.8 581,277.2 568.2,273.4 561.8,269.6 572,263.2 582.2,256.8 574.6,249.2 565.7,241.6 555.5,235.2 542.7,232 530,228" fill="#ff5503"/>
<polygon points="486.4,233.3 491.8,229.7 500.7,229.3 509.6,230.6 516.7,233.3 509.6,235.1 500.7,236 491.8,236" fill="#ff5503"/>
<polygon points="490.5,233.6 494,232.3 498,232.6 497,234.8 492,235" fill="#ffa057"/>
<polygon points="550,222 562,212 574,210 594.5,210 584,217.5 574.5,225.3 557,225" fill="#ffa057"/>
<polygon points="601.3,222.9 606.2,218.8 626.1,218 641,221.3 646,229.6 650,236.8 660.2,240.9 675.5,242.9 690.9,248 706.2,255.2 712.5,259.5 713.9,264.7 713.9,269.3 697.8,273.9 682.5,277.7 668.8,282.3 653.5,285.2 638.2,283.5 622.9,279.5 609.2,275.4 600,272.4 593.7,270.6 581,269 593.7,267 606.4,261.9 614.1,253 612.8,244.1 602.6,237.7" fill="#ffa057"/>
<polygon points="614.5,268.6 624.5,263.2 633.6,255.6 639.7,247.9 645.9,244.9 653.5,244.1 661.1,246.4 667.3,252.5 674.9,260.2 685.6,265.5 696.3,267.8 685.6,269.3 673.4,271.6 667.3,276.2 661.1,280.8 650.4,281.6 641.3,277 633.6,272.4 622.9,270.1 614.5,269.3" fill="#ffff14"/>
<rect x="439.9" y="185.8" width="2.2" height="2.2" fill="#1a0a3a"/>
<rect x="439.9" y="190.5" width="2.2" height="2.2" fill="#1a0a3a"/>
<rect x="438.4" y="196.8" width="2.2" height="2.2" fill="#1a0a3a"/>
<rect x="443.1" y="203.1" width="2.2" height="2.2" fill="#1a0a3a"/>
<rect x="435.2" y="214.2" width="2.2" height="2.2" fill="#1a0a3a"/>
<rect x="435.2" y="234.7" width="2.2" height="2.2" fill="#1a0a3a"/>
<rect x="435.2" y="244.1" width="2.2" height="2.2" fill="#1a0a3a"/>
<rect x="435.2" y="250.5" width="2.2" height="2.2" fill="#1a0a3a"/>
<rect x="473.1" y="248.9" width="2.2" height="2.2" fill="#1a0a3a"/>
<rect x="496.7" y="234.1" width="2.2" height="2.2" fill="#1a0a3a"/>
<rect x="435.2" y="280.4" width="2.2" height="2.2" fill="#1a0a3a"/>
<rect x="441.5" y="312.9" width="2.2" height="2.2" fill="#1a0a3a"/>
<rect x="463.6" y="329.3" width="2.2" height="2.2" fill="#1a0a3a"/>
<rect x="496.7" y="337.9" width="2.2" height="2.2" fill="#1a0a3a"/>
<rect x="556.6" y="304.1" width="2.2" height="2.2" fill="#1a0a3a"/>
<rect x="581.9" y="318.3" width="2.2" height="2.2" fill="#1a0a3a"/>
<rect x="551.9" y="247.3" width="2.2" height="2.2" fill="#1a0a3a"/>
<rect x="699.3" y="236.6" width="2.2" height="2.2" fill="#1a0a3a"/>
<rect x="729.7" y="236.6" width="2.2" height="2.2" fill="#1a0a3a"/>
<rect x="699.3" y="252.4" width="2.2" height="2.2" fill="#1a0a3a"/>
<rect x="729.7" y="250.7" width="2.2" height="2.2" fill="#1a0a3a"/>
<rect x="697.2" y="267.5" width="2.2" height="2.2" fill="#1a0a3a"/>
<rect x="734" y="269.7" width="2.2" height="2.2" fill="#1a0a3a"/>
<rect x="701.5" y="276.6" width="2.2" height="2.2" fill="#1a0a3a"/>
<rect x="723.2" y="281" width="2.2" height="2.2" fill="#1a0a3a"/>
<rect x="718.8" y="289.2" width="2.2" height="2.2" fill="#1a0a3a"/>
<rect x="711.2" y="291.4" width="2.2" height="2.2" fill="#1a0a3a"/>
<rect x="702.6" y="294" width="2.2" height="2.2" fill="#1a0a3a"/>
<rect x="689.6" y="293.5" width="2.2" height="2.2" fill="#1a0a3a"/>
<rect x="732.9" y="293.5" width="2.2" height="2.2" fill="#1a0a3a"/>
<rect x="735.1" y="304.8" width="2.2" height="2.2" fill="#1a0a3a"/>
<rect x="692.8" y="308.7" width="2.2" height="2.2" fill="#1a0a3a"/>
<rect x="701.5" y="311.7" width="2.2" height="2.2" fill="#1a0a3a"/>
<rect x="680.9" y="315.6" width="2.2" height="2.2" fill="#1a0a3a"/>
<rect x="660.4" y="281.4" width="2.2" height="2.2" fill="#1a0a3a"/>
<rect x="633.3" y="322.1" width="2.2" height="2.2" fill="#1a0a3a"/>
<rect x="640.9" y="252.4" width="2.2" height="2.2" fill="#1a0a3a"/>
<rect x="652.8" y="245.2" width="2.2" height="2.2" fill="#1a0a3a"/>
<rect x="700.9" y="177.8" width="2.2" height="2.2" fill="#1a0a3a"/>
<rect x="726.3" y="196.7" width="2.2" height="2.2" fill="#1a0a3a"/>
<rect x="682" y="227.7" width="2.2" height="2.2" fill="#1a0a3a"/>
<rect x="623.9" y="222.9" width="2.2" height="2.2" fill="#1a0a3a"/>
<rect x="638" y="215.9" width="2.2" height="2.2" fill="#1a0a3a"/>
<rect x="595.1" y="250.6" width="2.2" height="2.2" fill="#1a0a3a"/>
<rect x="551.4" y="246.7" width="2.2" height="2.2" fill="#1a0a3a"/>
<rect x="660.8" y="281.2" width="2.2" height="2.2" fill="#1a0a3a"/>
<polygon points="453.1,191.3 456.3,194.5 453.1,197.7 449.9,194.5" fill="#ffffff"/>
<polygon points="473.1,187.3 476.3,190.5 473.1,193.7 469.9,190.5" fill="#ffffff"/>
<polygon points="493,189 496.2,192.2 493,195.4 489.8,192.2" fill="#ffffff"/>
<polygon points="513,196 516.2,199.2 513,202.4 509.8,199.2" fill="#ffffff"/>
<polygon points="533,210.1 536.2,213.3 533,216.5 529.8,213.3" fill="#ffffff"/>
<polygon points="553.1,226.2 556.3,229.4 553.1,232.6 549.9,229.4" fill="#ffffff"/>
<polygon points="573.5,237.7 576.7,240.9 573.5,244.1 570.3,240.9" fill="#ffffff"/>
<polygon points="593.7,243.7 596.9,246.9 593.7,250.1 590.5,246.9" fill="#ffffff"/>
<polygon points="613.6,235.7 616.8,238.9 613.6,242.1 610.4,238.9" fill="#ffffff"/>
<polygon points="633.8,229 637,232.2 633.8,235.4 630.6,232.2" fill="#ffffff"/>
<polygon points="653.9,195.7 657.1,198.9 653.9,202.1 650.7,198.9" fill="#ffffff"/>
<polygon points="673.8,179.9 677,183.1 673.8,186.3 670.6,183.1" fill="#ffffff"/>
<polygon points="694,177 697.2,180.2 694,183.4 690.8,180.2" fill="#ffffff"/>
<polygon points="714.2,182.4 717.4,185.6 714.2,188.8 711,185.6" fill="#ffffff"/>
<polygon points="734.3,187.5 737.5,190.7 734.3,193.9 731.1,190.7" fill="#ffffff"/>
<polygon points="453,221 456,224 453,227 450,224" fill="#bab045"/>
<polygon points="473.1,216.8 476.1,219.8 473.1,222.8 470.1,219.8" fill="#bab045"/>
<polygon points="493,219.3 496,222.3 493,225.3 490,222.3" fill="#bab045"/>
<polygon points="513,225.7 516,228.7 513,231.7 510,228.7" fill="#bab045"/>
<polygon points="533,239.9 536,242.9 533,245.9 530,242.9" fill="#bab045"/>
<polygon points="553.1,255.7 556.1,258.7 553.1,261.7 550.1,258.7" fill="#bab045"/>
<polygon points="573.5,267.3 576.5,270.3 573.5,273.3 570.5,270.3" fill="#bab045"/>
<polygon points="593.7,273.7 596.7,276.7 593.7,279.7 590.7,276.7" fill="#bab045"/>
<polygon points="613.6,265.4 616.6,268.4 613.6,271.4 610.6,268.4" fill="#bab045"/>
<polygon points="633.8,258.8 636.8,261.8 633.8,264.8 630.8,261.8" fill="#bab045"/>
<polygon points="653.9,237 656.9,240 653.9,243 650.9,240" fill="#bab045"/>
<polygon points="674,238 677,241 674,244 671,241" fill="#bab045"/>
<polygon points="694,233.5 697,236.5 694,239.5 691,236.5" fill="#bab045"/>
<polygon points="714.2,233.5 717.2,236.5 714.2,239.5 711.2,236.5" fill="#bab045"/>
<polygon points="734.3,233.9 737.3,236.9 734.3,239.9 731.3,236.9" fill="#bab045"/>
<rect x="759.2" y="182.2" width="9.6" height="14.8" fill="#ffffe8"/>
<rect x="759.2" y="196.7" width="9.6" height="14.8" fill="#ffff96"/>
<rect x="759.2" y="211.1" width="9.6" height="14.8" fill="#ffff14"/>
<rect x="759.2" y="225.6" width="9.6" height="14.8" fill="#ffa057"/>
<rect x="759.2" y="240.1" width="9.6" height="14.8" fill="#ff5503"/>
<rect x="759.2" y="254.5" width="9.6" height="14.8" fill="#fb0606"/>
<rect x="759.2" y="269" width="9.6" height="14.8" fill="#a80000"/>
<rect x="759.2" y="283.5" width="9.6" height="14.8" fill="#56005e"/>
<rect x="759.2" y="298" width="9.6" height="14.8" fill="#4a06c0"/>
<rect x="759.2" y="312.4" width="9.6" height="14.8" fill="#0000f4"/>
<rect x="759.2" y="182.2" width="9.6" height="144.7" fill="none" stroke="#888" stroke-width="0.6"/>
<rect x="433.2" y="373.3" width="321.2" height="177.2" fill="#0000f4"/>
<polygon points="626.7,373.3 664.5,373.3 656.5,384.6 661.1,389.2 670.3,394.9 680,401.8 690.9,414.3 702,421 693.1,427.6 679.8,436.5 668.7,443.1 675.4,449.8 684.2,454.2 682,458.6 664.3,465.3 646.6,471.9 640,478 624.1,483.6 606.3,485.8 588.6,486.9 570.9,483.6 566.5,474.7 564.1,465 562.6,459.8 558,450.6 545.7,444.4 533.4,436.8 524.2,430.6 522.7,426 527.3,419.9 539.5,410.7 550.3,403 561,396.9 573.3,392.3 591.7,386.1 607,380 618.7,376.5" fill="#4a06c0"/>
<polygon points="535,423 541.1,416.8 550.3,410.7 561,403 573.3,398.4 588.6,397.6 607,396.9 624.4,397.8 635.9,400.1 647.3,403 658.8,406.4 670.3,411 680,416 681,421 675.4,427.6 662.1,436.5 657.7,445.3 664.3,454.2 659.9,458.6 642.2,463 625,461.2 613.2,459.6 596.3,456 581,450.6 565.6,444.4 550.3,436.8 538,429.1" fill="#56005e"/>
<polygon points="552.6,430.6 553.4,426 561,419.9 573.3,414.5 588.6,413 607,413.8 625,415.3 633.3,416.5 648.8,423.2 655.4,429.8 653.2,436.5 642.2,443.1 630,449 610.1,450.6 591.7,447.5 573.3,442.9 559.5,436.8" fill="#a80000"/>
<polygon points="585.6,432.2 594.8,426 607,424.5 625,422.5 633.3,422.1 644.4,427.6 646.6,433.1 637.7,437.6 625,443 610.1,442.1 597.8,438.3" fill="#fb0606"/>
<polygon points="604,432.9 613.2,429.1 625,428.3 633,429 636,432 632.9,436.5 625,438 613.2,436.8" fill="#ff5503"/>
<rect x="439.9" y="395.7" width="2.2" height="2.2" fill="#1a0a3a"/>
<rect x="439.9" y="400.4" width="2.2" height="2.2" fill="#1a0a3a"/>
<rect x="438.4" y="406.7" width="2.2" height="2.2" fill="#1a0a3a"/>
<rect x="443.1" y="413" width="2.2" height="2.2" fill="#1a0a3a"/>
<rect x="435.2" y="424.1" width="2.2" height="2.2" fill="#1a0a3a"/>
<rect x="435.2" y="444.6" width="2.2" height="2.2" fill="#1a0a3a"/>
<rect x="435.2" y="454" width="2.2" height="2.2" fill="#1a0a3a"/>
<rect x="435.2" y="460.4" width="2.2" height="2.2" fill="#1a0a3a"/>
<rect x="473.1" y="458.8" width="2.2" height="2.2" fill="#1a0a3a"/>
<rect x="496.7" y="444" width="2.2" height="2.2" fill="#1a0a3a"/>
<rect x="435.2" y="490.3" width="2.2" height="2.2" fill="#1a0a3a"/>
<rect x="441.5" y="522.8" width="2.2" height="2.2" fill="#1a0a3a"/>
<rect x="463.6" y="539.2" width="2.2" height="2.2" fill="#1a0a3a"/>
<rect x="496.7" y="547.8" width="2.2" height="2.2" fill="#1a0a3a"/>
<rect x="556.6" y="514" width="2.2" height="2.2" fill="#1a0a3a"/>
<rect x="581.9" y="528.2" width="2.2" height="2.2" fill="#1a0a3a"/>
<rect x="551.9" y="457.2" width="2.2" height="2.2" fill="#1a0a3a"/>
<rect x="699.3" y="446.5" width="2.2" height="2.2" fill="#1a0a3a"/>
<rect x="729.7" y="446.5" width="2.2" height="2.2" fill="#1a0a3a"/>
<rect x="699.3" y="462.3" width="2.2" height="2.2" fill="#1a0a3a"/>
<rect x="729.7" y="460.6" width="2.2" height="2.2" fill="#1a0a3a"/>
<rect x="697.2" y="477.4" width="2.2" height="2.2" fill="#1a0a3a"/>
<rect x="734" y="479.6" width="2.2" height="2.2" fill="#1a0a3a"/>
<rect x="701.5" y="486.5" width="2.2" height="2.2" fill="#1a0a3a"/>
<rect x="723.2" y="490.9" width="2.2" height="2.2" fill="#1a0a3a"/>
<rect x="718.8" y="499.1" width="2.2" height="2.2" fill="#1a0a3a"/>
<rect x="711.2" y="501.3" width="2.2" height="2.2" fill="#1a0a3a"/>
<rect x="702.6" y="503.9" width="2.2" height="2.2" fill="#1a0a3a"/>
<rect x="689.6" y="503.4" width="2.2" height="2.2" fill="#1a0a3a"/>
<rect x="732.9" y="503.4" width="2.2" height="2.2" fill="#1a0a3a"/>
<rect x="735.1" y="514.7" width="2.2" height="2.2" fill="#1a0a3a"/>
<rect x="692.8" y="518.6" width="2.2" height="2.2" fill="#1a0a3a"/>
<rect x="701.5" y="521.6" width="2.2" height="2.2" fill="#1a0a3a"/>
<rect x="680.9" y="525.5" width="2.2" height="2.2" fill="#1a0a3a"/>
<rect x="660.4" y="491.3" width="2.2" height="2.2" fill="#1a0a3a"/>
<rect x="633.3" y="532" width="2.2" height="2.2" fill="#1a0a3a"/>
<rect x="640.9" y="462.3" width="2.2" height="2.2" fill="#1a0a3a"/>
<rect x="652.8" y="455.1" width="2.2" height="2.2" fill="#1a0a3a"/>
<rect x="700.9" y="387.7" width="2.2" height="2.2" fill="#1a0a3a"/>
<rect x="726.3" y="406.6" width="2.2" height="2.2" fill="#1a0a3a"/>
<rect x="682" y="437.6" width="2.2" height="2.2" fill="#1a0a3a"/>
<rect x="623.9" y="432.8" width="2.2" height="2.2" fill="#1a0a3a"/>
<rect x="638" y="425.8" width="2.2" height="2.2" fill="#1a0a3a"/>
<rect x="595.1" y="460.5" width="2.2" height="2.2" fill="#1a0a3a"/>
<rect x="551.4" y="456.6" width="2.2" height="2.2" fill="#1a0a3a"/>
<rect x="660.8" y="491.1" width="2.2" height="2.2" fill="#1a0a3a"/>
<polygon points="453.1,401.2 456.3,404.4 453.1,407.6 449.9,404.4" fill="#ffffff"/>
<polygon points="473.1,397.2 476.3,400.4 473.1,403.6 469.9,400.4" fill="#ffffff"/>
<polygon points="493,398.9 496.2,402.1 493,405.3 489.8,402.1" fill="#ffffff"/>
<polygon points="513,405.9 516.2,409.1 513,412.3 509.8,409.1" fill="#ffffff"/>
<polygon points="533,420 536.2,423.2 533,426.4 529.8,423.2" fill="#ffffff"/>
<polygon points="553.1,436.1 556.3,439.3 553.1,442.5 549.9,439.3" fill="#ffffff"/>
<polygon points="573.5,447.6 576.7,450.8 573.5,454 570.3,450.8" fill="#ffffff"/>
<polygon points="593.7,453.6 596.9,456.8 593.7,460 590.5,456.8" fill="#ffffff"/>
<polygon points="613.6,445.6 616.8,448.8 613.6,452 610.4,448.8" fill="#ffffff"/>
<polygon points="633.8,438.9 637,442.1 633.8,445.3 630.6,442.1" fill="#ffffff"/>
<polygon points="653.9,405.6 657.1,408.8 653.9,412 650.7,408.8" fill="#ffffff"/>
<polygon points="673.8,389.8 677,393 673.8,396.2 670.6,393" fill="#ffffff"/>
<polygon points="694,386.9 697.2,390.1 694,393.3 690.8,390.1" fill="#ffffff"/>
<polygon points="714.2,392.3 717.4,395.5 714.2,398.7 711,395.5" fill="#ffffff"/>
<polygon points="734.3,397.4 737.5,400.6 734.3,403.8 731.1,400.6" fill="#ffffff"/>
<polygon points="453,430.9 456,433.9 453,436.9 450,433.9" fill="#bab045"/>
<polygon points="473.1,426.7 476.1,429.7 473.1,432.7 470.1,429.7" fill="#bab045"/>
<polygon points="493,429.2 496,432.2 493,435.2 490,432.2" fill="#bab045"/>
<polygon points="513,435.6 516,438.6 513,441.6 510,438.6" fill="#bab045"/>
<polygon points="533,449.8 536,452.8 533,455.8 530,452.8" fill="#bab045"/>
<polygon points="553.1,465.6 556.1,468.6 553.1,471.6 550.1,468.6" fill="#bab045"/>
<polygon points="573.5,477.2 576.5,480.2 573.5,483.2 570.5,480.2" fill="#bab045"/>
<polygon points="593.7,483.6 596.7,486.6 593.7,489.6 590.7,486.6" fill="#bab045"/>
<polygon points="613.6,475.3 616.6,478.3 613.6,481.3 610.6,478.3" fill="#bab045"/>
<polygon points="633.8,468.7 636.8,471.7 633.8,474.7 630.8,471.7" fill="#bab045"/>
<polygon points="653.9,446.9 656.9,449.9 653.9,452.9 650.9,449.9" fill="#bab045"/>
<polygon points="674,447.9 677,450.9 674,453.9 671,450.9" fill="#bab045"/>
<polygon points="694,443.4 697,446.4 694,449.4 691,446.4" fill="#bab045"/>
<polygon points="714.2,443.4 717.2,446.4 714.2,449.4 711.2,446.4" fill="#bab045"/>
<polygon points="734.3,443.8 737.3,446.8 734.3,449.8 731.3,446.8" fill="#bab045"/>
<rect x="759.2" y="392.1" width="9.6" height="14.8" fill="#ffffe8"/>
<rect x="759.2" y="406.6" width="9.6" height="14.8" fill="#ffff96"/>
<rect x="759.2" y="421.1" width="9.6" height="14.8" fill="#ffff14"/>
<rect x="759.2" y="435.5" width="9.6" height="14.8" fill="#ffa057"/>
<rect x="759.2" y="450" width="9.6" height="14.8" fill="#ff5503"/>
<rect x="759.2" y="464.5" width="9.6" height="14.8" fill="#fb0606"/>
<rect x="759.2" y="479" width="9.6" height="14.8" fill="#a80000"/>
<rect x="759.2" y="493.5" width="9.6" height="14.8" fill="#56005e"/>
<rect x="759.2" y="507.9" width="9.6" height="14.8" fill="#4a06c0"/>
<rect x="759.2" y="522.4" width="9.6" height="14.8" fill="#0000f4"/>
<rect x="759.2" y="392.1" width="9.6" height="144.8" fill="none" stroke="#888" stroke-width="0.6"/>
<g font-family="Liberation Sans, Arial, sans-serif" fill="#1a1a1a" stroke="#1a1a1a" stroke-width="0.15">
<text x="420.6" y="170.2" font-size="10.6" textLength="10.4" lengthAdjust="spacingAndGlyphs">80</text>
<text x="420.6" y="196.5" font-size="10.6" textLength="10.4" lengthAdjust="spacingAndGlyphs">75</text>
<text x="420.6" y="226.3" font-size="10.6" textLength="10.4" lengthAdjust="spacingAndGlyphs">70</text>
<text x="420.6" y="255.3" font-size="10.6" textLength="10.4" lengthAdjust="spacingAndGlyphs">65</text>
<text x="420.6" y="284.8" font-size="10.6" textLength="10.4" lengthAdjust="spacingAndGlyphs">60</text>
<text x="420.6" y="314.3" font-size="10.6" textLength="10.4" lengthAdjust="spacingAndGlyphs">55</text>
<text x="420.6" y="340.8" font-size="10.6" textLength="10.4" lengthAdjust="spacingAndGlyphs">50</text>
<text x="428.3" y="354.7" font-size="10.6" textLength="9.8" lengthAdjust="spacingAndGlyphs">16</text>
<text x="468.4" y="354.7" font-size="10.6" textLength="9.8" lengthAdjust="spacingAndGlyphs">18</text>
<text x="508.6" y="354.7" font-size="10.6" textLength="9.8" lengthAdjust="spacingAndGlyphs">20</text>
<text x="548.6" y="354.7" font-size="10.6" textLength="9.8" lengthAdjust="spacingAndGlyphs">22</text>
<text x="588.9" y="354.7" font-size="10.6" textLength="9.8" lengthAdjust="spacingAndGlyphs">00</text>
<text x="629.1" y="354.7" font-size="10.6" textLength="9.8" lengthAdjust="spacingAndGlyphs">02</text>
<text x="669.2" y="354.7" font-size="10.6" textLength="9.8" lengthAdjust="spacingAndGlyphs">04</text>
<text x="709.3" y="354.7" font-size="10.6" textLength="9.8" lengthAdjust="spacingAndGlyphs">06</text>
<text x="749.5" y="354.7" font-size="10.6" textLength="9.8" lengthAdjust="spacingAndGlyphs">08</text>
<text transform="translate(411.3,250.5) rotate(-90)" font-size="10" text-anchor="middle" textLength="42.5" lengthAdjust="spacingAndGlyphs">LATITUDE</text>
<text x="420.6" y="380.1" font-size="10.6" textLength="10.4" lengthAdjust="spacingAndGlyphs">80</text>
<text x="420.6" y="406.4" font-size="10.6" textLength="10.4" lengthAdjust="spacingAndGlyphs">75</text>
<text x="420.6" y="436.2" font-size="10.6" textLength="10.4" lengthAdjust="spacingAndGlyphs">70</text>
<text x="420.6" y="465.2" font-size="10.6" textLength="10.4" lengthAdjust="spacingAndGlyphs">65</text>
<text x="420.6" y="494.7" font-size="10.6" textLength="10.4" lengthAdjust="spacingAndGlyphs">60</text>
<text x="420.6" y="524.2" font-size="10.6" textLength="10.4" lengthAdjust="spacingAndGlyphs">55</text>
<text x="420.6" y="550.7" font-size="10.6" textLength="10.4" lengthAdjust="spacingAndGlyphs">50</text>
<text x="428.3" y="564.6" font-size="10.6" textLength="9.8" lengthAdjust="spacingAndGlyphs">16</text>
<text x="468.4" y="564.6" font-size="10.6" textLength="9.8" lengthAdjust="spacingAndGlyphs">18</text>
<text x="508.6" y="564.6" font-size="10.6" textLength="9.8" lengthAdjust="spacingAndGlyphs">20</text>
<text x="548.6" y="564.6" font-size="10.6" textLength="9.8" lengthAdjust="spacingAndGlyphs">22</text>
<text x="588.9" y="564.6" font-size="10.6" textLength="9.8" lengthAdjust="spacingAndGlyphs">00</text>
<text x="629.1" y="564.6" font-size="10.6" textLength="9.8" lengthAdjust="spacingAndGlyphs">02</text>
<text x="669.2" y="564.6" font-size="10.6" textLength="9.8" lengthAdjust="spacingAndGlyphs">04</text>
<text x="709.3" y="564.6" font-size="10.6" textLength="9.8" lengthAdjust="spacingAndGlyphs">06</text>
<text x="749.5" y="564.6" font-size="10.6" textLength="9.8" lengthAdjust="spacingAndGlyphs">08</text>
<text transform="translate(411.3,460.4) rotate(-90)" font-size="10" text-anchor="middle" textLength="42.5" lengthAdjust="spacingAndGlyphs">LATITUDE</text>
<text x="497.9" y="159.8" font-size="10.3" textLength="31.4" lengthAdjust="spacingAndGlyphs">170315</text>
<text x="541.6" y="159.8" font-size="10.3" textLength="38.7" lengthAdjust="spacingAndGlyphs">13:33 UT</text>
<text x="602.3" y="159.8" font-size="10.3" textLength="5.8" lengthAdjust="spacingAndGlyphs">X</text>
<text x="590.1" y="370.1" font-size="11" textLength="28.7" lengthAdjust="spacingAndGlyphs">IdB/dtI</text>
<text x="594.4" y="585.9" font-size="10.6" textLength="18.6" lengthAdjust="spacingAndGlyphs">MLT</text>
<text x="773.2" y="218.8" font-size="7.4">800</text>
<line x1="768.8" y1="215.2" x2="770.6" y2="215.2" stroke="#777" stroke-width="0.6"/>
<text x="773.2" y="268.8" font-size="7.4">400</text>
<line x1="768.8" y1="265.2" x2="770.6" y2="265.2" stroke="#777" stroke-width="0.6"/>
<text x="773.2" y="427.4" font-size="7.4">600</text>
<line x1="768.8" y1="423.8" x2="770.6" y2="423.8" stroke="#777" stroke-width="0.6"/>
<text x="773.2" y="464.1" font-size="7.4">400</text>
<line x1="768.8" y1="460.5" x2="770.6" y2="460.5" stroke="#777" stroke-width="0.6"/>
<text x="773.2" y="501.1" font-size="7.4">200</text>
<line x1="768.8" y1="497.5" x2="770.6" y2="497.5" stroke="#777" stroke-width="0.6"/>
</g>
</svg>
</body></html>
